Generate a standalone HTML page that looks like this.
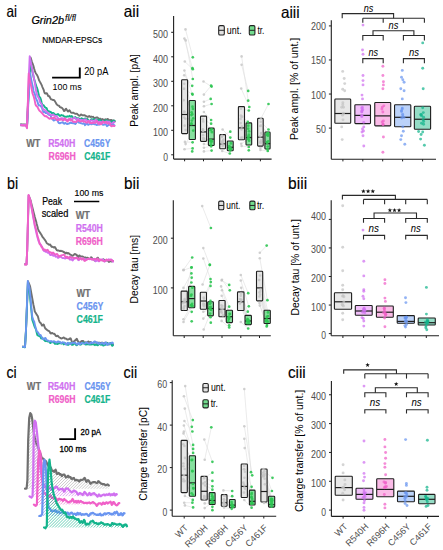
<!DOCTYPE html>
<html><head><meta charset="utf-8"><style>
html,body{margin:0;padding:0;background:#fff;width:443px;height:550px;overflow:hidden}
svg{display:block}
text{font-family:"Liberation Sans",sans-serif}
</style></head><body>
<svg width="443" height="550" viewBox="0 0 443 550">
<rect x="0" y="0" width="443" height="550" fill="#fff"/>
<text x="6.50" y="16.90" font-size="16.5" fill="#000" textLength="10.50" lengthAdjust="spacingAndGlyphs" stroke="#000" stroke-width="0.15" stroke-linejoin="round">ai</text>
<text x="123.70" y="17.20" font-size="16.5" fill="#000" textLength="15.40" lengthAdjust="spacingAndGlyphs" stroke="#000" stroke-width="0.15" stroke-linejoin="round">aii</text>
<text x="280.90" y="17.60" font-size="16.5" fill="#000" textLength="18.70" lengthAdjust="spacingAndGlyphs" stroke="#000" stroke-width="0.15" stroke-linejoin="round">aiii</text>
<text x="7.00" y="189.00" font-size="16.5" fill="#000" textLength="11.10" lengthAdjust="spacingAndGlyphs" stroke="#000" stroke-width="0.15" stroke-linejoin="round">bi</text>
<text x="124.00" y="189.10" font-size="16.5" fill="#000" textLength="15.30" lengthAdjust="spacingAndGlyphs" stroke="#000" stroke-width="0.15" stroke-linejoin="round">bii</text>
<text x="288.10" y="189.00" font-size="16.5" fill="#000" textLength="19.00" lengthAdjust="spacingAndGlyphs" stroke="#000" stroke-width="0.15" stroke-linejoin="round">biii</text>
<text x="6.50" y="377.60" font-size="16.5" fill="#000" textLength="10.20" lengthAdjust="spacingAndGlyphs" stroke="#000" stroke-width="0.15" stroke-linejoin="round">ci</text>
<text x="123.50" y="377.60" font-size="16.5" fill="#000" textLength="13.60" lengthAdjust="spacingAndGlyphs" stroke="#000" stroke-width="0.15" stroke-linejoin="round">cii</text>
<text x="287.90" y="377.60" font-size="16.5" fill="#000" textLength="17.80" lengthAdjust="spacingAndGlyphs" stroke="#000" stroke-width="0.15" stroke-linejoin="round">ciii</text>
<text x="31.40" y="24.30" font-size="10.3" fill="#000" font-style="italic" textLength="32.60" lengthAdjust="spacingAndGlyphs" stroke="#000" stroke-width="0.2" stroke-linejoin="round">Grin2b</text>
<text x="65.00" y="21.20" font-size="8.2" fill="#000" font-style="italic" textLength="11.00" lengthAdjust="spacingAndGlyphs" stroke="#000" stroke-width="0.1" stroke-linejoin="round">fl/fl</text>
<text x="42.30" y="43.10" font-size="8.9" fill="#000" textLength="59.80" lengthAdjust="spacingAndGlyphs" stroke="#000" stroke-width="0.15" stroke-linejoin="round">NMDAR-EPSCs</text>
<polyline points="21.00,124.30 21.62,124.34 22.25,124.38 22.88,124.41 23.50,124.45 24.12,124.49 24.75,124.52 25.38,124.56 26.00,124.60 26.50,125.30 27.00,126.00 27.70,110.50 28.40,95.00 28.95,85.62 29.50,76.25 30.05,66.88 30.60,57.50 31.30,59.75 32.00,62.00 32.70,63.96 33.40,65.78 34.10,68.51 34.80,70.88 35.50,72.64 36.11,73.74 36.73,74.54 37.34,75.61 37.96,76.95 38.57,78.80 39.19,80.57 39.80,81.63 40.43,82.71 41.06,83.93 41.69,85.16 42.31,86.77 42.94,88.24 43.57,89.54 44.20,91.80 44.86,93.43 45.53,93.66 46.19,93.25 46.85,93.23 47.52,94.47 48.18,96.12 48.85,96.30 49.51,96.28 50.17,97.78 50.84,99.22 51.50,99.39 52.15,99.61 52.81,99.99 53.46,99.88 54.12,100.07 54.77,100.96 55.42,102.14 56.08,103.35 56.73,104.38 57.38,104.93 58.04,105.37 58.69,105.66 59.35,106.07 60.00,107.18 60.67,107.52 61.35,107.47 62.03,107.96 62.70,108.64 63.38,109.74 64.05,110.96 64.73,110.82 65.40,109.28 66.08,108.71 66.75,109.71 67.42,110.86 68.10,111.57 68.78,111.00 69.45,110.19 70.12,111.11 70.80,112.37 71.48,112.76 72.16,112.84 72.84,112.65 73.52,112.73 74.20,113.27 74.88,113.70 75.56,113.86 76.24,113.75 76.92,113.81 77.60,114.36 78.28,114.95 78.96,115.62 79.64,115.78 80.31,115.14 80.99,114.55 81.67,114.66 82.35,115.24 83.03,115.34 83.71,115.22 84.39,115.25 85.06,115.49 85.74,115.86 86.42,116.19 87.10,116.72 87.77,116.95 88.45,116.48 89.12,116.07 89.80,116.66 90.47,117.04 91.15,116.57 91.83,116.73 92.50,116.86 93.17,116.78 93.85,117.70 94.53,118.18 95.20,117.84 95.88,117.66 96.56,117.51 97.24,117.40 97.91,117.76 98.59,118.81 99.27,119.17 99.95,118.58 100.63,118.71 101.31,120.02 101.99,120.00 102.66,118.95 103.34,119.87 104.02,120.75 104.70,119.73 105.38,119.13 106.06,119.68 106.74,119.63 107.42,118.96 108.10,119.08 108.78,120.12 109.46,120.46 110.14,120.11 110.82,119.96 111.50,119.98 112.18,120.51 112.86,120.65 113.54,120.40 114.22,120.76 114.90,121.19" stroke="#707070" stroke-width="1.9" fill="none" stroke-linejoin="round" stroke-linecap="round"/>
<polyline points="21.00,124.80 21.62,124.83 22.25,124.85 22.88,124.88 23.50,124.90 24.12,124.92 24.75,124.95 25.38,124.97 26.00,125.00 26.50,125.75 27.00,126.50 27.50,116.00 28.00,105.50 28.50,95.00 29.17,83.67 29.83,72.33 30.50,61.00 31.00,64.00 31.50,67.00 32.00,70.00 32.67,73.03 33.33,75.79 34.00,78.91 34.63,80.57 35.26,82.70 35.89,84.92 36.51,86.63 37.14,88.20 37.77,90.36 38.40,93.10 39.03,95.75 39.66,97.40 40.29,97.70 40.91,99.49 41.54,102.29 42.17,104.29 42.80,105.26 43.45,105.10 44.11,106.02 44.76,106.99 45.42,107.62 46.07,107.88 46.73,108.36 47.38,110.30 48.04,111.34 48.69,111.11 49.35,111.63 50.00,111.96 50.67,111.81 51.33,112.64 52.00,113.31 52.67,113.03 53.33,112.97 54.00,113.57 54.67,114.49 55.33,114.84 56.00,114.56 56.67,114.85 57.33,114.66 58.00,114.02 58.67,114.62 59.33,115.52 60.00,116.03 60.67,115.64 61.35,115.02 62.02,115.41 62.70,115.44 63.38,115.42 64.05,116.49 64.72,116.86 65.40,116.60 66.08,116.78 66.75,116.69 67.42,116.31 68.10,116.62 68.78,116.67 69.45,115.76 70.12,116.33 70.80,116.82 71.47,116.04 72.15,116.42 72.83,117.38 73.50,118.15 74.18,118.28 74.86,117.23 75.54,117.07 76.22,118.49 76.90,118.83 77.58,118.12 78.26,118.22 78.94,118.64 79.62,118.76 80.30,119.06 80.98,118.84 81.66,118.25 82.34,118.88 83.02,119.25 83.70,119.21 84.38,118.92 85.06,118.38 85.74,119.30 86.42,119.54 87.10,118.97 87.78,119.29 88.47,120.24 89.16,121.59 89.84,121.65 90.52,120.30 91.21,119.29 91.89,119.16 92.58,119.34 93.27,119.24 93.95,119.11 94.63,119.35 95.32,119.62 96.00,119.58 96.69,119.39 97.38,120.30 98.06,121.17 98.74,119.99 99.43,119.55 100.11,120.40 100.80,120.66 101.48,121.06 102.17,121.71 102.85,122.00 103.54,121.37 104.22,120.86 104.91,120.80 105.59,120.26 106.28,120.33 106.97,120.49 107.65,120.59 108.34,121.24 109.02,121.69 109.70,121.49 110.39,121.11 111.08,121.71 111.76,122.15 112.44,121.42 113.13,120.79 113.81,120.70 114.50,120.80" stroke="#14b48c" stroke-width="1.9" fill="none" stroke-linejoin="round" stroke-linecap="round"/>
<polyline points="21.00,125.20 21.62,125.21 22.25,125.22 22.88,125.24 23.50,125.25 24.12,125.26 24.75,125.28 25.38,125.29 26.00,125.30 26.50,126.40 27.00,127.50 27.50,118.33 28.00,109.17 28.50,100.00 29.03,90.83 29.57,81.67 30.10,72.50 30.60,75.80 31.10,79.10 31.68,81.72 32.26,84.34 32.84,86.96 33.42,90.48 34.00,92.48 34.58,93.20 35.16,95.17 35.74,97.59 36.32,99.10 36.90,100.42 37.56,101.99 38.21,104.24 38.87,105.44 39.52,105.19 40.18,105.68 40.83,106.40 41.49,106.96 42.14,108.48 42.80,110.65 43.48,112.02 44.16,111.95 44.85,111.85 45.53,112.95 46.21,113.10 46.89,112.80 47.58,113.56 48.26,114.31 48.94,114.90 49.62,115.16 50.31,115.15 50.99,116.53 51.67,118.33 52.35,119.18 53.04,119.78 53.72,120.46 54.40,120.39 55.02,119.87 55.64,119.80 56.27,119.49 56.89,119.38 57.51,120.21 58.13,122.02 58.76,122.97 59.38,123.07 60.00,123.40 60.69,122.80 61.39,122.60 62.08,122.51 62.78,122.26 63.47,123.28 64.17,123.77 64.86,123.05 65.56,123.03 66.25,123.58 66.95,124.07 67.64,123.96 68.34,123.71 69.03,123.66 69.73,122.95 70.42,122.72 71.12,123.10 71.81,122.79 72.51,123.07 73.20,123.37 73.90,122.94 74.59,123.43 75.29,124.01 75.98,123.38 76.68,121.92 77.37,121.06 78.07,121.76 78.76,122.63 79.46,122.69 80.15,122.87 80.85,123.29 81.54,123.29 82.24,123.55 82.93,123.73 83.63,123.25 84.32,123.89 85.02,125.17 85.71,124.52 86.41,123.23 87.10,123.53 87.78,124.52 88.47,124.82 89.16,124.21 89.84,123.45 90.52,123.57 91.21,124.27 91.89,124.27 92.58,123.81 93.27,123.72 93.95,124.06 94.63,124.29 95.32,124.17 96.00,124.60 96.69,125.09 97.38,124.62 98.06,124.41 98.74,124.75 99.43,124.55 100.11,124.29 100.80,123.65 101.48,123.33 102.17,124.27 102.85,124.82 103.54,124.76 104.22,124.62 104.91,124.18 105.59,124.06 106.28,125.03 106.97,126.15 107.65,125.76 108.34,124.99 109.02,124.96 109.70,124.70 110.39,124.83 111.08,125.25 111.76,124.50 112.44,123.66 113.13,124.11 113.81,124.98 114.50,125.30" stroke="#6a95f0" stroke-width="1.9" fill="none" stroke-linejoin="round" stroke-linecap="round"/>
<polyline points="21.00,124.80 21.62,124.83 22.25,124.85 22.88,124.88 23.50,124.90 24.12,124.92 24.75,124.95 25.38,124.97 26.00,125.00 26.50,126.00 27.00,127.00 27.65,108.50 28.30,90.00 29.00,73.15 29.70,56.30 30.28,59.40 30.86,62.50 31.44,65.60 32.02,68.70 32.60,71.80 33.21,74.37 33.83,77.84 34.44,80.94 35.06,84.30 35.67,88.53 36.29,91.98 36.90,94.50 37.53,95.69 38.16,97.25 38.79,98.15 39.41,99.69 40.04,102.13 40.67,103.13 41.30,103.57 41.94,104.99 42.59,107.72 43.23,109.51 43.88,109.64 44.52,109.70 45.17,110.22 45.81,110.68 46.46,111.35 47.10,111.94 47.78,112.46 48.46,113.37 49.14,113.87 49.82,114.24 50.49,114.70 51.17,114.93 51.85,115.42 52.53,115.21 53.21,114.49 53.89,115.13 54.57,115.76 55.25,115.86 55.93,116.01 56.61,116.22 57.28,117.23 57.96,118.05 58.64,118.87 59.32,119.78 60.00,119.37 60.69,118.37 61.39,118.16 62.08,118.20 62.78,118.47 63.47,118.90 64.17,118.70 64.86,119.20 65.56,120.34 66.25,120.16 66.95,119.74 67.64,119.76 68.34,119.54 69.03,119.43 69.73,118.99 70.42,118.65 71.12,119.36 71.81,119.73 72.51,118.93 73.20,118.31 73.90,117.91 74.59,117.55 75.29,117.96 75.98,119.18 76.68,120.17 77.37,119.29 78.07,118.70 78.76,119.58 79.46,119.79 80.15,119.70 80.85,119.90 81.54,119.82 82.24,119.92 82.93,120.46 83.63,120.33 84.32,119.73 85.02,119.43 85.71,119.48 86.41,120.16 87.10,120.82 87.78,120.97 88.47,120.78 89.16,120.91 89.84,121.26 90.52,120.85 91.21,120.42 91.89,120.47 92.58,120.60 93.27,121.29 93.95,122.15 94.63,121.31 95.32,120.02 96.00,119.92 96.69,120.47 97.38,121.78 98.06,122.29 98.74,121.74 99.43,121.66 100.11,121.75 100.80,122.35 101.48,122.78 102.17,121.75 102.85,121.25 103.54,122.18 104.22,122.77 104.91,122.98 105.59,122.81 106.28,121.58 106.97,121.28 107.65,122.34 108.34,122.21 109.02,121.38 109.70,121.93 110.39,123.12 111.08,123.35 111.76,123.38 112.44,123.37 113.13,122.56 113.81,121.99 114.50,122.35" stroke="#d070f0" stroke-width="1.9" fill="none" stroke-linejoin="round" stroke-linecap="round"/>
<polyline points="21.00,125.40 21.62,125.41 22.25,125.43 22.88,125.44 23.50,125.45 24.12,125.46 24.75,125.47 25.38,125.49 26.00,125.50 26.50,126.90 27.00,128.30 27.50,114.15 28.00,100.00 28.70,73.50 29.35,76.75 30.00,80.00 30.65,83.42 31.30,86.85 31.95,90.28 32.60,93.70 33.18,95.09 33.76,96.71 34.34,98.91 34.92,101.64 35.50,104.58 36.11,105.69 36.73,106.13 37.34,106.83 37.96,107.93 38.57,109.29 39.19,110.41 39.80,111.06 40.46,111.50 41.13,112.18 41.79,112.79 42.45,113.50 43.12,114.43 43.78,115.20 44.45,115.71 45.11,116.24 45.77,116.09 46.44,116.12 47.10,117.02 47.78,117.45 48.46,117.91 49.14,118.58 49.82,118.72 50.49,118.17 51.17,117.67 51.85,118.15 52.53,118.89 53.21,118.30 53.89,117.34 54.57,117.41 55.25,118.31 55.93,119.13 56.61,119.73 57.28,120.42 57.96,120.13 58.64,119.29 59.32,119.34 60.00,119.78 60.69,119.37 61.39,119.14 62.08,119.70 62.78,120.20 63.47,120.43 64.17,119.25 64.86,118.37 65.56,118.99 66.25,119.57 66.95,120.97 67.64,121.56 68.34,120.14 69.03,119.02 69.73,119.41 70.42,120.44 71.12,120.43 71.81,120.04 72.51,120.90 73.20,121.95 73.90,121.79 74.59,121.58 75.29,121.86 75.98,122.10 76.68,121.73 77.37,120.89 78.07,120.56 78.76,120.47 79.46,120.95 80.15,121.65 80.85,121.42 81.54,121.06 82.24,120.92 82.93,121.27 83.63,121.83 84.32,121.56 85.02,121.53 85.71,122.17 86.41,122.62 87.10,122.68 87.78,121.88 88.47,121.31 89.16,122.19 89.84,123.04 90.52,122.82 91.21,122.93 91.89,123.33 92.58,122.73 93.27,122.64 93.95,122.72 94.63,122.65 95.32,123.01 96.00,122.19 96.69,121.04 97.38,121.67 98.06,123.60 98.74,124.10 99.43,122.90 100.11,123.17 100.80,124.30 101.48,124.00 102.17,122.91 102.85,121.94 103.54,121.78 104.22,122.47 104.91,122.50 105.59,121.72 106.28,122.15 106.97,123.36 107.65,123.49 108.34,123.24 109.02,123.29 109.70,123.73 110.39,124.93 111.08,126.07 111.76,126.20 112.44,125.58 113.13,125.48 113.81,126.06 114.50,125.98" stroke="#f060c8" stroke-width="1.9" fill="none" stroke-linejoin="round" stroke-linecap="round"/>
<polyline points="52.10,77.60 79.80,77.60 79.80,67.40" stroke="#000" stroke-width="1.9" fill="none" stroke-linejoin="miter"/>
<text x="84.20" y="74.80" font-size="10.0" fill="#000" textLength="24.30" lengthAdjust="spacingAndGlyphs">20 pA</text>
<text x="52.50" y="89.70" font-size="9.2" fill="#000" textLength="29.20" lengthAdjust="spacingAndGlyphs">100 ms</text>
<text x="26.20" y="146.80" font-size="10.0" fill="#707070" font-weight="bold" textLength="14.20" lengthAdjust="spacingAndGlyphs" stroke="#707070" stroke-width="0.2" stroke-linejoin="round">WT</text>
<text x="48.20" y="146.70" font-size="10.0" fill="#d070f0" font-weight="bold" textLength="27.20" lengthAdjust="spacingAndGlyphs" stroke="#d070f0" stroke-width="0.2" stroke-linejoin="round">R540H</text>
<text x="84.10" y="146.70" font-size="10.0" fill="#6a95f0" font-weight="bold" textLength="26.30" lengthAdjust="spacingAndGlyphs" stroke="#6a95f0" stroke-width="0.2" stroke-linejoin="round">C456Y</text>
<text x="48.60" y="159.50" font-size="10.0" fill="#f060c8" font-weight="bold" textLength="27.20" lengthAdjust="spacingAndGlyphs" stroke="#f060c8" stroke-width="0.2" stroke-linejoin="round">R696H</text>
<text x="84.30" y="159.50" font-size="10.0" fill="#14b48c" font-weight="bold" textLength="26.10" lengthAdjust="spacingAndGlyphs" stroke="#14b48c" stroke-width="0.2" stroke-linejoin="round">C461F</text>
<polyline points="24.90,264.20 25.43,264.20 25.97,264.20 26.50,264.20 27.20,250.00 27.70,231.87 28.20,213.73 28.70,195.60 29.30,197.07 29.90,198.53 30.50,200.00 31.11,202.43 31.73,204.86 32.34,207.29 32.96,209.71 33.57,212.14 34.19,214.57 34.80,217.00 35.44,219.20 36.08,221.31 36.72,223.96 37.36,226.16 38.00,228.81 38.61,230.62 39.23,231.44 39.84,232.31 40.46,233.41 41.07,234.21 41.69,235.24 42.30,236.54 42.93,237.34 43.57,238.15 44.20,238.96 44.83,239.85 45.47,240.85 46.10,241.82 46.73,243.06 47.37,243.69 48.00,243.88 48.67,244.67 49.34,244.74 50.01,244.43 50.68,245.27 51.35,246.47 52.02,246.93 52.69,246.76 53.36,247.29 54.03,247.50 54.70,246.97 55.36,247.55 56.03,249.09 56.69,250.10 57.35,250.49 58.02,250.52 58.68,250.48 59.35,250.89 60.01,251.14 60.67,250.73 61.34,250.99 62.00,251.22 62.67,251.26 63.33,251.98 64.00,252.00 64.67,252.67 65.33,253.52 66.00,252.69 66.67,252.80 67.33,253.55 68.00,252.99 68.67,253.07 69.33,254.02 70.00,254.51 70.67,254.70 71.33,255.10 72.00,255.72 72.68,255.85 73.37,255.27 74.05,254.53 74.74,253.93 75.42,254.14 76.11,254.74 76.79,254.98 77.47,256.30 78.16,256.97 78.84,255.79 79.53,255.36 80.21,256.15 80.89,256.65 81.58,256.40 82.26,256.37 82.95,256.60 83.63,257.26 84.32,257.75 85.00,257.33 85.68,257.43 86.36,258.12 87.05,257.99 87.73,257.70 88.41,258.37 89.09,258.90 89.77,258.81 90.45,258.04 91.14,257.16 91.82,257.77 92.50,258.81 93.18,258.84 93.86,259.20 94.55,260.49 95.23,260.71 95.91,260.17 96.59,259.60 97.27,257.91 97.95,257.66 98.64,259.15 99.32,259.69 100.00,259.92 100.68,260.06 101.37,260.02 102.05,260.24 102.74,259.76 103.42,259.22 104.11,259.86 104.79,260.96 105.47,261.16 106.16,260.32 106.84,260.10 107.53,260.37 108.21,261.05 108.89,261.94 109.58,261.56 110.26,260.96 110.95,261.37 111.63,261.50 112.32,260.95 113.00,261.04" stroke="#707070" stroke-width="1.9" fill="none" stroke-linejoin="round" stroke-linecap="round"/>
<polyline points="24.90,264.40 25.43,264.40 25.97,264.40 26.50,264.40 27.20,250.00 27.67,231.73 28.13,213.47 28.60,195.20 29.23,197.47 29.87,199.73 30.50,202.00 31.11,205.43 31.73,208.86 32.34,212.29 32.96,215.71 33.57,219.14 34.19,222.57 34.80,226.00 35.42,228.50 36.05,231.57 36.67,234.21 37.30,236.43 37.92,239.08 38.55,241.16 39.17,242.30 39.80,243.82 40.40,244.50 41.00,245.19 41.60,246.08 42.20,247.64 42.80,249.05 43.40,250.17 44.00,251.00 44.64,251.16 45.28,251.55 45.92,251.87 46.56,251.81 47.20,252.28 47.85,252.85 48.50,252.93 49.15,253.17 49.80,254.17 50.45,255.12 51.10,254.99 51.75,254.47 52.40,254.51 53.05,255.68 53.70,255.87 54.35,254.69 55.00,255.45 55.68,256.70 56.36,256.52 57.05,256.61 57.73,257.77 58.41,257.90 59.09,257.14 59.77,256.82 60.45,256.72 61.14,257.00 61.82,257.58 62.50,258.13 63.18,258.11 63.86,258.03 64.55,258.46 65.23,258.65 65.91,258.02 66.59,257.78 67.27,258.26 67.95,257.90 68.64,257.74 69.32,258.65 70.00,259.70 70.68,259.51 71.36,258.90 72.05,259.94 72.73,260.38 73.41,259.27 74.09,258.71 74.77,258.57 75.45,258.25 76.14,257.71 76.82,257.75 77.50,258.70 78.18,259.92 78.86,260.17 79.55,258.64 80.23,257.83 80.91,258.68 81.59,259.26 82.27,259.36 82.95,258.92 83.64,258.37 84.32,258.93 85.00,259.86 85.70,259.64 86.40,259.32 87.10,259.39 87.80,258.85 88.50,258.95 89.20,259.23 89.90,258.59 90.60,258.62 91.30,259.40 92.00,259.68 92.70,259.49 93.40,259.11 94.10,258.82 94.80,260.03 95.50,261.35 96.20,260.97 96.90,260.55 97.60,260.55 98.30,261.08 99.00,261.38 99.70,260.58 100.40,259.50 101.10,259.46 101.80,260.00 102.50,259.39 103.20,259.59 103.90,261.28 104.60,261.69 105.30,260.76 106.00,260.06 106.70,260.06 107.40,260.33 108.10,259.85 108.80,259.24 109.50,259.71 110.20,260.02 110.90,259.44 111.60,259.61 112.30,260.96 113.00,261.75" stroke="#d070f0" stroke-width="1.9" fill="none" stroke-linejoin="round" stroke-linecap="round"/>
<polyline points="24.90,264.50 25.43,264.50 25.97,264.50 26.50,264.50 27.20,250.00 27.67,231.67 28.13,213.33 28.60,195.00 29.23,197.00 29.87,199.00 30.50,201.00 31.11,204.39 31.73,207.77 32.34,211.16 32.96,214.54 33.57,217.93 34.19,221.31 34.80,224.70 35.42,227.19 36.05,229.55 36.67,231.92 37.30,235.36 37.92,237.74 38.55,239.21 39.17,241.77 39.80,244.21 40.40,244.30 41.00,245.76 41.60,246.97 42.20,247.00 42.80,248.48 43.40,249.90 44.00,249.56 44.64,249.37 45.28,250.17 45.92,250.77 46.56,250.48 47.20,249.78 47.85,250.18 48.50,251.07 49.15,251.78 49.80,252.36 50.45,252.17 51.10,252.64 51.75,253.64 52.40,253.15 53.05,252.59 53.70,253.10 54.35,253.81 55.00,254.49 55.68,254.54 56.36,254.14 57.05,253.99 57.73,254.61 58.41,256.05 59.09,256.55 59.77,255.85 60.45,255.70 61.14,255.66 61.82,255.23 62.50,255.14 63.18,254.89 63.86,254.54 64.55,255.33 65.23,256.71 65.91,257.17 66.59,256.74 67.27,256.77 67.95,257.91 68.64,258.33 69.32,257.17 70.00,256.63 70.69,257.26 71.38,257.63 72.07,257.58 72.76,257.69 73.45,257.85 74.14,258.10 74.83,258.02 75.52,258.15 76.21,258.36 76.90,257.76 77.60,257.95 78.29,259.08 78.98,259.48 79.67,258.53 80.36,257.90 81.05,258.91 81.74,259.44 82.43,258.53 83.12,258.29 83.81,259.84 84.50,260.95 85.20,260.75 85.89,260.31 86.59,259.65 87.28,259.34 87.98,258.98 88.67,258.70 89.37,258.89 90.06,258.86 90.76,258.81 91.45,258.98 92.15,259.25 92.84,259.59 93.54,259.49 94.23,259.29 94.93,259.21 95.62,258.99 96.32,259.51 97.01,259.40 97.71,258.59 98.40,259.51 99.10,260.80 99.79,260.59 100.49,259.85 101.18,259.81 101.88,260.29 102.57,260.69 103.27,260.87 103.96,260.92 104.66,261.06 105.35,260.66 106.05,259.76 106.74,259.44 107.44,259.97 108.13,260.32 108.83,260.39 109.52,260.37 110.22,259.85 110.91,259.71 111.61,260.10 112.30,260.62 113.00,260.88" stroke="#f060c8" stroke-width="1.9" fill="none" stroke-linejoin="round" stroke-linecap="round"/>
<line x1="74.00" y1="201.50" x2="99.30" y2="201.50" stroke="#000" stroke-width="1.5"/>
<text x="74.60" y="196.10" font-size="9.6" fill="#000" textLength="28.80" lengthAdjust="spacingAndGlyphs" stroke="#000" stroke-width="0.15" stroke-linejoin="round">100 ms</text>
<text x="42.20" y="204.60" font-size="10.0" fill="#000" textLength="19.80" lengthAdjust="spacingAndGlyphs" stroke="#000" stroke-width="0.2" stroke-linejoin="round">Peak</text>
<text x="41.70" y="216.50" font-size="10.0" fill="#000" textLength="26.60" lengthAdjust="spacingAndGlyphs" stroke="#000" stroke-width="0.2" stroke-linejoin="round">scaled</text>
<text x="75.70" y="219.20" font-size="10.0" fill="#707070" font-weight="bold" textLength="14.20" lengthAdjust="spacingAndGlyphs" stroke="#707070" stroke-width="0.2" stroke-linejoin="round">WT</text>
<text x="75.70" y="232.00" font-size="10.0" fill="#d070f0" font-weight="bold" textLength="27.20" lengthAdjust="spacingAndGlyphs" stroke="#d070f0" stroke-width="0.2" stroke-linejoin="round">R540H</text>
<text x="75.70" y="244.50" font-size="10.0" fill="#f060c8" font-weight="bold" textLength="27.20" lengthAdjust="spacingAndGlyphs" stroke="#f060c8" stroke-width="0.2" stroke-linejoin="round">R696H</text>
<polyline points="22.90,346.50 23.42,346.57 23.95,346.65 24.48,346.73 25.00,346.80 25.50,338.40 26.00,330.00 26.67,313.77 27.33,297.53 28.00,281.30 28.67,282.87 29.33,284.43 30.00,286.00 30.69,289.74 31.37,293.49 32.06,297.23 32.74,300.97 33.43,304.71 34.11,307.79 34.80,311.54 35.45,312.51 36.10,313.60 36.75,314.71 37.40,315.33 38.05,316.91 38.70,319.44 39.35,321.49 40.00,322.57 40.65,322.88 41.31,324.13 41.96,325.58 42.62,325.53 43.27,324.45 43.93,324.80 44.58,326.93 45.24,328.39 45.89,328.86 46.55,329.55 47.20,330.10 47.84,330.39 48.49,330.89 49.13,331.16 49.78,331.92 50.42,333.30 51.07,333.47 51.71,332.88 52.36,332.86 53.00,333.43 53.67,333.85 54.34,333.79 55.01,334.50 55.68,335.72 56.35,336.23 57.02,335.96 57.69,335.79 58.36,336.46 59.03,337.25 59.70,337.67 60.39,337.90 61.07,338.38 61.76,338.48 62.45,338.12 63.13,337.70 63.82,337.52 64.51,338.11 65.19,338.68 65.88,338.50 66.57,338.81 67.25,339.65 67.94,339.58 68.63,339.25 69.31,339.01 70.00,338.29 70.69,338.42 71.38,340.37 72.07,342.24 72.76,342.77 73.45,342.38 74.14,341.15 74.83,340.51 75.52,340.58 76.21,339.32 76.90,338.74 77.60,340.52 78.29,341.89 78.98,342.25 79.67,342.54 80.36,342.31 81.05,341.53 81.74,340.96 82.43,340.89 83.12,340.90 83.81,341.88 84.50,343.09 85.17,342.88 85.85,342.21 86.52,342.67 87.20,343.02 87.87,341.64 88.54,341.52 89.22,342.52 89.89,342.12 90.57,342.04 91.24,342.94 91.91,343.52 92.59,343.16 93.26,342.76 93.93,342.75 94.61,342.20 95.28,341.83 95.96,342.33 96.63,342.97 97.30,342.84 97.98,342.64 98.65,342.80 99.33,342.68 100.00,342.80 100.68,343.04 101.37,342.87 102.05,342.51 102.74,342.99 103.42,343.43 104.11,342.99 104.79,343.19 105.47,343.32 106.16,342.77 106.84,342.73 107.53,343.36 108.21,344.11 108.89,344.48 109.58,343.89 110.26,343.11 110.95,343.58 111.63,344.78 112.32,344.97 113.00,344.46" stroke="#707070" stroke-width="1.9" fill="none" stroke-linejoin="round" stroke-linecap="round"/>
<polyline points="22.90,347.00 23.42,347.07 23.95,347.15 24.48,347.23 25.00,347.30 25.50,338.65 26.00,330.00 26.63,314.00 27.27,298.00 27.90,282.00 28.43,285.33 28.97,288.67 29.50,292.00 30.20,299.00 30.90,306.00 31.60,313.00 32.30,320.00 32.92,321.75 33.55,323.50 34.17,325.37 34.80,327.19 35.42,328.16 36.05,329.73 36.67,332.57 37.30,334.92 37.98,335.44 38.66,335.85 39.35,336.02 40.03,336.07 40.71,337.62 41.39,338.58 42.07,337.64 42.75,338.17 43.44,339.33 44.12,339.76 44.80,340.68 45.48,341.11 46.16,341.19 46.84,341.05 47.52,341.17 48.20,341.67 48.88,341.46 49.56,341.94 50.24,343.09 50.92,342.65 51.60,341.63 52.28,341.66 52.96,342.35 53.64,342.45 54.32,342.83 55.00,343.90 55.68,343.85 56.36,343.43 57.05,343.81 57.73,343.98 58.41,343.38 59.09,343.18 59.77,343.21 60.45,343.03 61.14,343.49 61.82,343.49 62.50,342.70 63.18,343.53 63.86,344.38 64.55,343.38 65.23,343.19 65.91,343.85 66.59,344.19 67.27,344.55 67.95,344.84 68.64,344.70 69.32,343.80 70.00,343.10 70.69,343.59 71.39,344.42 72.08,344.86 72.77,344.84 73.47,343.94 74.16,343.13 74.85,343.46 75.55,344.36 76.24,345.04 76.94,345.21 77.63,344.49 78.32,343.46 79.02,343.64 79.71,344.42 80.40,344.74 81.10,344.38 81.79,343.85 82.48,343.32 83.18,342.53 83.87,343.06 84.56,343.96 85.26,344.25 85.95,344.54 86.65,344.33 87.34,344.35 88.03,344.36 88.73,344.34 89.42,344.67 90.11,344.48 90.81,344.48 91.50,344.43 92.19,344.10 92.89,344.30 93.58,344.35 94.27,344.76 94.97,345.17 95.66,344.35 96.35,344.34 97.05,345.14 97.74,345.29 98.44,344.67 99.13,343.67 99.82,343.76 100.52,344.69 101.21,344.88 101.90,344.24 102.60,344.66 103.29,345.61 103.98,345.32 104.68,344.76 105.37,344.86 106.06,344.55 106.76,343.42 107.45,343.22 108.15,343.90 108.84,344.36 109.53,343.86 110.23,343.22 110.92,343.65 111.61,344.85 112.31,345.85 113.00,345.19" stroke="#14b48c" stroke-width="1.9" fill="none" stroke-linejoin="round" stroke-linecap="round"/>
<polyline points="22.90,346.80 23.42,346.85 23.95,346.90 24.48,346.95 25.00,347.00 25.50,338.50 26.00,330.00 26.60,313.67 27.20,297.33 27.80,281.00 28.37,283.33 28.93,285.67 29.50,288.00 30.20,295.25 30.90,302.50 31.60,309.75 32.30,317.00 32.92,318.88 33.55,320.75 34.17,321.45 34.80,324.41 35.42,327.10 36.05,329.13 36.67,330.85 37.30,332.10 37.98,332.14 38.66,333.38 39.35,334.82 40.03,334.84 40.71,335.15 41.39,336.71 42.07,337.69 42.75,338.62 43.44,339.37 44.12,338.88 44.80,338.18 45.48,338.00 46.16,339.35 46.84,340.40 47.52,340.34 48.20,340.62 48.88,341.19 49.56,341.32 50.24,341.19 50.92,341.07 51.60,341.43 52.28,341.92 52.96,341.63 53.64,341.22 54.32,341.34 55.00,341.82 55.68,342.28 56.36,342.49 57.05,342.27 57.73,341.53 58.41,341.33 59.09,341.86 59.77,341.86 60.45,342.33 61.14,343.15 61.82,342.72 62.50,342.30 63.18,342.64 63.86,342.50 64.55,342.64 65.23,343.49 65.91,344.46 66.59,344.56 67.27,343.13 67.95,342.68 68.64,343.57 69.32,343.81 70.00,343.73 70.69,343.94 71.39,343.38 72.08,342.61 72.77,342.73 73.47,342.96 74.16,342.81 74.85,342.63 75.55,343.09 76.24,343.90 76.94,344.52 77.63,344.29 78.32,342.90 79.02,342.90 79.71,344.23 80.40,344.15 81.10,343.28 81.79,342.91 82.48,343.19 83.18,343.36 83.87,343.60 84.56,343.69 85.26,343.14 85.95,342.55 86.65,342.36 87.34,342.64 88.03,343.24 88.73,343.59 89.42,343.46 90.11,343.57 90.81,342.76 91.50,342.11 92.19,342.98 92.89,343.19 93.58,342.40 94.27,341.52 94.97,341.38 95.66,342.48 96.35,342.80 97.05,342.24 97.74,343.27 98.44,343.80 99.13,342.93 99.82,343.32 100.52,343.67 101.21,343.26 101.90,343.05 102.60,342.95 103.29,343.81 103.98,344.40 104.68,343.50 105.37,342.33 106.06,342.58 106.76,344.51 107.45,344.97 108.15,343.73 108.84,343.33 109.53,343.84 110.23,343.78 110.92,343.14 111.61,342.74 112.31,342.54 113.00,343.22" stroke="#6a95f0" stroke-width="1.9" fill="none" stroke-linejoin="round" stroke-linecap="round"/>
<text x="76.50" y="297.30" font-size="10.0" fill="#707070" font-weight="bold" textLength="14.20" lengthAdjust="spacingAndGlyphs" stroke="#707070" stroke-width="0.2" stroke-linejoin="round">WT</text>
<text x="76.50" y="310.20" font-size="10.0" fill="#6a95f0" font-weight="bold" textLength="27.00" lengthAdjust="spacingAndGlyphs" stroke="#6a95f0" stroke-width="0.2" stroke-linejoin="round">C456Y</text>
<text x="76.50" y="322.90" font-size="10.0" fill="#14b48c" font-weight="bold" textLength="26.50" lengthAdjust="spacingAndGlyphs" stroke="#14b48c" stroke-width="0.2" stroke-linejoin="round">C461F</text>
<text x="26.80" y="389.80" font-size="10.0" fill="#707070" font-weight="bold" textLength="14.20" lengthAdjust="spacingAndGlyphs" stroke="#707070" stroke-width="0.2" stroke-linejoin="round">WT</text>
<text x="47.70" y="389.80" font-size="10.0" fill="#d070f0" font-weight="bold" textLength="27.60" lengthAdjust="spacingAndGlyphs" stroke="#d070f0" stroke-width="0.2" stroke-linejoin="round">R540H</text>
<text x="84.40" y="389.80" font-size="10.0" fill="#6a95f0" font-weight="bold" textLength="26.30" lengthAdjust="spacingAndGlyphs" stroke="#6a95f0" stroke-width="0.2" stroke-linejoin="round">C456Y</text>
<text x="48.40" y="403.00" font-size="10.0" fill="#f060c8" font-weight="bold" textLength="27.20" lengthAdjust="spacingAndGlyphs" stroke="#f060c8" stroke-width="0.2" stroke-linejoin="round">R696H</text>
<text x="84.40" y="403.00" font-size="10.0" fill="#14b48c" font-weight="bold" textLength="26.00" lengthAdjust="spacingAndGlyphs" stroke="#14b48c" stroke-width="0.2" stroke-linejoin="round">C461F</text>
<defs><pattern id="hG" patternUnits="userSpaceOnUse" width="2.1" height="2.1" patternTransform="rotate(45)"><line x1="0" y1="0" x2="0" y2="2.1" stroke="#707070" stroke-opacity="0.5" stroke-width="1.0"/></pattern></defs>
<defs><pattern id="hV" patternUnits="userSpaceOnUse" width="2.1" height="2.1" patternTransform="rotate(45)"><line x1="0" y1="0" x2="0" y2="2.1" stroke="#d070f0" stroke-opacity="0.9" stroke-width="1.0"/></pattern></defs>
<defs><pattern id="hP" patternUnits="userSpaceOnUse" width="2.1" height="2.1" patternTransform="rotate(45)"><line x1="0" y1="0" x2="0" y2="2.1" stroke="#f060c8" stroke-opacity="0.9" stroke-width="1.0"/></pattern></defs>
<defs><pattern id="hB" patternUnits="userSpaceOnUse" width="2.1" height="2.1" patternTransform="rotate(45)"><line x1="0" y1="0" x2="0" y2="2.1" stroke="#6a95f0" stroke-opacity="0.9" stroke-width="1.0"/></pattern></defs>
<defs><pattern id="hT" patternUnits="userSpaceOnUse" width="2.1" height="2.1" patternTransform="rotate(45)"><line x1="0" y1="0" x2="0" y2="2.1" stroke="#14b48c" stroke-opacity="0.9" stroke-width="1.0"/></pattern></defs>
<path d="M27.40,480.00 L27.80,460.00 L28.20,440.00 L28.70,429.00 L29.20,418.00 L29.75,415.55 L30.30,413.10 L30.80,413.80 L31.30,414.50 L31.75,416.75 L32.20,419.00 L32.77,423.83 L33.33,428.67 L33.90,433.50 L34.42,435.75 L34.95,438.00 L35.48,440.25 L36.00,442.50 L36.60,444.37 L37.20,445.15 L37.80,446.50 L38.40,447.85 L39.00,449.97 L39.65,451.98 L40.30,453.43 L40.95,455.35 L41.60,457.54 L42.23,458.41 L42.85,458.49 L43.48,458.81 L44.10,459.87 L44.75,460.60 L45.40,460.78 L46.05,461.36 L46.70,462.78 L47.33,464.22 L47.97,464.98 L48.60,466.01 L49.23,467.38 L49.87,467.32 L50.50,467.07 L51.13,468.29 L51.77,470.40 L52.40,471.11 L53.03,470.64 L53.67,471.34 L54.30,471.74 L54.93,470.35 L55.57,469.61 L56.20,471.39 L56.83,473.90 L57.47,473.97 L58.10,473.20 L58.74,472.97 L59.38,473.69 L60.01,474.55 L60.65,474.06 L61.29,474.92 L61.93,476.12 L62.56,475.20 L63.20,474.52 L63.85,474.56 L64.50,474.65 L65.15,476.09 L65.80,477.44 L66.45,477.39 L67.10,477.01 L67.78,475.86 L68.46,475.93 L69.14,477.28 L69.82,477.16 L70.50,477.12 L71.18,478.45 L71.86,479.01 L72.54,478.53 L73.22,478.14 L73.90,477.98 L74.57,479.27 L75.24,480.39 L75.91,480.03 L76.58,479.83 L77.25,480.17 L77.92,480.23 L78.59,480.70 L79.26,481.51 L79.93,480.61 L80.60,479.78 L81.27,480.03 L81.94,479.97 L82.61,479.74 L83.29,479.31 L83.96,478.32 L84.63,477.89 L85.30,479.06 L85.97,481.24 L86.64,481.79 L87.31,480.54 L87.99,480.05 L88.66,480.56 L89.33,481.48 L90.00,482.93 L90.69,483.73 L91.37,482.99 L92.06,482.60 L92.74,482.30 L93.43,482.12 L94.11,482.21 L94.80,482.06 L95.49,482.45 L96.17,482.68 L96.86,483.17 L97.54,482.68 L98.23,481.20 L98.91,481.53 L99.60,482.41 L100.26,482.80 L100.93,483.55 L101.59,483.82 L102.26,483.86 L102.92,484.32 L103.59,484.12 L104.25,484.14 L104.91,484.83 L105.58,485.16 L106.24,485.16 L106.91,484.67 L107.57,484.40 L108.24,484.88 L108.90,485.49 L108.90,488.70 L27.40,488.70 Z" fill="url(#hG)" stroke="none"/>
<polyline points="25.00,488.70 25.53,488.63 26.07,488.57 26.60,488.50 27.00,484.25 27.40,480.00 27.80,460.00 28.20,440.00 28.70,429.00 29.20,418.00 29.75,415.55 30.30,413.10 30.80,413.80 31.30,414.50 31.75,416.75 32.20,419.00 32.77,423.83 33.33,428.67 33.90,433.50 34.42,435.75 34.95,438.00 35.48,440.25 36.00,442.50 36.60,444.37 37.20,445.15 37.80,446.50 38.40,447.85 39.00,449.97 39.65,451.98 40.30,453.43 40.95,455.35 41.60,457.54 42.23,458.41 42.85,458.49 43.48,458.81 44.10,459.87 44.75,460.60 45.40,460.78 46.05,461.36 46.70,462.78 47.33,464.22 47.97,464.98 48.60,466.01 49.23,467.38 49.87,467.32 50.50,467.07 51.13,468.29 51.77,470.40 52.40,471.11 53.03,470.64 53.67,471.34 54.30,471.74 54.93,470.35 55.57,469.61 56.20,471.39 56.83,473.90 57.47,473.97 58.10,473.20 58.74,472.97 59.38,473.69 60.01,474.55 60.65,474.06 61.29,474.92 61.93,476.12 62.56,475.20 63.20,474.52 63.85,474.56 64.50,474.65 65.15,476.09 65.80,477.44 66.45,477.39 67.10,477.01 67.78,475.86 68.46,475.93 69.14,477.28 69.82,477.16 70.50,477.12 71.18,478.45 71.86,479.01 72.54,478.53 73.22,478.14 73.90,477.98 74.57,479.27 75.24,480.39 75.91,480.03 76.58,479.83 77.25,480.17 77.92,480.23 78.59,480.70 79.26,481.51 79.93,480.61 80.60,479.78 81.27,480.03 81.94,479.97 82.61,479.74 83.29,479.31 83.96,478.32 84.63,477.89 85.30,479.06 85.97,481.24 86.64,481.79 87.31,480.54 87.99,480.05 88.66,480.56 89.33,481.48 90.00,482.93 90.69,483.73 91.37,482.99 92.06,482.60 92.74,482.30 93.43,482.12 94.11,482.21 94.80,482.06 95.49,482.45 96.17,482.68 96.86,483.17 97.54,482.68 98.23,481.20 98.91,481.53 99.60,482.41 100.26,482.80 100.93,483.55 101.59,483.82 102.26,483.86 102.92,484.32 103.59,484.12 104.25,484.14 104.91,484.83 105.58,485.16 106.24,485.16 106.91,484.67 107.57,484.40 108.24,484.88 108.90,485.49" stroke="#707070" stroke-width="2.2" fill="none" stroke-linejoin="round" stroke-linecap="round"/>
<path d="M32.50,496.50 L32.85,488.25 L33.20,480.00 L33.60,440.00 L34.20,423.00 L34.90,420.70 L35.35,421.60 L35.80,422.50 L36.45,428.00 L37.10,433.50 L37.75,439.85 L38.40,446.20 L39.00,453.41 L39.60,459.41 L40.25,466.21 L40.90,472.12 L41.45,475.07 L42.00,478.82 L42.50,480.67 L43.00,482.33 L43.50,483.92 L44.12,484.32 L44.75,485.54 L45.38,487.49 L46.00,488.02 L46.67,487.66 L47.33,489.80 L48.00,490.95 L48.67,489.02 L49.33,487.47 L50.00,487.46 L50.70,488.29 L51.40,489.56 L52.10,489.60 L52.80,488.85 L53.50,488.48 L54.20,487.91 L54.90,487.58 L55.54,487.42 L56.17,486.69 L56.81,486.62 L57.45,487.56 L58.09,489.07 L58.73,489.64 L59.36,489.58 L60.00,489.24 L60.65,488.83 L61.29,489.29 L61.94,489.17 L62.58,488.65 L63.23,489.76 L63.87,491.55 L64.52,491.46 L65.16,490.10 L65.81,488.88 L66.45,488.24 L67.10,488.50 L67.78,488.60 L68.46,489.28 L69.14,490.06 L69.82,490.38 L70.50,491.42 L71.18,491.94 L71.86,492.31 L72.54,492.12 L73.22,490.98 L73.90,490.51 L74.58,490.81 L75.25,491.40 L75.93,491.46 L76.60,492.06 L77.28,493.70 L77.95,494.67 L78.62,494.44 L79.30,493.30 L79.98,492.93 L80.65,493.65 L81.33,493.67 L82.00,493.99 L82.68,494.97 L83.35,494.39 L84.03,492.56 L84.70,491.90 L85.38,492.63 L86.05,493.46 L86.73,494.58 L87.40,495.39 L88.08,494.92 L88.76,493.77 L89.43,492.93 L90.11,493.79 L90.79,495.10 L91.47,494.45 L92.14,493.68 L92.82,493.76 L93.50,493.28 L94.18,493.06 L94.86,493.93 L95.53,494.72 L96.21,494.91 L96.89,495.96 L97.57,496.67 L98.24,495.68 L98.92,494.52 L99.60,494.97 L100.29,496.23 L100.98,496.07 L101.66,495.51 L102.35,495.15 L103.04,494.86 L103.73,494.54 L104.42,494.67 L105.10,495.45 L105.79,494.94 L106.48,494.37 L107.17,494.47 L107.86,494.85 L108.54,494.67 L109.23,493.65 L109.92,494.50 L110.61,495.42 L111.30,494.36 L111.98,494.23 L112.67,494.95 L113.36,493.92 L114.05,493.50 L114.74,495.28 L115.42,495.30 L116.11,494.12 L116.80,494.37 L116.80,496.30 L32.50,496.30 Z" fill="url(#hV)" stroke="none"/>
<polyline points="29.50,496.30 30.13,496.73 30.77,497.17 31.40,497.60 31.95,497.05 32.50,496.50 32.85,488.25 33.20,480.00 33.60,440.00 34.20,423.00 34.90,420.70 35.35,421.60 35.80,422.50 36.45,428.00 37.10,433.50 37.75,439.85 38.40,446.20 39.00,453.41 39.60,459.41 40.25,466.21 40.90,472.12 41.45,475.07 42.00,478.82 42.50,480.67 43.00,482.33 43.50,483.92 44.12,484.32 44.75,485.54 45.38,487.49 46.00,488.02 46.67,487.66 47.33,489.80 48.00,490.95 48.67,489.02 49.33,487.47 50.00,487.46 50.70,488.29 51.40,489.56 52.10,489.60 52.80,488.85 53.50,488.48 54.20,487.91 54.90,487.58 55.54,487.42 56.17,486.69 56.81,486.62 57.45,487.56 58.09,489.07 58.73,489.64 59.36,489.58 60.00,489.24 60.65,488.83 61.29,489.29 61.94,489.17 62.58,488.65 63.23,489.76 63.87,491.55 64.52,491.46 65.16,490.10 65.81,488.88 66.45,488.24 67.10,488.50 67.78,488.60 68.46,489.28 69.14,490.06 69.82,490.38 70.50,491.42 71.18,491.94 71.86,492.31 72.54,492.12 73.22,490.98 73.90,490.51 74.58,490.81 75.25,491.40 75.93,491.46 76.60,492.06 77.28,493.70 77.95,494.67 78.62,494.44 79.30,493.30 79.98,492.93 80.65,493.65 81.33,493.67 82.00,493.99 82.68,494.97 83.35,494.39 84.03,492.56 84.70,491.90 85.38,492.63 86.05,493.46 86.73,494.58 87.40,495.39 88.08,494.92 88.76,493.77 89.43,492.93 90.11,493.79 90.79,495.10 91.47,494.45 92.14,493.68 92.82,493.76 93.50,493.28 94.18,493.06 94.86,493.93 95.53,494.72 96.21,494.91 96.89,495.96 97.57,496.67 98.24,495.68 98.92,494.52 99.60,494.97 100.29,496.23 100.98,496.07 101.66,495.51 102.35,495.15 103.04,494.86 103.73,494.54 104.42,494.67 105.10,495.45 105.79,494.94 106.48,494.37 107.17,494.47 107.86,494.85 108.54,494.67 109.23,493.65 109.92,494.50 110.61,495.42 111.30,494.36 111.98,494.23 112.67,494.95 113.36,493.92 114.05,493.50 114.74,495.28 115.42,495.30 116.11,494.12 116.80,494.37" stroke="#d070f0" stroke-width="2.2" fill="none" stroke-linejoin="round" stroke-linecap="round"/>
<path d="M36.90,504.50 L37.50,485.00 L37.85,472.50 L38.20,460.00 L38.75,455.00 L39.30,450.00 L39.75,451.00 L40.20,452.00 L40.60,455.00 L41.00,458.00 L41.60,466.00 L42.00,473.00 L42.40,480.00 L42.80,484.69 L43.20,490.47 L43.80,493.07 L44.40,493.33 L45.00,493.33 L45.67,494.23 L46.33,495.06 L47.00,495.12 L47.70,495.26 L48.40,496.40 L49.10,497.11 L49.80,496.20 L50.50,495.28 L51.15,496.41 L51.79,498.20 L52.44,497.85 L53.08,497.49 L53.73,498.06 L54.37,497.80 L55.02,497.42 L55.66,497.77 L56.31,498.69 L56.95,499.75 L57.60,500.32 L58.27,499.63 L58.95,498.60 L59.62,498.75 L60.29,499.42 L60.96,499.46 L61.64,499.43 L62.31,500.25 L62.98,500.85 L63.65,499.63 L64.33,498.98 L65.00,500.01 L65.68,500.37 L66.37,500.65 L67.05,501.53 L67.74,501.89 L68.42,502.28 L69.11,502.32 L69.79,501.63 L70.48,501.42 L71.16,501.25 L71.85,500.22 L72.53,499.01 L73.22,499.90 L73.90,501.81 L74.59,502.22 L75.29,501.25 L75.98,500.94 L76.68,502.46 L77.37,502.46 L78.07,500.82 L78.76,501.19 L79.46,502.27 L80.15,501.68 L80.85,500.95 L81.54,501.58 L82.24,502.02 L82.93,502.14 L83.62,502.95 L84.32,502.99 L85.01,502.80 L85.71,502.86 L86.40,502.87 L87.10,503.11 L87.79,502.92 L88.49,502.74 L89.18,502.46 L89.88,502.95 L90.57,503.31 L91.26,502.85 L91.96,502.75 L92.65,502.20 L93.35,502.19 L94.04,502.93 L94.74,503.36 L95.43,503.72 L96.13,504.83 L96.82,505.84 L97.52,504.96 L98.21,503.66 L98.91,503.32 L99.60,503.44 L100.28,503.35 L100.96,503.69 L101.64,504.60 L102.32,503.96 L103.00,502.57 L103.68,502.85 L104.36,503.98 L105.03,503.87 L105.71,502.83 L106.39,502.26 L107.07,502.68 L107.75,503.43 L108.43,502.88 L109.11,502.42 L109.79,502.39 L110.47,501.60 L111.15,502.74 L111.83,504.89 L112.51,504.04 L113.19,502.05 L113.87,502.00 L114.54,503.17 L115.22,504.31 L115.90,504.98 L116.58,505.30 L117.26,505.18 L117.94,504.24 L118.62,503.14 L119.30,503.16 L119.30,504.60 L36.90,504.60 Z" fill="url(#hP)" stroke="none"/>
<polyline points="33.90,504.60 34.53,505.03 35.17,505.47 35.80,505.90 36.35,505.20 36.90,504.50 37.50,485.00 37.85,472.50 38.20,460.00 38.75,455.00 39.30,450.00 39.75,451.00 40.20,452.00 40.60,455.00 41.00,458.00 41.60,466.00 42.00,473.00 42.40,480.00 42.80,484.69 43.20,490.47 43.80,493.07 44.40,493.33 45.00,493.33 45.67,494.23 46.33,495.06 47.00,495.12 47.70,495.26 48.40,496.40 49.10,497.11 49.80,496.20 50.50,495.28 51.15,496.41 51.79,498.20 52.44,497.85 53.08,497.49 53.73,498.06 54.37,497.80 55.02,497.42 55.66,497.77 56.31,498.69 56.95,499.75 57.60,500.32 58.27,499.63 58.95,498.60 59.62,498.75 60.29,499.42 60.96,499.46 61.64,499.43 62.31,500.25 62.98,500.85 63.65,499.63 64.33,498.98 65.00,500.01 65.68,500.37 66.37,500.65 67.05,501.53 67.74,501.89 68.42,502.28 69.11,502.32 69.79,501.63 70.48,501.42 71.16,501.25 71.85,500.22 72.53,499.01 73.22,499.90 73.90,501.81 74.59,502.22 75.29,501.25 75.98,500.94 76.68,502.46 77.37,502.46 78.07,500.82 78.76,501.19 79.46,502.27 80.15,501.68 80.85,500.95 81.54,501.58 82.24,502.02 82.93,502.14 83.62,502.95 84.32,502.99 85.01,502.80 85.71,502.86 86.40,502.87 87.10,503.11 87.79,502.92 88.49,502.74 89.18,502.46 89.88,502.95 90.57,503.31 91.26,502.85 91.96,502.75 92.65,502.20 93.35,502.19 94.04,502.93 94.74,503.36 95.43,503.72 96.13,504.83 96.82,505.84 97.52,504.96 98.21,503.66 98.91,503.32 99.60,503.44 100.28,503.35 100.96,503.69 101.64,504.60 102.32,503.96 103.00,502.57 103.68,502.85 104.36,503.98 105.03,503.87 105.71,502.83 106.39,502.26 107.07,502.68 107.75,503.43 108.43,502.88 109.11,502.42 109.79,502.39 110.47,501.60 111.15,502.74 111.83,504.89 112.51,504.04 113.19,502.05 113.87,502.00 114.54,503.17 115.22,504.31 115.90,504.98 116.58,505.30 117.26,505.18 117.94,504.24 118.62,503.14 119.30,503.16" stroke="#f060c8" stroke-width="2.2" fill="none" stroke-linejoin="round" stroke-linecap="round"/>
<path d="M42.20,514.00 L42.80,490.00 L43.15,477.50 L43.50,465.00 L43.95,462.30 L44.40,459.60 L44.85,460.80 L45.30,462.00 L45.75,468.50 L46.20,475.00 L46.70,485.00 L47.10,492.50 L47.50,500.00 L48.05,503.40 L48.60,507.67 L49.28,508.26 L49.96,508.27 L50.64,509.64 L51.32,510.97 L52.00,511.38 L52.62,511.34 L53.25,510.58 L53.88,510.71 L54.50,511.21 L55.12,510.22 L55.75,510.17 L56.38,511.43 L57.00,512.33 L57.67,512.29 L58.33,511.50 L59.00,511.96 L59.67,512.94 L60.33,513.00 L61.00,512.62 L61.67,512.25 L62.33,512.20 L63.00,512.01 L63.67,512.42 L64.33,512.82 L65.00,512.29 L65.68,512.55 L66.37,513.28 L67.05,512.81 L67.74,512.55 L68.42,514.03 L69.11,514.68 L69.79,513.60 L70.48,513.08 L71.16,512.79 L71.85,512.60 L72.53,513.51 L73.22,514.03 L73.90,513.89 L74.59,513.71 L75.29,513.80 L75.98,515.03 L76.68,514.78 L77.37,512.82 L78.07,513.02 L78.76,514.06 L79.46,513.57 L80.15,513.21 L80.85,514.22 L81.54,514.99 L82.24,514.30 L82.93,514.21 L83.62,514.74 L84.32,514.47 L85.01,514.21 L85.71,514.11 L86.40,513.81 L87.10,514.25 L87.79,515.43 L88.49,515.93 L89.18,515.53 L89.88,514.29 L90.57,513.47 L91.26,513.44 L91.96,513.11 L92.65,512.89 L93.35,513.13 L94.04,513.66 L94.74,514.07 L95.43,514.36 L96.13,514.70 L96.82,514.89 L97.52,514.64 L98.21,514.66 L98.91,514.95 L99.60,513.98 L100.29,513.68 L100.98,515.27 L101.67,515.50 L102.37,514.87 L103.06,515.04 L103.75,514.46 L104.44,513.30 L105.13,513.33 L105.82,513.97 L106.52,513.85 L107.21,513.40 L107.90,513.17 L108.59,513.09 L109.28,513.12 L109.97,513.75 L110.67,514.23 L111.36,513.80 L112.05,513.72 L112.74,514.43 L113.43,514.19 L114.12,512.67 L114.82,512.19 L115.51,512.87 L116.20,512.31 L116.89,511.69 L117.58,512.94 L118.28,514.45 L118.97,515.09 L119.66,514.74 L120.35,513.67 L121.04,513.12 L121.73,514.25 L122.42,515.41 L123.12,514.39 L123.81,513.13 L124.50,513.24 L124.50,516.00 L42.20,516.00 Z" fill="url(#hB)" stroke="none"/>
<polyline points="39.30,516.00 39.83,515.93 40.37,515.87 40.90,515.80 41.55,514.90 42.20,514.00 42.80,490.00 43.15,477.50 43.50,465.00 43.95,462.30 44.40,459.60 44.85,460.80 45.30,462.00 45.75,468.50 46.20,475.00 46.70,485.00 47.10,492.50 47.50,500.00 48.05,503.40 48.60,507.67 49.28,508.26 49.96,508.27 50.64,509.64 51.32,510.97 52.00,511.38 52.62,511.34 53.25,510.58 53.88,510.71 54.50,511.21 55.12,510.22 55.75,510.17 56.38,511.43 57.00,512.33 57.67,512.29 58.33,511.50 59.00,511.96 59.67,512.94 60.33,513.00 61.00,512.62 61.67,512.25 62.33,512.20 63.00,512.01 63.67,512.42 64.33,512.82 65.00,512.29 65.68,512.55 66.37,513.28 67.05,512.81 67.74,512.55 68.42,514.03 69.11,514.68 69.79,513.60 70.48,513.08 71.16,512.79 71.85,512.60 72.53,513.51 73.22,514.03 73.90,513.89 74.59,513.71 75.29,513.80 75.98,515.03 76.68,514.78 77.37,512.82 78.07,513.02 78.76,514.06 79.46,513.57 80.15,513.21 80.85,514.22 81.54,514.99 82.24,514.30 82.93,514.21 83.62,514.74 84.32,514.47 85.01,514.21 85.71,514.11 86.40,513.81 87.10,514.25 87.79,515.43 88.49,515.93 89.18,515.53 89.88,514.29 90.57,513.47 91.26,513.44 91.96,513.11 92.65,512.89 93.35,513.13 94.04,513.66 94.74,514.07 95.43,514.36 96.13,514.70 96.82,514.89 97.52,514.64 98.21,514.66 98.91,514.95 99.60,513.98 100.29,513.68 100.98,515.27 101.67,515.50 102.37,514.87 103.06,515.04 103.75,514.46 104.44,513.30 105.13,513.33 105.82,513.97 106.52,513.85 107.21,513.40 107.90,513.17 108.59,513.09 109.28,513.12 109.97,513.75 110.67,514.23 111.36,513.80 112.05,513.72 112.74,514.43 113.43,514.19 114.12,512.67 114.82,512.19 115.51,512.87 116.20,512.31 116.89,511.69 117.58,512.94 118.28,514.45 118.97,515.09 119.66,514.74 120.35,513.67 121.04,513.12 121.73,514.25 122.42,515.41 123.12,514.39 123.81,513.13 124.50,513.24" stroke="#6a95f0" stroke-width="2.2" fill="none" stroke-linejoin="round" stroke-linecap="round"/>
<path d="M46.80,526.00 L47.30,500.00 L47.75,485.00 L48.20,470.00 L48.85,464.80 L49.50,459.60 L49.95,463.80 L50.40,468.00 L51.10,476.00 L51.80,484.00 L52.43,487.47 L53.07,490.93 L53.70,494.40 L54.32,496.18 L54.94,497.96 L55.56,499.74 L56.18,501.52 L56.80,503.30 L57.45,504.37 L58.10,505.43 L58.75,506.50 L59.40,507.57 L60.05,508.63 L60.70,509.70 L61.31,510.23 L61.93,509.55 L62.54,510.16 L63.16,511.53 L63.77,513.09 L64.39,513.22 L65.00,512.46 L65.70,513.34 L66.40,515.39 L67.10,516.92 L67.78,516.89 L68.46,516.96 L69.14,517.95 L69.82,517.94 L70.50,516.94 L71.18,517.16 L71.86,517.86 L72.54,516.80 L73.22,516.42 L73.90,518.08 L74.57,518.56 L75.24,518.30 L75.91,518.89 L76.58,519.59 L77.25,519.62 L77.92,519.05 L78.59,519.35 L79.26,521.77 L79.93,522.73 L80.60,521.54 L81.28,521.21 L81.96,522.18 L82.64,522.90 L83.32,521.45 L84.00,519.81 L84.68,520.72 L85.36,523.45 L86.04,524.71 L86.72,523.73 L87.40,523.67 L88.08,524.37 L88.76,524.13 L89.43,523.51 L90.11,522.48 L90.79,521.28 L91.47,521.30 L92.14,521.26 L92.82,520.68 L93.50,521.45 L94.18,522.72 L94.86,523.15 L95.53,523.06 L96.21,522.97 L96.89,523.49 L97.57,524.22 L98.24,524.05 L98.92,523.36 L99.60,523.69 L100.29,523.52 L100.98,522.29 L101.67,522.68 L102.36,523.19 L103.04,523.15 L103.73,523.94 L104.42,524.83 L105.11,524.60 L105.80,524.32 L106.49,524.55 L107.18,524.01 L107.87,524.13 L108.56,524.50 L109.24,524.78 L109.93,525.68 L110.62,525.78 L111.31,524.76 L112.00,523.12 L112.68,523.03 L113.36,524.11 L114.05,523.71 L114.73,523.69 L115.41,524.27 L116.09,524.32 L116.77,524.62 L117.45,524.57 L118.14,524.39 L118.82,524.30 L119.50,523.86 L120.18,523.99 L120.86,524.54 L121.55,524.93 L122.23,526.27 L122.91,526.91 L123.59,525.31 L124.27,524.74 L124.95,525.32 L125.64,524.48 L126.32,524.79 L127.00,526.19 L127.00,527.50 L46.80,527.50 Z" fill="url(#hT)" stroke="none"/>
<polyline points="44.10,527.50 44.80,527.90 45.50,528.30 46.15,527.15 46.80,526.00 47.30,500.00 47.75,485.00 48.20,470.00 48.85,464.80 49.50,459.60 49.95,463.80 50.40,468.00 51.10,476.00 51.80,484.00 52.43,487.47 53.07,490.93 53.70,494.40 54.32,496.18 54.94,497.96 55.56,499.74 56.18,501.52 56.80,503.30 57.45,504.37 58.10,505.43 58.75,506.50 59.40,507.57 60.05,508.63 60.70,509.70 61.31,510.23 61.93,509.55 62.54,510.16 63.16,511.53 63.77,513.09 64.39,513.22 65.00,512.46 65.70,513.34 66.40,515.39 67.10,516.92 67.78,516.89 68.46,516.96 69.14,517.95 69.82,517.94 70.50,516.94 71.18,517.16 71.86,517.86 72.54,516.80 73.22,516.42 73.90,518.08 74.57,518.56 75.24,518.30 75.91,518.89 76.58,519.59 77.25,519.62 77.92,519.05 78.59,519.35 79.26,521.77 79.93,522.73 80.60,521.54 81.28,521.21 81.96,522.18 82.64,522.90 83.32,521.45 84.00,519.81 84.68,520.72 85.36,523.45 86.04,524.71 86.72,523.73 87.40,523.67 88.08,524.37 88.76,524.13 89.43,523.51 90.11,522.48 90.79,521.28 91.47,521.30 92.14,521.26 92.82,520.68 93.50,521.45 94.18,522.72 94.86,523.15 95.53,523.06 96.21,522.97 96.89,523.49 97.57,524.22 98.24,524.05 98.92,523.36 99.60,523.69 100.29,523.52 100.98,522.29 101.67,522.68 102.36,523.19 103.04,523.15 103.73,523.94 104.42,524.83 105.11,524.60 105.80,524.32 106.49,524.55 107.18,524.01 107.87,524.13 108.56,524.50 109.24,524.78 109.93,525.68 110.62,525.78 111.31,524.76 112.00,523.12 112.68,523.03 113.36,524.11 114.05,523.71 114.73,523.69 115.41,524.27 116.09,524.32 116.77,524.62 117.45,524.57 118.14,524.39 118.82,524.30 119.50,523.86 120.18,523.99 120.86,524.54 121.55,524.93 122.23,526.27 122.91,526.91 123.59,525.31 124.27,524.74 124.95,525.32 125.64,524.48 126.32,524.79 127.00,526.19" stroke="#14b48c" stroke-width="2.2" fill="none" stroke-linejoin="round" stroke-linecap="round"/>
<polyline points="59.30,439.10 75.10,439.10 75.10,428.20" stroke="#000" stroke-width="1.9" fill="none" stroke-linejoin="miter"/>
<text x="80.60" y="434.80" font-size="8.4" fill="#000" textLength="20.40" lengthAdjust="spacingAndGlyphs" stroke="#000" stroke-width="0.3" stroke-linejoin="round">20 pA</text>
<text x="59.50" y="452.10" font-size="8.4" fill="#000" textLength="26.80" lengthAdjust="spacingAndGlyphs" stroke="#000" stroke-width="0.3" stroke-linejoin="round">100 ms</text>
<line x1="173.60" y1="16.10" x2="173.60" y2="159.10" stroke="#1e1e1e" stroke-width="1.1"/>
<line x1="171.20" y1="154.80" x2="173.60" y2="154.80" stroke="#1e1e1e" stroke-width="1.0"/>
<text x="167.90" y="160.50" font-size="10.0" fill="#4d4d4d" text-anchor="end" textLength="4.77" lengthAdjust="spacingAndGlyphs">0</text>
<line x1="171.20" y1="130.30" x2="173.60" y2="130.30" stroke="#1e1e1e" stroke-width="1.0"/>
<text x="167.90" y="136.00" font-size="10.0" fill="#4d4d4d" text-anchor="end" textLength="14.91" lengthAdjust="spacingAndGlyphs">100</text>
<line x1="171.20" y1="105.80" x2="173.60" y2="105.80" stroke="#1e1e1e" stroke-width="1.0"/>
<text x="167.90" y="111.50" font-size="10.0" fill="#4d4d4d" text-anchor="end" textLength="14.91" lengthAdjust="spacingAndGlyphs">200</text>
<line x1="171.20" y1="81.30" x2="173.60" y2="81.30" stroke="#1e1e1e" stroke-width="1.0"/>
<text x="167.90" y="87.00" font-size="10.0" fill="#4d4d4d" text-anchor="end" textLength="14.91" lengthAdjust="spacingAndGlyphs">300</text>
<line x1="171.20" y1="56.80" x2="173.60" y2="56.80" stroke="#1e1e1e" stroke-width="1.0"/>
<text x="167.90" y="62.50" font-size="10.0" fill="#4d4d4d" text-anchor="end" textLength="14.91" lengthAdjust="spacingAndGlyphs">400</text>
<line x1="171.20" y1="32.30" x2="173.60" y2="32.30" stroke="#1e1e1e" stroke-width="1.0"/>
<text x="167.90" y="38.00" font-size="10.0" fill="#4d4d4d" text-anchor="end" textLength="14.91" lengthAdjust="spacingAndGlyphs">500</text>
<line x1="173.60" y1="159.10" x2="271.60" y2="159.10" stroke="#1e1e1e" stroke-width="1.1"/>
<line x1="184.60" y1="159.10" x2="184.60" y2="161.30" stroke="#1e1e1e" stroke-width="1.0"/>
<line x1="203.50" y1="159.10" x2="203.50" y2="161.30" stroke="#1e1e1e" stroke-width="1.0"/>
<line x1="222.50" y1="159.10" x2="222.50" y2="161.30" stroke="#1e1e1e" stroke-width="1.0"/>
<line x1="241.50" y1="159.10" x2="241.50" y2="161.30" stroke="#1e1e1e" stroke-width="1.0"/>
<line x1="260.40" y1="159.10" x2="260.40" y2="161.30" stroke="#1e1e1e" stroke-width="1.0"/>
<text x="138.30" y="126.80" font-size="10.3" fill="#000" textLength="72.70" lengthAdjust="spacingAndGlyphs" transform="rotate(-90 138.30 126.80)">Peak ampl. [pA]</text>
<rect x="218.70" y="25.60" width="5.60" height="9.40" fill="#e2e2e2" stroke="#222" stroke-width="1.1" rx="1.3"/>
<line x1="218.70" y1="30.30" x2="224.30" y2="30.30" stroke="#222" stroke-width="1.0"/>
<text x="226.80" y="33.70" font-size="10.0" fill="#000" textLength="14.80" lengthAdjust="spacingAndGlyphs">unt.</text>
<rect x="249.30" y="25.60" width="5.60" height="9.40" fill="#72dc8e" stroke="#222" stroke-width="1.1" rx="1.3"/>
<line x1="249.30" y1="30.30" x2="254.90" y2="30.30" stroke="#222" stroke-width="1.0"/>
<text x="257.40" y="33.70" font-size="10.0" fill="#000" textLength="7.00" lengthAdjust="spacingAndGlyphs">tr.</text>
<line x1="173.30" y1="200.30" x2="173.30" y2="335.80" stroke="#1e1e1e" stroke-width="1.1"/>
<line x1="170.90" y1="287.90" x2="173.30" y2="287.90" stroke="#1e1e1e" stroke-width="1.0"/>
<text x="167.60" y="293.60" font-size="10.0" fill="#4d4d4d" text-anchor="end" textLength="14.91" lengthAdjust="spacingAndGlyphs">100</text>
<line x1="170.90" y1="238.20" x2="173.30" y2="238.20" stroke="#1e1e1e" stroke-width="1.0"/>
<text x="167.60" y="243.90" font-size="10.0" fill="#4d4d4d" text-anchor="end" textLength="14.91" lengthAdjust="spacingAndGlyphs">200</text>
<line x1="173.30" y1="335.80" x2="270.80" y2="335.80" stroke="#1e1e1e" stroke-width="1.1"/>
<line x1="184.20" y1="335.80" x2="184.20" y2="338.00" stroke="#1e1e1e" stroke-width="1.0"/>
<line x1="203.20" y1="335.80" x2="203.20" y2="338.00" stroke="#1e1e1e" stroke-width="1.0"/>
<line x1="222.00" y1="335.80" x2="222.00" y2="338.00" stroke="#1e1e1e" stroke-width="1.0"/>
<line x1="240.80" y1="335.80" x2="240.80" y2="338.00" stroke="#1e1e1e" stroke-width="1.0"/>
<line x1="259.50" y1="335.80" x2="259.50" y2="338.00" stroke="#1e1e1e" stroke-width="1.0"/>
<text x="137.90" y="303.40" font-size="10.3" fill="#000" textLength="68.40" lengthAdjust="spacingAndGlyphs" transform="rotate(-90 137.90 303.40)">Decay tau [ms]</text>
<rect x="218.70" y="201.10" width="5.10" height="8.70" fill="#e2e2e2" stroke="#222" stroke-width="1.1" rx="1.3"/>
<line x1="218.70" y1="205.45" x2="223.80" y2="205.45" stroke="#222" stroke-width="1.0"/>
<text x="226.30" y="209.00" font-size="10.0" fill="#000" textLength="14.00" lengthAdjust="spacingAndGlyphs">unt.</text>
<rect x="249.80" y="201.10" width="5.20" height="8.70" fill="#72dc8e" stroke="#222" stroke-width="1.1" rx="1.3"/>
<line x1="249.80" y1="205.45" x2="255.00" y2="205.45" stroke="#222" stroke-width="1.0"/>
<text x="256.90" y="209.00" font-size="10.0" fill="#000" textLength="7.40" lengthAdjust="spacingAndGlyphs">tr.</text>
<line x1="172.20" y1="380.30" x2="172.20" y2="516.30" stroke="#1e1e1e" stroke-width="1.1"/>
<line x1="169.80" y1="510.10" x2="172.20" y2="510.10" stroke="#1e1e1e" stroke-width="1.0"/>
<text x="167.20" y="515.80" font-size="10.0" fill="#4d4d4d" text-anchor="end" textLength="4.77" lengthAdjust="spacingAndGlyphs">0</text>
<line x1="169.80" y1="467.60" x2="172.20" y2="467.60" stroke="#1e1e1e" stroke-width="1.0"/>
<text x="167.20" y="473.30" font-size="10.0" fill="#4d4d4d" text-anchor="end" textLength="9.84" lengthAdjust="spacingAndGlyphs">20</text>
<line x1="169.80" y1="425.10" x2="172.20" y2="425.10" stroke="#1e1e1e" stroke-width="1.0"/>
<text x="167.20" y="430.80" font-size="10.0" fill="#4d4d4d" text-anchor="end" textLength="9.84" lengthAdjust="spacingAndGlyphs">40</text>
<line x1="169.80" y1="382.60" x2="172.20" y2="382.60" stroke="#1e1e1e" stroke-width="1.0"/>
<text x="167.20" y="388.30" font-size="10.0" fill="#4d4d4d" text-anchor="end" textLength="9.84" lengthAdjust="spacingAndGlyphs">60</text>
<line x1="172.20" y1="516.30" x2="276.20" y2="516.30" stroke="#1e1e1e" stroke-width="1.1"/>
<line x1="184.20" y1="516.30" x2="184.20" y2="518.50" stroke="#1e1e1e" stroke-width="1.0"/>
<line x1="204.10" y1="516.30" x2="204.10" y2="518.50" stroke="#1e1e1e" stroke-width="1.0"/>
<line x1="224.10" y1="516.30" x2="224.10" y2="518.50" stroke="#1e1e1e" stroke-width="1.0"/>
<line x1="244.00" y1="516.30" x2="244.00" y2="518.50" stroke="#1e1e1e" stroke-width="1.0"/>
<line x1="263.80" y1="516.30" x2="263.80" y2="518.50" stroke="#1e1e1e" stroke-width="1.0"/>
<text x="146.80" y="500.70" font-size="10.3" fill="#000" textLength="93.70" lengthAdjust="spacingAndGlyphs" transform="rotate(-90 146.80 500.70)">Charge transfer [pC]</text>
<rect x="202.90" y="383.50" width="5.40" height="8.50" fill="#e2e2e2" stroke="#222" stroke-width="1.1" rx="1.3"/>
<line x1="202.90" y1="387.75" x2="208.30" y2="387.75" stroke="#222" stroke-width="1.0"/>
<text x="211.00" y="390.80" font-size="10.0" fill="#000" textLength="14.60" lengthAdjust="spacingAndGlyphs">unt.</text>
<rect x="202.90" y="399.80" width="5.40" height="8.10" fill="#72dc8e" stroke="#222" stroke-width="1.1" rx="1.3"/>
<line x1="202.90" y1="403.85" x2="208.30" y2="403.85" stroke="#222" stroke-width="1.0"/>
<text x="210.70" y="407.10" font-size="10.0" fill="#000" textLength="7.20" lengthAdjust="spacingAndGlyphs">tr.</text>
<text x="188.70" y="528.30" font-size="9.0" fill="#4d4d4d" text-anchor="end" transform="rotate(-45 188.70 528.30)">WT</text>
<text x="208.40" y="528.30" font-size="9.0" fill="#4d4d4d" text-anchor="end" transform="rotate(-45 208.40 528.30)">R540H</text>
<text x="228.60" y="528.30" font-size="9.0" fill="#4d4d4d" text-anchor="end" transform="rotate(-45 228.60 528.30)">R696H</text>
<text x="248.30" y="528.30" font-size="9.0" fill="#4d4d4d" text-anchor="end" transform="rotate(-45 248.30 528.30)">C456Y</text>
<text x="268.10" y="528.30" font-size="9.0" fill="#4d4d4d" text-anchor="end" transform="rotate(-45 268.10 528.30)">C461F</text>
<line x1="331.30" y1="20.20" x2="331.30" y2="159.20" stroke="#1e1e1e" stroke-width="1.1"/>
<line x1="328.90" y1="128.10" x2="331.30" y2="128.10" stroke="#1e1e1e" stroke-width="1.0"/>
<text x="325.90" y="133.00" font-size="10.0" fill="#4d4d4d" text-anchor="end" textLength="9.84" lengthAdjust="spacingAndGlyphs">50</text>
<line x1="328.90" y1="94.04" x2="331.30" y2="94.04" stroke="#1e1e1e" stroke-width="1.0"/>
<text x="325.90" y="98.64" font-size="10.0" fill="#4d4d4d" text-anchor="end" textLength="14.91" lengthAdjust="spacingAndGlyphs">100</text>
<line x1="328.90" y1="59.97" x2="331.30" y2="59.97" stroke="#1e1e1e" stroke-width="1.0"/>
<text x="325.90" y="64.07" font-size="10.0" fill="#4d4d4d" text-anchor="end" textLength="14.91" lengthAdjust="spacingAndGlyphs">150</text>
<line x1="328.90" y1="25.91" x2="331.30" y2="25.91" stroke="#1e1e1e" stroke-width="1.0"/>
<text x="325.90" y="29.81" font-size="10.0" fill="#4d4d4d" text-anchor="end" textLength="14.91" lengthAdjust="spacingAndGlyphs">200</text>
<line x1="331.30" y1="159.20" x2="436.00" y2="159.20" stroke="#1e1e1e" stroke-width="1.1"/>
<line x1="342.90" y1="159.20" x2="342.90" y2="161.40" stroke="#1e1e1e" stroke-width="1.0"/>
<line x1="362.80" y1="159.20" x2="362.80" y2="161.40" stroke="#1e1e1e" stroke-width="1.0"/>
<line x1="382.70" y1="159.20" x2="382.70" y2="161.40" stroke="#1e1e1e" stroke-width="1.0"/>
<line x1="402.60" y1="159.20" x2="402.60" y2="161.40" stroke="#1e1e1e" stroke-width="1.0"/>
<line x1="422.60" y1="159.20" x2="422.60" y2="161.40" stroke="#1e1e1e" stroke-width="1.0"/>
<text x="297.90" y="140.10" font-size="10.4" fill="#000" textLength="102.20" lengthAdjust="spacingAndGlyphs" transform="rotate(-90 297.90 140.10)">Peak ampl. [% of unt.]</text>
<line x1="331.20" y1="200.30" x2="331.20" y2="335.80" stroke="#1e1e1e" stroke-width="1.1"/>
<line x1="328.80" y1="333.60" x2="331.20" y2="333.60" stroke="#1e1e1e" stroke-width="1.0"/>
<text x="326.00" y="339.40" font-size="10.0" fill="#4d4d4d" text-anchor="end" textLength="4.77" lengthAdjust="spacingAndGlyphs">0</text>
<line x1="328.80" y1="305.05" x2="331.20" y2="305.05" stroke="#1e1e1e" stroke-width="1.0"/>
<text x="326.00" y="310.85" font-size="10.0" fill="#4d4d4d" text-anchor="end" textLength="14.91" lengthAdjust="spacingAndGlyphs">100</text>
<line x1="328.80" y1="276.50" x2="331.20" y2="276.50" stroke="#1e1e1e" stroke-width="1.0"/>
<text x="326.00" y="282.20" font-size="10.0" fill="#4d4d4d" text-anchor="end" textLength="14.91" lengthAdjust="spacingAndGlyphs">200</text>
<line x1="328.80" y1="247.95" x2="331.20" y2="247.95" stroke="#1e1e1e" stroke-width="1.0"/>
<text x="326.00" y="253.25" font-size="10.0" fill="#4d4d4d" text-anchor="end" textLength="14.91" lengthAdjust="spacingAndGlyphs">300</text>
<line x1="328.80" y1="219.40" x2="331.20" y2="219.40" stroke="#1e1e1e" stroke-width="1.0"/>
<text x="326.00" y="219.90" font-size="10.0" fill="#4d4d4d" text-anchor="end" textLength="14.91" lengthAdjust="spacingAndGlyphs">400</text>
<line x1="331.20" y1="335.80" x2="439.00" y2="335.80" stroke="#1e1e1e" stroke-width="1.1"/>
<line x1="342.90" y1="335.80" x2="342.90" y2="338.00" stroke="#1e1e1e" stroke-width="1.0"/>
<line x1="363.60" y1="335.80" x2="363.60" y2="338.00" stroke="#1e1e1e" stroke-width="1.0"/>
<line x1="384.60" y1="335.80" x2="384.60" y2="338.00" stroke="#1e1e1e" stroke-width="1.0"/>
<line x1="405.30" y1="335.80" x2="405.30" y2="338.00" stroke="#1e1e1e" stroke-width="1.0"/>
<line x1="426.30" y1="335.80" x2="426.30" y2="338.00" stroke="#1e1e1e" stroke-width="1.0"/>
<text x="298.90" y="315.40" font-size="10.4" fill="#000" textLength="96.30" lengthAdjust="spacingAndGlyphs" transform="rotate(-90 298.90 315.40)">Decay tau [% of unt.]</text>
<line x1="331.40" y1="380.90" x2="331.40" y2="516.40" stroke="#1e1e1e" stroke-width="1.1"/>
<line x1="329.00" y1="510.10" x2="331.40" y2="510.10" stroke="#1e1e1e" stroke-width="1.0"/>
<text x="326.00" y="515.80" font-size="10.0" fill="#4d4d4d" text-anchor="end" textLength="4.77" lengthAdjust="spacingAndGlyphs">0</text>
<line x1="329.00" y1="481.27" x2="331.40" y2="481.27" stroke="#1e1e1e" stroke-width="1.0"/>
<text x="326.00" y="486.97" font-size="10.0" fill="#4d4d4d" text-anchor="end" textLength="14.91" lengthAdjust="spacingAndGlyphs">100</text>
<line x1="329.00" y1="452.44" x2="331.40" y2="452.44" stroke="#1e1e1e" stroke-width="1.0"/>
<text x="326.00" y="458.14" font-size="10.0" fill="#4d4d4d" text-anchor="end" textLength="14.91" lengthAdjust="spacingAndGlyphs">200</text>
<line x1="329.00" y1="423.61" x2="331.40" y2="423.61" stroke="#1e1e1e" stroke-width="1.0"/>
<text x="326.00" y="429.31" font-size="10.0" fill="#4d4d4d" text-anchor="end" textLength="14.91" lengthAdjust="spacingAndGlyphs">300</text>
<line x1="329.00" y1="394.78" x2="331.40" y2="394.78" stroke="#1e1e1e" stroke-width="1.0"/>
<text x="326.00" y="400.48" font-size="10.0" fill="#4d4d4d" text-anchor="end" textLength="14.91" lengthAdjust="spacingAndGlyphs">400</text>
<line x1="331.40" y1="516.40" x2="439.00" y2="516.40" stroke="#1e1e1e" stroke-width="1.1"/>
<line x1="343.10" y1="516.40" x2="343.10" y2="518.60" stroke="#1e1e1e" stroke-width="1.0"/>
<line x1="364.40" y1="516.40" x2="364.40" y2="518.60" stroke="#1e1e1e" stroke-width="1.0"/>
<line x1="385.70" y1="516.40" x2="385.70" y2="518.60" stroke="#1e1e1e" stroke-width="1.0"/>
<line x1="406.20" y1="516.40" x2="406.20" y2="518.60" stroke="#1e1e1e" stroke-width="1.0"/>
<line x1="427.60" y1="516.40" x2="427.60" y2="518.60" stroke="#1e1e1e" stroke-width="1.0"/>
<text x="303.00" y="512.00" font-size="10.4" fill="#000" textLength="122.20" lengthAdjust="spacingAndGlyphs" transform="rotate(-90 303.00 512.00)">Charge transfer [% of unt.]</text>
<text x="348.10" y="527.20" font-size="9.0" fill="#4d4d4d" text-anchor="end" transform="rotate(-45 348.10 527.20)">WT</text>
<text x="369.00" y="527.20" font-size="9.0" fill="#4d4d4d" text-anchor="end" transform="rotate(-45 369.00 527.20)">R540H</text>
<text x="390.10" y="527.20" font-size="9.0" fill="#4d4d4d" text-anchor="end" transform="rotate(-45 390.10 527.20)">R696H</text>
<text x="411.00" y="527.20" font-size="9.0" fill="#4d4d4d" text-anchor="end" transform="rotate(-45 411.00 527.20)">C456Y</text>
<text x="432.40" y="527.20" font-size="9.0" fill="#4d4d4d" text-anchor="end" transform="rotate(-45 432.40 527.20)">C461F</text>
<line x1="185.50" y1="29.40" x2="192.80" y2="57.30" stroke="#e0e0e0" stroke-width="0.65"/>
<line x1="184.40" y1="38.60" x2="192.40" y2="68.20" stroke="#e0e0e0" stroke-width="0.65"/>
<line x1="185.70" y1="40.40" x2="192.80" y2="79.00" stroke="#e0e0e0" stroke-width="0.65"/>
<line x1="184.80" y1="61.50" x2="192.80" y2="69.20" stroke="#e0e0e0" stroke-width="0.65"/>
<line x1="184.40" y1="70.50" x2="192.20" y2="93.80" stroke="#e0e0e0" stroke-width="0.65"/>
<line x1="184.20" y1="75.20" x2="192.20" y2="85.80" stroke="#e0e0e0" stroke-width="0.65"/>
<line x1="184.21" y1="83.71" x2="192.52" y2="106.66" stroke="#e0e0e0" stroke-width="0.65"/>
<line x1="183.97" y1="88.80" x2="192.60" y2="94.60" stroke="#e0e0e0" stroke-width="0.65"/>
<line x1="183.96" y1="88.80" x2="191.64" y2="112.31" stroke="#e0e0e0" stroke-width="0.65"/>
<line x1="183.64" y1="100.14" x2="192.92" y2="108.89" stroke="#e0e0e0" stroke-width="0.65"/>
<line x1="184.02" y1="111.77" x2="192.20" y2="114.20" stroke="#e0e0e0" stroke-width="0.65"/>
<line x1="184.46" y1="111.90" x2="191.43" y2="115.06" stroke="#e0e0e0" stroke-width="0.65"/>
<line x1="184.18" y1="117.45" x2="191.91" y2="120.53" stroke="#e0e0e0" stroke-width="0.65"/>
<line x1="185.26" y1="118.69" x2="193.20" y2="118.37" stroke="#e0e0e0" stroke-width="0.65"/>
<line x1="184.65" y1="125.65" x2="191.50" y2="123.42" stroke="#e0e0e0" stroke-width="0.65"/>
<line x1="185.54" y1="130.04" x2="191.39" y2="124.14" stroke="#e0e0e0" stroke-width="0.65"/>
<line x1="184.90" y1="141.90" x2="192.60" y2="142.30" stroke="#e0e0e0" stroke-width="0.65"/>
<line x1="185.60" y1="144.10" x2="193.23" y2="130.55" stroke="#e0e0e0" stroke-width="0.65"/>
<line x1="184.50" y1="149.20" x2="192.60" y2="148.40" stroke="#e0e0e0" stroke-width="0.65"/>
<line x1="203.50" y1="81.50" x2="211.60" y2="86.60" stroke="#e0e0e0" stroke-width="0.65"/>
<line x1="203.90" y1="94.60" x2="211.10" y2="85.70" stroke="#e0e0e0" stroke-width="0.65"/>
<line x1="203.90" y1="101.80" x2="210.70" y2="98.90" stroke="#e0e0e0" stroke-width="0.65"/>
<line x1="203.90" y1="106.20" x2="211.60" y2="104.00" stroke="#e0e0e0" stroke-width="0.65"/>
<line x1="203.90" y1="112.00" x2="211.10" y2="120.00" stroke="#e0e0e0" stroke-width="0.65"/>
<line x1="202.83" y1="119.16" x2="211.10" y2="123.70" stroke="#e0e0e0" stroke-width="0.65"/>
<line x1="203.20" y1="121.41" x2="211.55" y2="129.19" stroke="#e0e0e0" stroke-width="0.65"/>
<line x1="202.94" y1="129.22" x2="210.45" y2="130.25" stroke="#e0e0e0" stroke-width="0.65"/>
<line x1="202.64" y1="129.84" x2="210.43" y2="139.99" stroke="#e0e0e0" stroke-width="0.65"/>
<line x1="203.09" y1="135.16" x2="212.03" y2="132.16" stroke="#e0e0e0" stroke-width="0.65"/>
<line x1="203.26" y1="137.95" x2="210.53" y2="140.99" stroke="#e0e0e0" stroke-width="0.65"/>
<line x1="203.64" y1="138.58" x2="210.92" y2="140.33" stroke="#e0e0e0" stroke-width="0.65"/>
<line x1="204.21" y1="138.99" x2="211.84" y2="141.45" stroke="#e0e0e0" stroke-width="0.65"/>
<line x1="203.33" y1="139.69" x2="210.96" y2="141.66" stroke="#e0e0e0" stroke-width="0.65"/>
<line x1="203.90" y1="144.10" x2="211.02" y2="144.30" stroke="#e0e0e0" stroke-width="0.65"/>
<line x1="203.90" y1="147.70" x2="211.10" y2="146.30" stroke="#e0e0e0" stroke-width="0.65"/>
<line x1="203.90" y1="151.40" x2="211.60" y2="150.60" stroke="#e0e0e0" stroke-width="0.65"/>
<line x1="222.60" y1="129.50" x2="230.30" y2="137.60" stroke="#e0e0e0" stroke-width="0.65"/>
<line x1="222.06" y1="135.91" x2="230.30" y2="131.70" stroke="#e0e0e0" stroke-width="0.65"/>
<line x1="222.18" y1="135.98" x2="229.26" y2="146.15" stroke="#e0e0e0" stroke-width="0.65"/>
<line x1="221.75" y1="136.92" x2="230.89" y2="143.44" stroke="#e0e0e0" stroke-width="0.65"/>
<line x1="223.46" y1="139.44" x2="230.10" y2="148.19" stroke="#e0e0e0" stroke-width="0.65"/>
<line x1="223.11" y1="140.82" x2="229.47" y2="146.88" stroke="#e0e0e0" stroke-width="0.65"/>
<line x1="222.10" y1="141.62" x2="230.27" y2="148.22" stroke="#e0e0e0" stroke-width="0.65"/>
<line x1="222.42" y1="141.98" x2="229.89" y2="148.22" stroke="#e0e0e0" stroke-width="0.65"/>
<line x1="222.62" y1="142.45" x2="230.97" y2="148.87" stroke="#e0e0e0" stroke-width="0.65"/>
<line x1="221.92" y1="143.36" x2="229.71" y2="148.71" stroke="#e0e0e0" stroke-width="0.65"/>
<line x1="223.42" y1="145.01" x2="230.08" y2="148.90" stroke="#e0e0e0" stroke-width="0.65"/>
<line x1="222.60" y1="146.00" x2="230.30" y2="150.50" stroke="#e0e0e0" stroke-width="0.65"/>
<line x1="222.20" y1="151.00" x2="229.80" y2="153.50" stroke="#e0e0e0" stroke-width="0.65"/>
<line x1="241.60" y1="56.40" x2="248.20" y2="100.70" stroke="#e0e0e0" stroke-width="0.65"/>
<line x1="241.60" y1="64.70" x2="248.20" y2="90.90" stroke="#e0e0e0" stroke-width="0.65"/>
<line x1="241.20" y1="88.50" x2="249.30" y2="107.00" stroke="#e0e0e0" stroke-width="0.65"/>
<line x1="240.93" y1="108.75" x2="248.80" y2="110.50" stroke="#e0e0e0" stroke-width="0.65"/>
<line x1="240.93" y1="115.46" x2="248.30" y2="125.71" stroke="#e0e0e0" stroke-width="0.65"/>
<line x1="242.42" y1="116.49" x2="247.80" y2="121.90" stroke="#e0e0e0" stroke-width="0.65"/>
<line x1="241.43" y1="116.99" x2="248.22" y2="128.68" stroke="#e0e0e0" stroke-width="0.65"/>
<line x1="240.55" y1="118.95" x2="249.03" y2="131.29" stroke="#e0e0e0" stroke-width="0.65"/>
<line x1="240.74" y1="123.11" x2="249.21" y2="136.61" stroke="#e0e0e0" stroke-width="0.65"/>
<line x1="241.79" y1="126.62" x2="248.87" y2="134.67" stroke="#e0e0e0" stroke-width="0.65"/>
<line x1="241.46" y1="129.53" x2="247.93" y2="138.54" stroke="#e0e0e0" stroke-width="0.65"/>
<line x1="242.27" y1="137.63" x2="247.88" y2="136.63" stroke="#e0e0e0" stroke-width="0.65"/>
<line x1="241.01" y1="137.92" x2="249.14" y2="140.69" stroke="#e0e0e0" stroke-width="0.65"/>
<line x1="241.20" y1="143.70" x2="248.49" y2="139.21" stroke="#e0e0e0" stroke-width="0.65"/>
<line x1="241.60" y1="146.00" x2="248.80" y2="147.00" stroke="#e0e0e0" stroke-width="0.65"/>
<line x1="260.90" y1="118.60" x2="268.50" y2="104.00" stroke="#e0e0e0" stroke-width="0.65"/>
<line x1="260.68" y1="121.79" x2="268.50" y2="129.50" stroke="#e0e0e0" stroke-width="0.65"/>
<line x1="260.96" y1="125.62" x2="267.99" y2="133.08" stroke="#e0e0e0" stroke-width="0.65"/>
<line x1="260.08" y1="126.03" x2="267.92" y2="133.14" stroke="#e0e0e0" stroke-width="0.65"/>
<line x1="261.17" y1="133.01" x2="267.80" y2="135.41" stroke="#e0e0e0" stroke-width="0.65"/>
<line x1="261.19" y1="133.67" x2="266.97" y2="134.52" stroke="#e0e0e0" stroke-width="0.65"/>
<line x1="260.10" y1="136.36" x2="268.20" y2="141.23" stroke="#e0e0e0" stroke-width="0.65"/>
<line x1="260.85" y1="140.40" x2="267.88" y2="135.42" stroke="#e0e0e0" stroke-width="0.65"/>
<line x1="260.67" y1="141.95" x2="267.15" y2="142.95" stroke="#e0e0e0" stroke-width="0.65"/>
<line x1="259.57" y1="142.46" x2="266.95" y2="142.10" stroke="#e0e0e0" stroke-width="0.65"/>
<line x1="261.20" y1="143.16" x2="267.40" y2="149.20" stroke="#e0e0e0" stroke-width="0.65"/>
<line x1="260.40" y1="148.00" x2="267.80" y2="146.48" stroke="#e0e0e0" stroke-width="0.65"/>
<line x1="260.40" y1="150.00" x2="267.80" y2="151.00" stroke="#e0e0e0" stroke-width="0.65"/>
<line x1="183.50" y1="269.70" x2="192.20" y2="257.50" stroke="#e0e0e0" stroke-width="0.65"/>
<line x1="183.50" y1="270.20" x2="191.60" y2="267.40" stroke="#e0e0e0" stroke-width="0.65"/>
<line x1="183.50" y1="287.90" x2="191.40" y2="273.40" stroke="#e0e0e0" stroke-width="0.65"/>
<line x1="184.64" y1="298.94" x2="191.40" y2="267.50" stroke="#e0e0e0" stroke-width="0.65"/>
<line x1="185.11" y1="300.67" x2="191.70" y2="277.70" stroke="#e0e0e0" stroke-width="0.65"/>
<line x1="183.55" y1="300.85" x2="191.40" y2="282.50" stroke="#e0e0e0" stroke-width="0.65"/>
<line x1="185.08" y1="302.14" x2="192.40" y2="287.70" stroke="#e0e0e0" stroke-width="0.65"/>
<line x1="183.25" y1="303.08" x2="191.47" y2="294.54" stroke="#e0e0e0" stroke-width="0.65"/>
<line x1="184.49" y1="305.93" x2="192.09" y2="303.86" stroke="#e0e0e0" stroke-width="0.65"/>
<line x1="183.76" y1="307.62" x2="191.04" y2="295.66" stroke="#e0e0e0" stroke-width="0.65"/>
<line x1="183.59" y1="309.03" x2="191.29" y2="305.06" stroke="#e0e0e0" stroke-width="0.65"/>
<line x1="183.50" y1="319.30" x2="191.33" y2="305.32" stroke="#e0e0e0" stroke-width="0.65"/>
<line x1="183.50" y1="322.00" x2="192.57" y2="306.00" stroke="#e0e0e0" stroke-width="0.65"/>
<line x1="202.20" y1="206.10" x2="210.90" y2="228.00" stroke="#e0e0e0" stroke-width="0.65"/>
<line x1="203.30" y1="248.10" x2="209.70" y2="264.80" stroke="#e0e0e0" stroke-width="0.65"/>
<line x1="203.30" y1="258.50" x2="210.50" y2="279.10" stroke="#e0e0e0" stroke-width="0.65"/>
<line x1="202.60" y1="284.50" x2="209.90" y2="264.90" stroke="#e0e0e0" stroke-width="0.65"/>
<line x1="203.70" y1="297.67" x2="210.80" y2="282.10" stroke="#e0e0e0" stroke-width="0.65"/>
<line x1="204.00" y1="298.66" x2="210.50" y2="285.90" stroke="#e0e0e0" stroke-width="0.65"/>
<line x1="203.42" y1="303.69" x2="210.27" y2="303.23" stroke="#e0e0e0" stroke-width="0.65"/>
<line x1="203.40" y1="303.77" x2="210.50" y2="300.90" stroke="#e0e0e0" stroke-width="0.65"/>
<line x1="204.23" y1="304.34" x2="210.73" y2="306.89" stroke="#e0e0e0" stroke-width="0.65"/>
<line x1="203.80" y1="305.36" x2="209.62" y2="303.94" stroke="#e0e0e0" stroke-width="0.65"/>
<line x1="203.99" y1="305.37" x2="209.61" y2="307.34" stroke="#e0e0e0" stroke-width="0.65"/>
<line x1="204.13" y1="306.37" x2="209.80" y2="308.43" stroke="#e0e0e0" stroke-width="0.65"/>
<line x1="203.30" y1="311.80" x2="210.59" y2="309.37" stroke="#e0e0e0" stroke-width="0.65"/>
<line x1="203.30" y1="318.60" x2="211.20" y2="309.80" stroke="#e0e0e0" stroke-width="0.65"/>
<line x1="203.70" y1="329.50" x2="210.12" y2="313.57" stroke="#e0e0e0" stroke-width="0.65"/>
<line x1="222.00" y1="279.80" x2="229.80" y2="290.30" stroke="#e0e0e0" stroke-width="0.65"/>
<line x1="221.70" y1="280.40" x2="229.20" y2="284.90" stroke="#e0e0e0" stroke-width="0.65"/>
<line x1="221.10" y1="286.40" x2="229.20" y2="306.70" stroke="#e0e0e0" stroke-width="0.65"/>
<line x1="222.00" y1="290.30" x2="229.62" y2="313.80" stroke="#e0e0e0" stroke-width="0.65"/>
<line x1="221.70" y1="295.70" x2="229.92" y2="314.11" stroke="#e0e0e0" stroke-width="0.65"/>
<line x1="221.35" y1="305.35" x2="229.24" y2="316.91" stroke="#e0e0e0" stroke-width="0.65"/>
<line x1="222.39" y1="306.09" x2="229.11" y2="318.07" stroke="#e0e0e0" stroke-width="0.65"/>
<line x1="222.67" y1="308.83" x2="228.49" y2="316.97" stroke="#e0e0e0" stroke-width="0.65"/>
<line x1="221.16" y1="310.55" x2="228.63" y2="318.87" stroke="#e0e0e0" stroke-width="0.65"/>
<line x1="221.05" y1="311.81" x2="228.90" y2="318.63" stroke="#e0e0e0" stroke-width="0.65"/>
<line x1="221.82" y1="312.79" x2="229.20" y2="325.30" stroke="#e0e0e0" stroke-width="0.65"/>
<line x1="222.93" y1="315.36" x2="228.43" y2="321.13" stroke="#e0e0e0" stroke-width="0.65"/>
<line x1="221.60" y1="320.90" x2="229.20" y2="327.40" stroke="#e0e0e0" stroke-width="0.65"/>
<line x1="240.80" y1="275.00" x2="248.20" y2="293.20" stroke="#e0e0e0" stroke-width="0.65"/>
<line x1="240.80" y1="280.50" x2="248.80" y2="306.30" stroke="#e0e0e0" stroke-width="0.65"/>
<line x1="241.20" y1="287.70" x2="247.59" y2="319.19" stroke="#e0e0e0" stroke-width="0.65"/>
<line x1="241.03" y1="293.65" x2="247.80" y2="311.70" stroke="#e0e0e0" stroke-width="0.65"/>
<line x1="240.76" y1="295.78" x2="247.24" y2="320.33" stroke="#e0e0e0" stroke-width="0.65"/>
<line x1="239.80" y1="299.12" x2="247.40" y2="319.70" stroke="#e0e0e0" stroke-width="0.65"/>
<line x1="241.07" y1="299.52" x2="249.01" y2="320.54" stroke="#e0e0e0" stroke-width="0.65"/>
<line x1="241.46" y1="300.10" x2="247.97" y2="320.62" stroke="#e0e0e0" stroke-width="0.65"/>
<line x1="241.00" y1="300.76" x2="249.12" y2="323.17" stroke="#e0e0e0" stroke-width="0.65"/>
<line x1="240.08" y1="303.12" x2="247.34" y2="321.03" stroke="#e0e0e0" stroke-width="0.65"/>
<line x1="239.89" y1="303.44" x2="247.39" y2="323.18" stroke="#e0e0e0" stroke-width="0.65"/>
<line x1="240.80" y1="322.00" x2="248.20" y2="328.50" stroke="#e0e0e0" stroke-width="0.65"/>
<line x1="259.80" y1="252.80" x2="266.70" y2="245.60" stroke="#e0e0e0" stroke-width="0.65"/>
<line x1="259.80" y1="258.20" x2="267.40" y2="300.20" stroke="#e0e0e0" stroke-width="0.65"/>
<line x1="260.10" y1="275.47" x2="267.96" y2="312.45" stroke="#e0e0e0" stroke-width="0.65"/>
<line x1="258.95" y1="280.01" x2="267.94" y2="316.10" stroke="#e0e0e0" stroke-width="0.65"/>
<line x1="259.28" y1="280.01" x2="266.79" y2="316.96" stroke="#e0e0e0" stroke-width="0.65"/>
<line x1="260.58" y1="289.62" x2="266.93" y2="319.71" stroke="#e0e0e0" stroke-width="0.65"/>
<line x1="260.21" y1="291.50" x2="266.17" y2="319.75" stroke="#e0e0e0" stroke-width="0.65"/>
<line x1="259.34" y1="292.56" x2="266.79" y2="320.91" stroke="#e0e0e0" stroke-width="0.65"/>
<line x1="260.15" y1="294.46" x2="267.80" y2="321.72" stroke="#e0e0e0" stroke-width="0.65"/>
<line x1="259.43" y1="296.51" x2="266.33" y2="321.41" stroke="#e0e0e0" stroke-width="0.65"/>
<line x1="259.50" y1="303.00" x2="266.70" y2="326.40" stroke="#e0e0e0" stroke-width="0.65"/>
<line x1="259.80" y1="305.60" x2="267.00" y2="325.00" stroke="#e0e0e0" stroke-width="0.65"/>
<line x1="185.20" y1="386.10" x2="191.80" y2="426.80" stroke="#e0e0e0" stroke-width="0.65"/>
<line x1="183.90" y1="396.30" x2="192.80" y2="420.10" stroke="#e0e0e0" stroke-width="0.65"/>
<line x1="184.80" y1="408.60" x2="193.10" y2="444.90" stroke="#e0e0e0" stroke-width="0.65"/>
<line x1="184.40" y1="421.00" x2="192.40" y2="431.50" stroke="#e0e0e0" stroke-width="0.65"/>
<line x1="183.90" y1="425.50" x2="193.10" y2="452.90" stroke="#e0e0e0" stroke-width="0.65"/>
<line x1="183.50" y1="433.40" x2="193.10" y2="448.90" stroke="#e0e0e0" stroke-width="0.65"/>
<line x1="183.37" y1="444.29" x2="191.57" y2="460.07" stroke="#e0e0e0" stroke-width="0.65"/>
<line x1="184.44" y1="445.98" x2="192.15" y2="459.93" stroke="#e0e0e0" stroke-width="0.65"/>
<line x1="184.98" y1="457.90" x2="192.52" y2="471.21" stroke="#e0e0e0" stroke-width="0.65"/>
<line x1="183.35" y1="463.56" x2="192.25" y2="471.07" stroke="#e0e0e0" stroke-width="0.65"/>
<line x1="183.40" y1="466.22" x2="193.21" y2="488.09" stroke="#e0e0e0" stroke-width="0.65"/>
<line x1="184.60" y1="468.99" x2="192.91" y2="483.99" stroke="#e0e0e0" stroke-width="0.65"/>
<line x1="183.90" y1="475.16" x2="193.37" y2="488.44" stroke="#e0e0e0" stroke-width="0.65"/>
<line x1="184.72" y1="481.04" x2="191.62" y2="493.27" stroke="#e0e0e0" stroke-width="0.65"/>
<line x1="183.49" y1="481.14" x2="192.95" y2="494.79" stroke="#e0e0e0" stroke-width="0.65"/>
<line x1="184.90" y1="495.90" x2="192.80" y2="499.90" stroke="#e0e0e0" stroke-width="0.65"/>
<line x1="184.20" y1="502.70" x2="192.40" y2="502.70" stroke="#e0e0e0" stroke-width="0.65"/>
<line x1="184.90" y1="505.40" x2="193.10" y2="507.40" stroke="#e0e0e0" stroke-width="0.65"/>
<line x1="204.30" y1="439.50" x2="212.40" y2="461.80" stroke="#e0e0e0" stroke-width="0.65"/>
<line x1="204.70" y1="459.80" x2="211.30" y2="427.30" stroke="#e0e0e0" stroke-width="0.65"/>
<line x1="204.36" y1="477.66" x2="212.40" y2="472.70" stroke="#e0e0e0" stroke-width="0.65"/>
<line x1="204.01" y1="478.33" x2="212.40" y2="480.90" stroke="#e0e0e0" stroke-width="0.65"/>
<line x1="205.04" y1="482.23" x2="212.40" y2="486.30" stroke="#e0e0e0" stroke-width="0.65"/>
<line x1="203.25" y1="483.57" x2="212.40" y2="489.70" stroke="#e0e0e0" stroke-width="0.65"/>
<line x1="205.09" y1="485.50" x2="212.22" y2="496.35" stroke="#e0e0e0" stroke-width="0.65"/>
<line x1="204.21" y1="496.16" x2="211.86" y2="494.05" stroke="#e0e0e0" stroke-width="0.65"/>
<line x1="204.36" y1="496.65" x2="212.32" y2="496.38" stroke="#e0e0e0" stroke-width="0.65"/>
<line x1="204.16" y1="498.18" x2="213.12" y2="498.11" stroke="#e0e0e0" stroke-width="0.65"/>
<line x1="204.15" y1="498.21" x2="211.53" y2="499.38" stroke="#e0e0e0" stroke-width="0.65"/>
<line x1="204.49" y1="498.35" x2="212.55" y2="499.74" stroke="#e0e0e0" stroke-width="0.65"/>
<line x1="204.70" y1="503.40" x2="213.10" y2="502.41" stroke="#e0e0e0" stroke-width="0.65"/>
<line x1="204.70" y1="508.10" x2="212.08" y2="502.52" stroke="#e0e0e0" stroke-width="0.65"/>
<line x1="223.40" y1="490.40" x2="232.20" y2="491.00" stroke="#e0e0e0" stroke-width="0.65"/>
<line x1="224.09" y1="495.85" x2="232.20" y2="496.20" stroke="#e0e0e0" stroke-width="0.65"/>
<line x1="224.83" y1="496.03" x2="231.58" y2="502.03" stroke="#e0e0e0" stroke-width="0.65"/>
<line x1="223.98" y1="499.21" x2="231.81" y2="503.94" stroke="#e0e0e0" stroke-width="0.65"/>
<line x1="223.91" y1="499.62" x2="232.69" y2="505.27" stroke="#e0e0e0" stroke-width="0.65"/>
<line x1="224.34" y1="501.49" x2="231.61" y2="505.54" stroke="#e0e0e0" stroke-width="0.65"/>
<line x1="223.45" y1="502.57" x2="232.07" y2="505.77" stroke="#e0e0e0" stroke-width="0.65"/>
<line x1="223.70" y1="503.38" x2="232.25" y2="505.86" stroke="#e0e0e0" stroke-width="0.65"/>
<line x1="224.83" y1="503.91" x2="232.59" y2="506.36" stroke="#e0e0e0" stroke-width="0.65"/>
<line x1="225.09" y1="504.55" x2="232.56" y2="506.68" stroke="#e0e0e0" stroke-width="0.65"/>
<line x1="223.26" y1="505.08" x2="233.26" y2="506.70" stroke="#e0e0e0" stroke-width="0.65"/>
<line x1="224.00" y1="507.50" x2="231.70" y2="508.80" stroke="#e0e0e0" stroke-width="0.65"/>
<line x1="244.30" y1="389.00" x2="251.00" y2="472.20" stroke="#e0e0e0" stroke-width="0.65"/>
<line x1="244.30" y1="426.20" x2="252.20" y2="475.30" stroke="#e0e0e0" stroke-width="0.65"/>
<line x1="244.30" y1="438.70" x2="251.73" y2="493.00" stroke="#e0e0e0" stroke-width="0.65"/>
<line x1="244.17" y1="465.91" x2="251.60" y2="486.80" stroke="#e0e0e0" stroke-width="0.65"/>
<line x1="244.08" y1="469.22" x2="251.55" y2="497.02" stroke="#e0e0e0" stroke-width="0.65"/>
<line x1="244.09" y1="469.30" x2="251.51" y2="494.43" stroke="#e0e0e0" stroke-width="0.65"/>
<line x1="244.87" y1="471.71" x2="251.51" y2="497.45" stroke="#e0e0e0" stroke-width="0.65"/>
<line x1="244.48" y1="477.71" x2="252.24" y2="499.12" stroke="#e0e0e0" stroke-width="0.65"/>
<line x1="243.33" y1="482.67" x2="251.40" y2="503.05" stroke="#e0e0e0" stroke-width="0.65"/>
<line x1="244.00" y1="484.54" x2="251.91" y2="502.22" stroke="#e0e0e0" stroke-width="0.65"/>
<line x1="245.11" y1="488.79" x2="252.52" y2="503.35" stroke="#e0e0e0" stroke-width="0.65"/>
<line x1="244.00" y1="492.61" x2="251.53" y2="503.74" stroke="#e0e0e0" stroke-width="0.65"/>
<line x1="244.30" y1="500.00" x2="251.60" y2="507.70" stroke="#e0e0e0" stroke-width="0.65"/>
<line x1="263.50" y1="469.00" x2="271.90" y2="491.00" stroke="#e0e0e0" stroke-width="0.65"/>
<line x1="264.38" y1="471.27" x2="272.50" y2="477.80" stroke="#e0e0e0" stroke-width="0.65"/>
<line x1="263.16" y1="472.75" x2="271.10" y2="498.84" stroke="#e0e0e0" stroke-width="0.65"/>
<line x1="264.75" y1="473.74" x2="272.03" y2="499.06" stroke="#e0e0e0" stroke-width="0.65"/>
<line x1="263.08" y1="475.24" x2="270.81" y2="500.48" stroke="#e0e0e0" stroke-width="0.65"/>
<line x1="263.73" y1="475.34" x2="271.53" y2="499.66" stroke="#e0e0e0" stroke-width="0.65"/>
<line x1="264.26" y1="475.49" x2="271.62" y2="501.51" stroke="#e0e0e0" stroke-width="0.65"/>
<line x1="264.01" y1="475.96" x2="272.39" y2="500.50" stroke="#e0e0e0" stroke-width="0.65"/>
<line x1="263.12" y1="476.40" x2="270.67" y2="503.86" stroke="#e0e0e0" stroke-width="0.65"/>
<line x1="264.60" y1="478.64" x2="271.66" y2="502.70" stroke="#e0e0e0" stroke-width="0.65"/>
<line x1="264.84" y1="484.28" x2="271.50" y2="506.70" stroke="#e0e0e0" stroke-width="0.65"/>
<line x1="264.00" y1="503.00" x2="272.09" y2="504.38" stroke="#e0e0e0" stroke-width="0.65"/>
<rect x="181.60" y="79.70" width="6.00" height="53.90" fill="#e2e2e2" stroke="#1e1e1e" stroke-width="1.1" rx="0.8" fill-opacity="0.85"/>
<line x1="181.60" y1="114.50" x2="187.60" y2="114.50" stroke="#1e1e1e" stroke-width="1.2"/>
<rect x="189.20" y="100.50" width="6.20" height="39.00" fill="#72dc8e" stroke="#1e1e1e" stroke-width="1.1" rx="0.8" fill-opacity="0.85"/>
<line x1="189.20" y1="125.50" x2="195.40" y2="125.50" stroke="#1e1e1e" stroke-width="1.2"/>
<rect x="200.50" y="116.10" width="6.10" height="25.30" fill="#e2e2e2" stroke="#1e1e1e" stroke-width="1.1" rx="0.8" fill-opacity="0.85"/>
<line x1="200.50" y1="131.90" x2="206.60" y2="131.90" stroke="#1e1e1e" stroke-width="1.2"/>
<rect x="208.40" y="128.10" width="5.80" height="17.40" fill="#72dc8e" stroke="#1e1e1e" stroke-width="1.1" rx="0.8" fill-opacity="0.85"/>
<line x1="208.40" y1="139.10" x2="214.20" y2="139.10" stroke="#1e1e1e" stroke-width="1.2"/>
<rect x="219.70" y="134.60" width="5.80" height="14.20" fill="#e2e2e2" stroke="#1e1e1e" stroke-width="1.1" rx="0.8" fill-opacity="0.85"/>
<line x1="219.70" y1="143.90" x2="225.50" y2="143.90" stroke="#1e1e1e" stroke-width="1.2"/>
<rect x="227.30" y="141.00" width="5.90" height="9.70" fill="#72dc8e" stroke="#1e1e1e" stroke-width="1.1" rx="0.8" fill-opacity="0.85"/>
<line x1="227.30" y1="147.30" x2="233.20" y2="147.30" stroke="#1e1e1e" stroke-width="1.2"/>
<rect x="238.40" y="106.60" width="6.10" height="33.20" fill="#e2e2e2" stroke="#1e1e1e" stroke-width="1.1" rx="0.8" fill-opacity="0.85"/>
<line x1="238.40" y1="127.90" x2="244.50" y2="127.90" stroke="#1e1e1e" stroke-width="1.2"/>
<rect x="246.00" y="122.90" width="5.70" height="22.10" fill="#72dc8e" stroke="#1e1e1e" stroke-width="1.1" rx="0.8" fill-opacity="0.85"/>
<line x1="246.00" y1="137.60" x2="251.70" y2="137.60" stroke="#1e1e1e" stroke-width="1.2"/>
<rect x="257.60" y="118.40" width="5.60" height="27.70" fill="#e2e2e2" stroke="#1e1e1e" stroke-width="1.1" rx="0.8" fill-opacity="0.85"/>
<line x1="257.60" y1="137.10" x2="263.20" y2="137.10" stroke="#1e1e1e" stroke-width="1.2"/>
<rect x="264.90" y="132.00" width="5.20" height="17.00" fill="#72dc8e" stroke="#1e1e1e" stroke-width="1.1" rx="0.8" fill-opacity="0.85"/>
<line x1="264.90" y1="143.70" x2="270.10" y2="143.70" stroke="#1e1e1e" stroke-width="1.2"/>
<rect x="181.10" y="291.10" width="6.20" height="19.40" fill="#e2e2e2" stroke="#1e1e1e" stroke-width="1.1" rx="0.8" fill-opacity="0.85"/>
<line x1="181.10" y1="301.80" x2="187.30" y2="301.80" stroke="#1e1e1e" stroke-width="1.2"/>
<rect x="188.60" y="286.40" width="6.20" height="21.30" fill="#72dc8e" stroke="#1e1e1e" stroke-width="1.1" rx="0.8" fill-opacity="0.85"/>
<line x1="188.60" y1="298.60" x2="194.80" y2="298.60" stroke="#1e1e1e" stroke-width="1.2"/>
<rect x="200.30" y="292.30" width="6.20" height="16.90" fill="#e2e2e2" stroke="#1e1e1e" stroke-width="1.1" rx="0.8" fill-opacity="0.85"/>
<line x1="200.30" y1="301.00" x2="206.50" y2="301.00" stroke="#1e1e1e" stroke-width="1.2"/>
<rect x="207.70" y="301.80" width="5.70" height="14.10" fill="#72dc8e" stroke="#1e1e1e" stroke-width="1.1" rx="0.8" fill-opacity="0.85"/>
<line x1="207.70" y1="308.50" x2="213.40" y2="308.50" stroke="#1e1e1e" stroke-width="1.2"/>
<rect x="218.90" y="300.50" width="6.20" height="16.20" fill="#e2e2e2" stroke="#1e1e1e" stroke-width="1.1" rx="0.8" fill-opacity="0.85"/>
<line x1="218.90" y1="309.20" x2="225.10" y2="309.20" stroke="#1e1e1e" stroke-width="1.2"/>
<rect x="226.30" y="310.20" width="6.20" height="12.40" fill="#72dc8e" stroke="#1e1e1e" stroke-width="1.1" rx="0.8" fill-opacity="0.85"/>
<line x1="226.30" y1="316.70" x2="232.50" y2="316.70" stroke="#1e1e1e" stroke-width="1.2"/>
<rect x="237.50" y="291.90" width="6.50" height="18.60" fill="#e2e2e2" stroke="#1e1e1e" stroke-width="1.1" rx="0.8" fill-opacity="0.85"/>
<line x1="237.50" y1="301.80" x2="244.00" y2="301.80" stroke="#1e1e1e" stroke-width="1.2"/>
<rect x="245.00" y="315.40" width="6.40" height="9.20" fill="#72dc8e" stroke="#1e1e1e" stroke-width="1.1" rx="0.8" fill-opacity="0.85"/>
<line x1="245.00" y1="320.90" x2="251.40" y2="320.90" stroke="#1e1e1e" stroke-width="1.2"/>
<rect x="256.50" y="271.20" width="6.20" height="29.70" fill="#e2e2e2" stroke="#1e1e1e" stroke-width="1.1" rx="0.8" fill-opacity="0.85"/>
<line x1="256.50" y1="287.90" x2="262.70" y2="287.90" stroke="#1e1e1e" stroke-width="1.2"/>
<rect x="264.00" y="310.30" width="6.30" height="13.20" fill="#72dc8e" stroke="#1e1e1e" stroke-width="1.1" rx="0.8" fill-opacity="0.85"/>
<line x1="264.00" y1="318.50" x2="270.30" y2="318.50" stroke="#1e1e1e" stroke-width="1.2"/>
<rect x="181.10" y="440.40" width="6.20" height="52.20" fill="#e2e2e2" stroke="#1e1e1e" stroke-width="1.1" rx="0.8" fill-opacity="0.85"/>
<line x1="181.10" y1="475.20" x2="187.30" y2="475.20" stroke="#1e1e1e" stroke-width="1.2"/>
<rect x="189.30" y="455.80" width="6.20" height="40.50" fill="#72dc8e" stroke="#1e1e1e" stroke-width="1.1" rx="0.8" fill-opacity="0.85"/>
<line x1="189.30" y1="482.90" x2="195.50" y2="482.90" stroke="#1e1e1e" stroke-width="1.2"/>
<rect x="201.00" y="476.40" width="6.20" height="23.60" fill="#e2e2e2" stroke="#1e1e1e" stroke-width="1.1" rx="0.8" fill-opacity="0.85"/>
<line x1="201.00" y1="491.30" x2="207.20" y2="491.30" stroke="#1e1e1e" stroke-width="1.2"/>
<rect x="209.20" y="492.60" width="5.90" height="11.90" fill="#72dc8e" stroke="#1e1e1e" stroke-width="1.1" rx="0.8" fill-opacity="0.85"/>
<line x1="209.20" y1="500.50" x2="215.10" y2="500.50" stroke="#1e1e1e" stroke-width="1.2"/>
<rect x="221.30" y="494.60" width="5.70" height="11.60" fill="#e2e2e2" stroke="#1e1e1e" stroke-width="1.1" rx="0.8" fill-opacity="0.85"/>
<line x1="221.30" y1="502.80" x2="227.00" y2="502.80" stroke="#1e1e1e" stroke-width="1.2"/>
<rect x="229.50" y="499.50" width="5.70" height="8.20" fill="#72dc8e" stroke="#1e1e1e" stroke-width="1.1" rx="0.8" fill-opacity="0.85"/>
<line x1="229.50" y1="505.20" x2="235.20" y2="505.20" stroke="#1e1e1e" stroke-width="1.2"/>
<rect x="241.20" y="464.00" width="6.20" height="33.50" fill="#e2e2e2" stroke="#1e1e1e" stroke-width="1.1" rx="0.8" fill-opacity="0.85"/>
<line x1="241.20" y1="486.40" x2="247.40" y2="486.40" stroke="#1e1e1e" stroke-width="1.2"/>
<rect x="249.40" y="490.10" width="5.70" height="14.90" fill="#72dc8e" stroke="#1e1e1e" stroke-width="1.1" rx="0.8" fill-opacity="0.85"/>
<line x1="249.40" y1="501.30" x2="255.10" y2="501.30" stroke="#1e1e1e" stroke-width="1.2"/>
<rect x="260.90" y="469.00" width="6.20" height="33.00" fill="#e2e2e2" stroke="#1e1e1e" stroke-width="1.1" rx="0.8" fill-opacity="0.85"/>
<line x1="260.90" y1="491.50" x2="267.10" y2="491.50" stroke="#1e1e1e" stroke-width="1.2"/>
<rect x="268.50" y="496.20" width="6.20" height="10.90" fill="#72dc8e" stroke="#1e1e1e" stroke-width="1.1" rx="0.8" fill-opacity="0.85"/>
<line x1="268.50" y1="504.60" x2="274.70" y2="504.60" stroke="#1e1e1e" stroke-width="1.2"/>
<rect x="334.85" y="99.00" width="15.85" height="24.30" fill="#e6e6e6" stroke="#1e1e1e" stroke-width="1.1" rx="0.8" fill-opacity="0.9"/>
<line x1="334.85" y1="113.50" x2="350.70" y2="113.50" stroke="#1e1e1e" stroke-width="1.2"/>
<rect x="354.85" y="104.80" width="15.65" height="18.80" fill="#efb8f8" stroke="#1e1e1e" stroke-width="1.1" rx="0.8" fill-opacity="0.9"/>
<line x1="354.85" y1="115.40" x2="370.50" y2="115.40" stroke="#1e1e1e" stroke-width="1.2"/>
<rect x="374.75" y="102.45" width="15.95" height="23.45" fill="#fab4e4" stroke="#1e1e1e" stroke-width="1.1" rx="0.8" fill-opacity="0.9"/>
<line x1="374.75" y1="115.90" x2="390.70" y2="115.90" stroke="#1e1e1e" stroke-width="1.2"/>
<rect x="394.55" y="104.80" width="16.25" height="22.00" fill="#b4cdf8" stroke="#1e1e1e" stroke-width="1.1" rx="0.8" fill-opacity="0.9"/>
<line x1="394.55" y1="117.30" x2="410.80" y2="117.30" stroke="#1e1e1e" stroke-width="1.2"/>
<rect x="414.35" y="106.25" width="16.25" height="22.95" fill="#8ad9c0" stroke="#1e1e1e" stroke-width="1.1" rx="0.8" fill-opacity="0.9"/>
<line x1="414.35" y1="119.25" x2="430.60" y2="119.25" stroke="#1e1e1e" stroke-width="1.2"/>
<rect x="334.40" y="292.80" width="17.20" height="16.40" fill="#e6e6e6" stroke="#1e1e1e" stroke-width="1.1" rx="0.8" fill-opacity="0.9"/>
<line x1="334.40" y1="301.80" x2="351.60" y2="301.80" stroke="#1e1e1e" stroke-width="1.2"/>
<rect x="355.30" y="305.50" width="16.90" height="9.70" fill="#efb8f8" stroke="#1e1e1e" stroke-width="1.1" rx="0.8" fill-opacity="0.9"/>
<line x1="355.30" y1="311.00" x2="372.20" y2="311.00" stroke="#1e1e1e" stroke-width="1.2"/>
<rect x="376.40" y="306.00" width="16.90" height="11.20" fill="#fab4e4" stroke="#1e1e1e" stroke-width="1.1" rx="0.8" fill-opacity="0.9"/>
<line x1="376.40" y1="312.20" x2="393.30" y2="312.20" stroke="#1e1e1e" stroke-width="1.2"/>
<rect x="397.20" y="315.60" width="17.20" height="7.60" fill="#b4cdf8" stroke="#1e1e1e" stroke-width="1.1" rx="0.8" fill-opacity="0.9"/>
<line x1="397.20" y1="321.40" x2="414.40" y2="321.40" stroke="#1e1e1e" stroke-width="1.2"/>
<rect x="418.20" y="318.00" width="17.10" height="7.00" fill="#8ad9c0" stroke="#1e1e1e" stroke-width="1.1" rx="0.8" fill-opacity="0.9"/>
<line x1="418.20" y1="322.70" x2="435.30" y2="322.70" stroke="#1e1e1e" stroke-width="1.2"/>
<rect x="335.20" y="476.30" width="17.10" height="19.00" fill="#e6e6e6" stroke="#1e1e1e" stroke-width="1.1" rx="0.8" fill-opacity="0.9"/>
<line x1="335.20" y1="487.60" x2="352.30" y2="487.60" stroke="#1e1e1e" stroke-width="1.2"/>
<rect x="356.00" y="488.20" width="16.90" height="11.10" fill="#efb8f8" stroke="#1e1e1e" stroke-width="1.1" rx="0.8" fill-opacity="0.9"/>
<line x1="356.00" y1="494.40" x2="372.90" y2="494.40" stroke="#1e1e1e" stroke-width="1.2"/>
<rect x="376.70" y="478.70" width="17.10" height="18.10" fill="#fab4e4" stroke="#1e1e1e" stroke-width="1.1" rx="0.8" fill-opacity="0.9"/>
<line x1="376.70" y1="489.40" x2="393.80" y2="489.40" stroke="#1e1e1e" stroke-width="1.2"/>
<rect x="397.50" y="491.10" width="16.90" height="10.70" fill="#b4cdf8" stroke="#1e1e1e" stroke-width="1.1" rx="0.8" fill-opacity="0.9"/>
<line x1="397.50" y1="496.30" x2="414.40" y2="496.30" stroke="#1e1e1e" stroke-width="1.2"/>
<rect x="418.60" y="494.40" width="16.40" height="9.40" fill="#8ad9c0" stroke="#1e1e1e" stroke-width="1.1" rx="0.8" fill-opacity="0.9"/>
<line x1="418.60" y1="499.30" x2="435.00" y2="499.30" stroke="#1e1e1e" stroke-width="1.2"/>
<circle cx="185.50" cy="29.40" r="1.3" fill="#c4c4c4" fill-opacity="0.8"/>
<circle cx="184.40" cy="38.60" r="1.3" fill="#c4c4c4" fill-opacity="0.8"/>
<circle cx="185.70" cy="40.40" r="1.3" fill="#c4c4c4" fill-opacity="0.8"/>
<circle cx="184.80" cy="61.50" r="1.3" fill="#c4c4c4" fill-opacity="0.8"/>
<circle cx="184.40" cy="70.50" r="1.3" fill="#c4c4c4" fill-opacity="0.8"/>
<circle cx="184.20" cy="75.20" r="1.3" fill="#c4c4c4" fill-opacity="0.8"/>
<circle cx="184.90" cy="141.90" r="1.3" fill="#c4c4c4" fill-opacity="0.8"/>
<circle cx="185.60" cy="144.10" r="1.3" fill="#c4c4c4" fill-opacity="0.8"/>
<circle cx="184.50" cy="149.20" r="1.3" fill="#c4c4c4" fill-opacity="0.8"/>
<circle cx="183.64" cy="100.14" r="1.3" fill="#c4c4c4" fill-opacity="0.8"/>
<circle cx="185.54" cy="130.04" r="1.3" fill="#c4c4c4" fill-opacity="0.8"/>
<circle cx="185.26" cy="118.69" r="1.3" fill="#c4c4c4" fill-opacity="0.8"/>
<circle cx="184.02" cy="111.77" r="1.3" fill="#c4c4c4" fill-opacity="0.8"/>
<circle cx="183.96" cy="88.80" r="1.3" fill="#c4c4c4" fill-opacity="0.8"/>
<circle cx="183.97" cy="88.80" r="1.3" fill="#c4c4c4" fill-opacity="0.8"/>
<circle cx="184.21" cy="83.71" r="1.3" fill="#c4c4c4" fill-opacity="0.8"/>
<circle cx="184.65" cy="125.65" r="1.3" fill="#c4c4c4" fill-opacity="0.8"/>
<circle cx="184.46" cy="111.90" r="1.3" fill="#c4c4c4" fill-opacity="0.8"/>
<circle cx="184.18" cy="117.45" r="1.3" fill="#c4c4c4" fill-opacity="0.8"/>
<circle cx="203.50" cy="81.50" r="1.3" fill="#c4c4c4" fill-opacity="0.8"/>
<circle cx="203.90" cy="94.60" r="1.3" fill="#c4c4c4" fill-opacity="0.8"/>
<circle cx="203.90" cy="101.80" r="1.3" fill="#c4c4c4" fill-opacity="0.8"/>
<circle cx="203.90" cy="106.20" r="1.3" fill="#c4c4c4" fill-opacity="0.8"/>
<circle cx="203.90" cy="112.00" r="1.3" fill="#c4c4c4" fill-opacity="0.8"/>
<circle cx="203.90" cy="144.10" r="1.3" fill="#c4c4c4" fill-opacity="0.8"/>
<circle cx="203.90" cy="147.70" r="1.3" fill="#c4c4c4" fill-opacity="0.8"/>
<circle cx="203.90" cy="151.40" r="1.3" fill="#c4c4c4" fill-opacity="0.8"/>
<circle cx="202.94" cy="129.22" r="1.3" fill="#c4c4c4" fill-opacity="0.8"/>
<circle cx="202.64" cy="129.84" r="1.3" fill="#c4c4c4" fill-opacity="0.8"/>
<circle cx="203.20" cy="121.41" r="1.3" fill="#c4c4c4" fill-opacity="0.8"/>
<circle cx="203.33" cy="139.69" r="1.3" fill="#c4c4c4" fill-opacity="0.8"/>
<circle cx="203.09" cy="135.16" r="1.3" fill="#c4c4c4" fill-opacity="0.8"/>
<circle cx="204.21" cy="138.99" r="1.3" fill="#c4c4c4" fill-opacity="0.8"/>
<circle cx="203.26" cy="137.95" r="1.3" fill="#c4c4c4" fill-opacity="0.8"/>
<circle cx="203.11" cy="131.03" r="1.3" fill="#c4c4c4" fill-opacity="0.8"/>
<circle cx="203.64" cy="138.58" r="1.3" fill="#c4c4c4" fill-opacity="0.8"/>
<circle cx="202.83" cy="119.16" r="1.3" fill="#c4c4c4" fill-opacity="0.8"/>
<circle cx="222.60" cy="129.50" r="1.3" fill="#c4c4c4" fill-opacity="0.8"/>
<circle cx="222.60" cy="146.00" r="1.3" fill="#c4c4c4" fill-opacity="0.8"/>
<circle cx="222.20" cy="151.00" r="1.3" fill="#c4c4c4" fill-opacity="0.8"/>
<circle cx="222.62" cy="142.45" r="1.3" fill="#c4c4c4" fill-opacity="0.8"/>
<circle cx="223.42" cy="145.01" r="1.3" fill="#c4c4c4" fill-opacity="0.8"/>
<circle cx="222.10" cy="141.62" r="1.3" fill="#c4c4c4" fill-opacity="0.8"/>
<circle cx="222.42" cy="141.98" r="1.3" fill="#c4c4c4" fill-opacity="0.8"/>
<circle cx="223.11" cy="140.82" r="1.3" fill="#c4c4c4" fill-opacity="0.8"/>
<circle cx="222.06" cy="135.91" r="1.3" fill="#c4c4c4" fill-opacity="0.8"/>
<circle cx="221.75" cy="136.92" r="1.3" fill="#c4c4c4" fill-opacity="0.8"/>
<circle cx="222.18" cy="135.98" r="1.3" fill="#c4c4c4" fill-opacity="0.8"/>
<circle cx="221.92" cy="143.36" r="1.3" fill="#c4c4c4" fill-opacity="0.8"/>
<circle cx="223.46" cy="139.44" r="1.3" fill="#c4c4c4" fill-opacity="0.8"/>
<circle cx="241.60" cy="56.40" r="1.3" fill="#c4c4c4" fill-opacity="0.8"/>
<circle cx="241.60" cy="64.70" r="1.3" fill="#c4c4c4" fill-opacity="0.8"/>
<circle cx="241.20" cy="88.50" r="1.3" fill="#c4c4c4" fill-opacity="0.8"/>
<circle cx="241.20" cy="143.70" r="1.3" fill="#c4c4c4" fill-opacity="0.8"/>
<circle cx="241.60" cy="146.00" r="1.3" fill="#c4c4c4" fill-opacity="0.8"/>
<circle cx="241.46" cy="129.53" r="1.3" fill="#c4c4c4" fill-opacity="0.8"/>
<circle cx="240.55" cy="118.95" r="1.3" fill="#c4c4c4" fill-opacity="0.8"/>
<circle cx="241.01" cy="137.92" r="1.3" fill="#c4c4c4" fill-opacity="0.8"/>
<circle cx="242.27" cy="137.63" r="1.3" fill="#c4c4c4" fill-opacity="0.8"/>
<circle cx="240.93" cy="115.46" r="1.3" fill="#c4c4c4" fill-opacity="0.8"/>
<circle cx="240.74" cy="123.11" r="1.3" fill="#c4c4c4" fill-opacity="0.8"/>
<circle cx="241.43" cy="116.99" r="1.3" fill="#c4c4c4" fill-opacity="0.8"/>
<circle cx="242.42" cy="116.49" r="1.3" fill="#c4c4c4" fill-opacity="0.8"/>
<circle cx="240.93" cy="108.75" r="1.3" fill="#c4c4c4" fill-opacity="0.8"/>
<circle cx="241.79" cy="126.62" r="1.3" fill="#c4c4c4" fill-opacity="0.8"/>
<circle cx="260.90" cy="118.60" r="1.3" fill="#c4c4c4" fill-opacity="0.8"/>
<circle cx="260.40" cy="148.00" r="1.3" fill="#c4c4c4" fill-opacity="0.8"/>
<circle cx="260.40" cy="150.00" r="1.3" fill="#c4c4c4" fill-opacity="0.8"/>
<circle cx="261.20" cy="143.16" r="1.3" fill="#c4c4c4" fill-opacity="0.8"/>
<circle cx="260.67" cy="141.95" r="1.3" fill="#c4c4c4" fill-opacity="0.8"/>
<circle cx="260.08" cy="126.03" r="1.3" fill="#c4c4c4" fill-opacity="0.8"/>
<circle cx="260.10" cy="136.36" r="1.3" fill="#c4c4c4" fill-opacity="0.8"/>
<circle cx="260.85" cy="140.40" r="1.3" fill="#c4c4c4" fill-opacity="0.8"/>
<circle cx="261.19" cy="133.67" r="1.3" fill="#c4c4c4" fill-opacity="0.8"/>
<circle cx="261.17" cy="133.01" r="1.3" fill="#c4c4c4" fill-opacity="0.8"/>
<circle cx="260.96" cy="125.62" r="1.3" fill="#c4c4c4" fill-opacity="0.8"/>
<circle cx="260.68" cy="121.79" r="1.3" fill="#c4c4c4" fill-opacity="0.8"/>
<circle cx="259.57" cy="142.46" r="1.3" fill="#c4c4c4" fill-opacity="0.8"/>
<circle cx="192.80" cy="57.30" r="1.35" fill="#2dc552" fill-opacity="0.9"/>
<circle cx="192.40" cy="68.20" r="1.35" fill="#2dc552" fill-opacity="0.9"/>
<circle cx="192.80" cy="69.20" r="1.35" fill="#2dc552" fill-opacity="0.9"/>
<circle cx="192.80" cy="79.00" r="1.35" fill="#2dc552" fill-opacity="0.9"/>
<circle cx="192.20" cy="85.80" r="1.35" fill="#2dc552" fill-opacity="0.9"/>
<circle cx="192.20" cy="93.80" r="1.35" fill="#2dc552" fill-opacity="0.9"/>
<circle cx="192.60" cy="94.60" r="1.35" fill="#2dc552" fill-opacity="0.9"/>
<circle cx="192.20" cy="114.20" r="1.35" fill="#2dc552" fill-opacity="0.9"/>
<circle cx="192.60" cy="142.30" r="1.35" fill="#2dc552" fill-opacity="0.9"/>
<circle cx="192.60" cy="148.40" r="1.35" fill="#2dc552" fill-opacity="0.9"/>
<circle cx="192.20" cy="151.40" r="1.35" fill="#2dc552" fill-opacity="0.9"/>
<circle cx="191.39" cy="124.14" r="1.35" fill="#2dc552" fill-opacity="0.9"/>
<circle cx="192.52" cy="106.66" r="1.35" fill="#2dc552" fill-opacity="0.9"/>
<circle cx="191.64" cy="112.31" r="1.35" fill="#2dc552" fill-opacity="0.9"/>
<circle cx="191.43" cy="115.06" r="1.35" fill="#2dc552" fill-opacity="0.9"/>
<circle cx="193.20" cy="118.37" r="1.35" fill="#2dc552" fill-opacity="0.9"/>
<circle cx="193.23" cy="130.55" r="1.35" fill="#2dc552" fill-opacity="0.9"/>
<circle cx="192.92" cy="108.89" r="1.35" fill="#2dc552" fill-opacity="0.9"/>
<circle cx="191.91" cy="120.53" r="1.35" fill="#2dc552" fill-opacity="0.9"/>
<circle cx="191.50" cy="123.42" r="1.35" fill="#2dc552" fill-opacity="0.9"/>
<circle cx="211.10" cy="85.70" r="1.35" fill="#2dc552" fill-opacity="0.9"/>
<circle cx="211.60" cy="86.60" r="1.35" fill="#2dc552" fill-opacity="0.9"/>
<circle cx="210.70" cy="98.90" r="1.35" fill="#2dc552" fill-opacity="0.9"/>
<circle cx="211.60" cy="104.00" r="1.35" fill="#2dc552" fill-opacity="0.9"/>
<circle cx="211.10" cy="120.00" r="1.35" fill="#2dc552" fill-opacity="0.9"/>
<circle cx="211.10" cy="123.70" r="1.35" fill="#2dc552" fill-opacity="0.9"/>
<circle cx="211.10" cy="146.30" r="1.35" fill="#2dc552" fill-opacity="0.9"/>
<circle cx="211.60" cy="150.60" r="1.35" fill="#2dc552" fill-opacity="0.9"/>
<circle cx="211.84" cy="141.45" r="1.35" fill="#2dc552" fill-opacity="0.9"/>
<circle cx="210.45" cy="130.25" r="1.35" fill="#2dc552" fill-opacity="0.9"/>
<circle cx="211.02" cy="144.30" r="1.35" fill="#2dc552" fill-opacity="0.9"/>
<circle cx="210.53" cy="140.99" r="1.35" fill="#2dc552" fill-opacity="0.9"/>
<circle cx="212.03" cy="132.16" r="1.35" fill="#2dc552" fill-opacity="0.9"/>
<circle cx="211.55" cy="129.19" r="1.35" fill="#2dc552" fill-opacity="0.9"/>
<circle cx="210.96" cy="141.66" r="1.35" fill="#2dc552" fill-opacity="0.9"/>
<circle cx="210.43" cy="139.99" r="1.35" fill="#2dc552" fill-opacity="0.9"/>
<circle cx="210.92" cy="140.33" r="1.35" fill="#2dc552" fill-opacity="0.9"/>
<circle cx="230.30" cy="131.70" r="1.35" fill="#2dc552" fill-opacity="0.9"/>
<circle cx="230.30" cy="137.60" r="1.35" fill="#2dc552" fill-opacity="0.9"/>
<circle cx="229.80" cy="153.50" r="1.35" fill="#2dc552" fill-opacity="0.9"/>
<circle cx="230.30" cy="150.50" r="1.35" fill="#2dc552" fill-opacity="0.9"/>
<circle cx="229.89" cy="148.22" r="1.35" fill="#2dc552" fill-opacity="0.9"/>
<circle cx="229.47" cy="146.88" r="1.35" fill="#2dc552" fill-opacity="0.9"/>
<circle cx="229.71" cy="148.71" r="1.35" fill="#2dc552" fill-opacity="0.9"/>
<circle cx="230.10" cy="148.19" r="1.35" fill="#2dc552" fill-opacity="0.9"/>
<circle cx="230.89" cy="143.44" r="1.35" fill="#2dc552" fill-opacity="0.9"/>
<circle cx="230.97" cy="148.87" r="1.35" fill="#2dc552" fill-opacity="0.9"/>
<circle cx="229.26" cy="146.15" r="1.35" fill="#2dc552" fill-opacity="0.9"/>
<circle cx="230.27" cy="148.22" r="1.35" fill="#2dc552" fill-opacity="0.9"/>
<circle cx="230.08" cy="148.90" r="1.35" fill="#2dc552" fill-opacity="0.9"/>
<circle cx="248.20" cy="90.90" r="1.35" fill="#2dc552" fill-opacity="0.9"/>
<circle cx="248.20" cy="100.70" r="1.35" fill="#2dc552" fill-opacity="0.9"/>
<circle cx="249.30" cy="107.00" r="1.35" fill="#2dc552" fill-opacity="0.9"/>
<circle cx="248.80" cy="110.50" r="1.35" fill="#2dc552" fill-opacity="0.9"/>
<circle cx="247.80" cy="121.90" r="1.35" fill="#2dc552" fill-opacity="0.9"/>
<circle cx="248.80" cy="150.30" r="1.35" fill="#2dc552" fill-opacity="0.9"/>
<circle cx="248.80" cy="147.00" r="1.35" fill="#2dc552" fill-opacity="0.9"/>
<circle cx="248.49" cy="139.21" r="1.35" fill="#2dc552" fill-opacity="0.9"/>
<circle cx="248.22" cy="128.68" r="1.35" fill="#2dc552" fill-opacity="0.9"/>
<circle cx="247.93" cy="138.54" r="1.35" fill="#2dc552" fill-opacity="0.9"/>
<circle cx="249.03" cy="131.29" r="1.35" fill="#2dc552" fill-opacity="0.9"/>
<circle cx="249.21" cy="136.61" r="1.35" fill="#2dc552" fill-opacity="0.9"/>
<circle cx="247.88" cy="136.63" r="1.35" fill="#2dc552" fill-opacity="0.9"/>
<circle cx="248.87" cy="134.67" r="1.35" fill="#2dc552" fill-opacity="0.9"/>
<circle cx="248.30" cy="125.71" r="1.35" fill="#2dc552" fill-opacity="0.9"/>
<circle cx="249.14" cy="140.69" r="1.35" fill="#2dc552" fill-opacity="0.9"/>
<circle cx="268.50" cy="104.00" r="1.35" fill="#2dc552" fill-opacity="0.9"/>
<circle cx="268.50" cy="129.50" r="1.35" fill="#2dc552" fill-opacity="0.9"/>
<circle cx="267.40" cy="149.20" r="1.35" fill="#2dc552" fill-opacity="0.9"/>
<circle cx="267.80" cy="151.00" r="1.35" fill="#2dc552" fill-opacity="0.9"/>
<circle cx="267.88" cy="135.42" r="1.35" fill="#2dc552" fill-opacity="0.9"/>
<circle cx="267.80" cy="146.48" r="1.35" fill="#2dc552" fill-opacity="0.9"/>
<circle cx="266.95" cy="142.10" r="1.35" fill="#2dc552" fill-opacity="0.9"/>
<circle cx="267.92" cy="133.14" r="1.35" fill="#2dc552" fill-opacity="0.9"/>
<circle cx="266.97" cy="134.52" r="1.35" fill="#2dc552" fill-opacity="0.9"/>
<circle cx="267.15" cy="142.95" r="1.35" fill="#2dc552" fill-opacity="0.9"/>
<circle cx="267.99" cy="133.08" r="1.35" fill="#2dc552" fill-opacity="0.9"/>
<circle cx="267.80" cy="135.41" r="1.35" fill="#2dc552" fill-opacity="0.9"/>
<circle cx="268.20" cy="141.23" r="1.35" fill="#2dc552" fill-opacity="0.9"/>
<circle cx="183.50" cy="269.70" r="1.3" fill="#c4c4c4" fill-opacity="0.8"/>
<circle cx="183.50" cy="270.20" r="1.3" fill="#c4c4c4" fill-opacity="0.8"/>
<circle cx="183.50" cy="287.90" r="1.3" fill="#c4c4c4" fill-opacity="0.8"/>
<circle cx="183.50" cy="319.30" r="1.3" fill="#c4c4c4" fill-opacity="0.8"/>
<circle cx="183.50" cy="322.00" r="1.3" fill="#c4c4c4" fill-opacity="0.8"/>
<circle cx="183.59" cy="309.03" r="1.3" fill="#c4c4c4" fill-opacity="0.8"/>
<circle cx="184.64" cy="298.94" r="1.3" fill="#c4c4c4" fill-opacity="0.8"/>
<circle cx="183.76" cy="307.62" r="1.3" fill="#c4c4c4" fill-opacity="0.8"/>
<circle cx="183.25" cy="303.08" r="1.3" fill="#c4c4c4" fill-opacity="0.8"/>
<circle cx="184.49" cy="305.93" r="1.3" fill="#c4c4c4" fill-opacity="0.8"/>
<circle cx="183.55" cy="300.85" r="1.3" fill="#c4c4c4" fill-opacity="0.8"/>
<circle cx="185.08" cy="302.14" r="1.3" fill="#c4c4c4" fill-opacity="0.8"/>
<circle cx="185.11" cy="300.67" r="1.3" fill="#c4c4c4" fill-opacity="0.8"/>
<circle cx="202.20" cy="206.10" r="1.3" fill="#c4c4c4" fill-opacity="0.8"/>
<circle cx="203.30" cy="248.10" r="1.3" fill="#c4c4c4" fill-opacity="0.8"/>
<circle cx="203.30" cy="258.50" r="1.3" fill="#c4c4c4" fill-opacity="0.8"/>
<circle cx="202.60" cy="284.50" r="1.3" fill="#c4c4c4" fill-opacity="0.8"/>
<circle cx="203.30" cy="311.80" r="1.3" fill="#c4c4c4" fill-opacity="0.8"/>
<circle cx="203.30" cy="318.60" r="1.3" fill="#c4c4c4" fill-opacity="0.8"/>
<circle cx="203.70" cy="329.50" r="1.3" fill="#c4c4c4" fill-opacity="0.8"/>
<circle cx="204.13" cy="306.37" r="1.3" fill="#c4c4c4" fill-opacity="0.8"/>
<circle cx="204.23" cy="304.34" r="1.3" fill="#c4c4c4" fill-opacity="0.8"/>
<circle cx="203.42" cy="303.69" r="1.3" fill="#c4c4c4" fill-opacity="0.8"/>
<circle cx="203.40" cy="303.77" r="1.3" fill="#c4c4c4" fill-opacity="0.8"/>
<circle cx="204.00" cy="298.66" r="1.3" fill="#c4c4c4" fill-opacity="0.8"/>
<circle cx="203.70" cy="297.67" r="1.3" fill="#c4c4c4" fill-opacity="0.8"/>
<circle cx="203.80" cy="305.36" r="1.3" fill="#c4c4c4" fill-opacity="0.8"/>
<circle cx="203.99" cy="305.37" r="1.3" fill="#c4c4c4" fill-opacity="0.8"/>
<circle cx="222.00" cy="279.80" r="1.3" fill="#c4c4c4" fill-opacity="0.8"/>
<circle cx="221.10" cy="286.40" r="1.3" fill="#c4c4c4" fill-opacity="0.8"/>
<circle cx="222.00" cy="290.30" r="1.3" fill="#c4c4c4" fill-opacity="0.8"/>
<circle cx="221.60" cy="320.90" r="1.3" fill="#c4c4c4" fill-opacity="0.8"/>
<circle cx="221.70" cy="280.40" r="1.3" fill="#c4c4c4" fill-opacity="0.8"/>
<circle cx="221.70" cy="295.70" r="1.3" fill="#c4c4c4" fill-opacity="0.8"/>
<circle cx="221.16" cy="310.55" r="1.3" fill="#c4c4c4" fill-opacity="0.8"/>
<circle cx="221.05" cy="311.81" r="1.3" fill="#c4c4c4" fill-opacity="0.8"/>
<circle cx="222.93" cy="315.36" r="1.3" fill="#c4c4c4" fill-opacity="0.8"/>
<circle cx="222.67" cy="308.83" r="1.3" fill="#c4c4c4" fill-opacity="0.8"/>
<circle cx="222.39" cy="306.09" r="1.3" fill="#c4c4c4" fill-opacity="0.8"/>
<circle cx="221.82" cy="312.79" r="1.3" fill="#c4c4c4" fill-opacity="0.8"/>
<circle cx="221.35" cy="305.35" r="1.3" fill="#c4c4c4" fill-opacity="0.8"/>
<circle cx="221.31" cy="307.73" r="1.3" fill="#c4c4c4" fill-opacity="0.8"/>
<circle cx="240.80" cy="275.00" r="1.3" fill="#c4c4c4" fill-opacity="0.8"/>
<circle cx="240.80" cy="280.50" r="1.3" fill="#c4c4c4" fill-opacity="0.8"/>
<circle cx="241.20" cy="287.70" r="1.3" fill="#c4c4c4" fill-opacity="0.8"/>
<circle cx="240.80" cy="322.00" r="1.3" fill="#c4c4c4" fill-opacity="0.8"/>
<circle cx="241.00" cy="300.76" r="1.3" fill="#c4c4c4" fill-opacity="0.8"/>
<circle cx="240.76" cy="295.78" r="1.3" fill="#c4c4c4" fill-opacity="0.8"/>
<circle cx="241.46" cy="300.10" r="1.3" fill="#c4c4c4" fill-opacity="0.8"/>
<circle cx="241.07" cy="299.52" r="1.3" fill="#c4c4c4" fill-opacity="0.8"/>
<circle cx="240.08" cy="303.12" r="1.3" fill="#c4c4c4" fill-opacity="0.8"/>
<circle cx="239.89" cy="303.44" r="1.3" fill="#c4c4c4" fill-opacity="0.8"/>
<circle cx="241.03" cy="293.65" r="1.3" fill="#c4c4c4" fill-opacity="0.8"/>
<circle cx="239.80" cy="299.12" r="1.3" fill="#c4c4c4" fill-opacity="0.8"/>
<circle cx="259.80" cy="252.80" r="1.3" fill="#c4c4c4" fill-opacity="0.8"/>
<circle cx="259.80" cy="258.20" r="1.3" fill="#c4c4c4" fill-opacity="0.8"/>
<circle cx="259.80" cy="305.60" r="1.3" fill="#c4c4c4" fill-opacity="0.8"/>
<circle cx="259.50" cy="303.00" r="1.3" fill="#c4c4c4" fill-opacity="0.8"/>
<circle cx="258.95" cy="280.01" r="1.3" fill="#c4c4c4" fill-opacity="0.8"/>
<circle cx="260.10" cy="275.47" r="1.3" fill="#c4c4c4" fill-opacity="0.8"/>
<circle cx="260.21" cy="291.50" r="1.3" fill="#c4c4c4" fill-opacity="0.8"/>
<circle cx="260.58" cy="289.62" r="1.3" fill="#c4c4c4" fill-opacity="0.8"/>
<circle cx="259.43" cy="296.51" r="1.3" fill="#c4c4c4" fill-opacity="0.8"/>
<circle cx="259.34" cy="292.56" r="1.3" fill="#c4c4c4" fill-opacity="0.8"/>
<circle cx="260.15" cy="294.46" r="1.3" fill="#c4c4c4" fill-opacity="0.8"/>
<circle cx="259.28" cy="280.01" r="1.3" fill="#c4c4c4" fill-opacity="0.8"/>
<circle cx="192.20" cy="257.50" r="1.35" fill="#2dc552" fill-opacity="0.9"/>
<circle cx="191.60" cy="267.40" r="1.35" fill="#2dc552" fill-opacity="0.9"/>
<circle cx="191.40" cy="267.50" r="1.35" fill="#2dc552" fill-opacity="0.9"/>
<circle cx="191.40" cy="273.40" r="1.35" fill="#2dc552" fill-opacity="0.9"/>
<circle cx="191.70" cy="277.70" r="1.35" fill="#2dc552" fill-opacity="0.9"/>
<circle cx="191.40" cy="282.50" r="1.35" fill="#2dc552" fill-opacity="0.9"/>
<circle cx="191.70" cy="311.80" r="1.35" fill="#2dc552" fill-opacity="0.9"/>
<circle cx="191.70" cy="321.30" r="1.35" fill="#2dc552" fill-opacity="0.9"/>
<circle cx="191.29" cy="305.06" r="1.35" fill="#2dc552" fill-opacity="0.9"/>
<circle cx="191.47" cy="294.54" r="1.35" fill="#2dc552" fill-opacity="0.9"/>
<circle cx="192.40" cy="287.70" r="1.35" fill="#2dc552" fill-opacity="0.9"/>
<circle cx="191.33" cy="305.32" r="1.35" fill="#2dc552" fill-opacity="0.9"/>
<circle cx="191.04" cy="295.66" r="1.35" fill="#2dc552" fill-opacity="0.9"/>
<circle cx="191.81" cy="306.06" r="1.35" fill="#2dc552" fill-opacity="0.9"/>
<circle cx="192.57" cy="306.00" r="1.35" fill="#2dc552" fill-opacity="0.9"/>
<circle cx="192.09" cy="303.86" r="1.35" fill="#2dc552" fill-opacity="0.9"/>
<circle cx="210.90" cy="228.00" r="1.35" fill="#2dc552" fill-opacity="0.9"/>
<circle cx="209.90" cy="264.90" r="1.35" fill="#2dc552" fill-opacity="0.9"/>
<circle cx="209.70" cy="264.80" r="1.35" fill="#2dc552" fill-opacity="0.9"/>
<circle cx="210.50" cy="279.10" r="1.35" fill="#2dc552" fill-opacity="0.9"/>
<circle cx="210.80" cy="282.10" r="1.35" fill="#2dc552" fill-opacity="0.9"/>
<circle cx="210.50" cy="285.90" r="1.35" fill="#2dc552" fill-opacity="0.9"/>
<circle cx="210.50" cy="300.90" r="1.35" fill="#2dc552" fill-opacity="0.9"/>
<circle cx="210.50" cy="317.20" r="1.35" fill="#2dc552" fill-opacity="0.9"/>
<circle cx="210.80" cy="322.70" r="1.35" fill="#2dc552" fill-opacity="0.9"/>
<circle cx="210.12" cy="313.57" r="1.35" fill="#2dc552" fill-opacity="0.9"/>
<circle cx="210.73" cy="306.89" r="1.35" fill="#2dc552" fill-opacity="0.9"/>
<circle cx="209.61" cy="307.34" r="1.35" fill="#2dc552" fill-opacity="0.9"/>
<circle cx="209.62" cy="303.94" r="1.35" fill="#2dc552" fill-opacity="0.9"/>
<circle cx="211.20" cy="309.80" r="1.35" fill="#2dc552" fill-opacity="0.9"/>
<circle cx="210.27" cy="303.23" r="1.35" fill="#2dc552" fill-opacity="0.9"/>
<circle cx="209.80" cy="308.43" r="1.35" fill="#2dc552" fill-opacity="0.9"/>
<circle cx="210.59" cy="309.37" r="1.35" fill="#2dc552" fill-opacity="0.9"/>
<circle cx="229.20" cy="284.90" r="1.35" fill="#2dc552" fill-opacity="0.9"/>
<circle cx="229.80" cy="290.30" r="1.35" fill="#2dc552" fill-opacity="0.9"/>
<circle cx="229.20" cy="306.70" r="1.35" fill="#2dc552" fill-opacity="0.9"/>
<circle cx="229.20" cy="325.30" r="1.35" fill="#2dc552" fill-opacity="0.9"/>
<circle cx="229.20" cy="327.40" r="1.35" fill="#2dc552" fill-opacity="0.9"/>
<circle cx="229.62" cy="313.80" r="1.35" fill="#2dc552" fill-opacity="0.9"/>
<circle cx="229.24" cy="316.91" r="1.35" fill="#2dc552" fill-opacity="0.9"/>
<circle cx="228.90" cy="318.63" r="1.35" fill="#2dc552" fill-opacity="0.9"/>
<circle cx="229.11" cy="318.07" r="1.35" fill="#2dc552" fill-opacity="0.9"/>
<circle cx="229.92" cy="314.11" r="1.35" fill="#2dc552" fill-opacity="0.9"/>
<circle cx="228.43" cy="321.13" r="1.35" fill="#2dc552" fill-opacity="0.9"/>
<circle cx="228.63" cy="318.87" r="1.35" fill="#2dc552" fill-opacity="0.9"/>
<circle cx="228.49" cy="316.97" r="1.35" fill="#2dc552" fill-opacity="0.9"/>
<circle cx="248.20" cy="293.20" r="1.35" fill="#2dc552" fill-opacity="0.9"/>
<circle cx="248.80" cy="306.30" r="1.35" fill="#2dc552" fill-opacity="0.9"/>
<circle cx="247.80" cy="311.70" r="1.35" fill="#2dc552" fill-opacity="0.9"/>
<circle cx="248.20" cy="328.50" r="1.35" fill="#2dc552" fill-opacity="0.9"/>
<circle cx="247.97" cy="320.62" r="1.35" fill="#2dc552" fill-opacity="0.9"/>
<circle cx="249.12" cy="323.17" r="1.35" fill="#2dc552" fill-opacity="0.9"/>
<circle cx="249.01" cy="320.54" r="1.35" fill="#2dc552" fill-opacity="0.9"/>
<circle cx="247.59" cy="319.19" r="1.35" fill="#2dc552" fill-opacity="0.9"/>
<circle cx="247.34" cy="321.03" r="1.35" fill="#2dc552" fill-opacity="0.9"/>
<circle cx="247.40" cy="319.70" r="1.35" fill="#2dc552" fill-opacity="0.9"/>
<circle cx="247.24" cy="320.33" r="1.35" fill="#2dc552" fill-opacity="0.9"/>
<circle cx="247.39" cy="323.18" r="1.35" fill="#2dc552" fill-opacity="0.9"/>
<circle cx="266.70" cy="245.60" r="1.35" fill="#2dc552" fill-opacity="0.9"/>
<circle cx="267.40" cy="300.20" r="1.35" fill="#2dc552" fill-opacity="0.9"/>
<circle cx="266.70" cy="326.40" r="1.35" fill="#2dc552" fill-opacity="0.9"/>
<circle cx="267.00" cy="325.00" r="1.35" fill="#2dc552" fill-opacity="0.9"/>
<circle cx="267.80" cy="321.72" r="1.35" fill="#2dc552" fill-opacity="0.9"/>
<circle cx="266.79" cy="320.91" r="1.35" fill="#2dc552" fill-opacity="0.9"/>
<circle cx="267.94" cy="316.10" r="1.35" fill="#2dc552" fill-opacity="0.9"/>
<circle cx="266.93" cy="319.71" r="1.35" fill="#2dc552" fill-opacity="0.9"/>
<circle cx="266.17" cy="319.75" r="1.35" fill="#2dc552" fill-opacity="0.9"/>
<circle cx="267.96" cy="312.45" r="1.35" fill="#2dc552" fill-opacity="0.9"/>
<circle cx="266.33" cy="321.41" r="1.35" fill="#2dc552" fill-opacity="0.9"/>
<circle cx="266.79" cy="316.96" r="1.35" fill="#2dc552" fill-opacity="0.9"/>
<circle cx="185.20" cy="386.10" r="1.3" fill="#c4c4c4" fill-opacity="0.8"/>
<circle cx="183.90" cy="396.30" r="1.3" fill="#c4c4c4" fill-opacity="0.8"/>
<circle cx="184.80" cy="408.60" r="1.3" fill="#c4c4c4" fill-opacity="0.8"/>
<circle cx="184.40" cy="421.00" r="1.3" fill="#c4c4c4" fill-opacity="0.8"/>
<circle cx="183.90" cy="425.50" r="1.3" fill="#c4c4c4" fill-opacity="0.8"/>
<circle cx="183.90" cy="431.50" r="1.3" fill="#c4c4c4" fill-opacity="0.8"/>
<circle cx="183.50" cy="433.40" r="1.3" fill="#c4c4c4" fill-opacity="0.8"/>
<circle cx="184.90" cy="495.90" r="1.3" fill="#c4c4c4" fill-opacity="0.8"/>
<circle cx="184.20" cy="502.70" r="1.3" fill="#c4c4c4" fill-opacity="0.8"/>
<circle cx="184.90" cy="505.40" r="1.3" fill="#c4c4c4" fill-opacity="0.8"/>
<circle cx="184.98" cy="457.90" r="1.3" fill="#c4c4c4" fill-opacity="0.8"/>
<circle cx="183.90" cy="475.16" r="1.3" fill="#c4c4c4" fill-opacity="0.8"/>
<circle cx="183.43" cy="479.17" r="1.3" fill="#c4c4c4" fill-opacity="0.8"/>
<circle cx="183.49" cy="481.14" r="1.3" fill="#c4c4c4" fill-opacity="0.8"/>
<circle cx="184.72" cy="481.04" r="1.3" fill="#c4c4c4" fill-opacity="0.8"/>
<circle cx="184.44" cy="445.98" r="1.3" fill="#c4c4c4" fill-opacity="0.8"/>
<circle cx="183.40" cy="466.22" r="1.3" fill="#c4c4c4" fill-opacity="0.8"/>
<circle cx="183.37" cy="444.29" r="1.3" fill="#c4c4c4" fill-opacity="0.8"/>
<circle cx="184.60" cy="468.99" r="1.3" fill="#c4c4c4" fill-opacity="0.8"/>
<circle cx="183.35" cy="463.56" r="1.3" fill="#c4c4c4" fill-opacity="0.8"/>
<circle cx="204.30" cy="439.50" r="1.3" fill="#c4c4c4" fill-opacity="0.8"/>
<circle cx="204.70" cy="459.80" r="1.3" fill="#c4c4c4" fill-opacity="0.8"/>
<circle cx="204.70" cy="503.40" r="1.3" fill="#c4c4c4" fill-opacity="0.8"/>
<circle cx="204.70" cy="508.10" r="1.3" fill="#c4c4c4" fill-opacity="0.8"/>
<circle cx="204.16" cy="498.18" r="1.3" fill="#c4c4c4" fill-opacity="0.8"/>
<circle cx="205.09" cy="485.50" r="1.3" fill="#c4c4c4" fill-opacity="0.8"/>
<circle cx="203.25" cy="483.57" r="1.3" fill="#c4c4c4" fill-opacity="0.8"/>
<circle cx="204.21" cy="496.16" r="1.3" fill="#c4c4c4" fill-opacity="0.8"/>
<circle cx="205.04" cy="482.23" r="1.3" fill="#c4c4c4" fill-opacity="0.8"/>
<circle cx="204.15" cy="498.21" r="1.3" fill="#c4c4c4" fill-opacity="0.8"/>
<circle cx="204.36" cy="477.66" r="1.3" fill="#c4c4c4" fill-opacity="0.8"/>
<circle cx="204.49" cy="498.35" r="1.3" fill="#c4c4c4" fill-opacity="0.8"/>
<circle cx="204.01" cy="478.33" r="1.3" fill="#c4c4c4" fill-opacity="0.8"/>
<circle cx="204.36" cy="496.65" r="1.3" fill="#c4c4c4" fill-opacity="0.8"/>
<circle cx="223.40" cy="490.40" r="1.3" fill="#c4c4c4" fill-opacity="0.8"/>
<circle cx="224.00" cy="507.50" r="1.3" fill="#c4c4c4" fill-opacity="0.8"/>
<circle cx="223.45" cy="502.57" r="1.3" fill="#c4c4c4" fill-opacity="0.8"/>
<circle cx="224.34" cy="501.49" r="1.3" fill="#c4c4c4" fill-opacity="0.8"/>
<circle cx="223.91" cy="499.62" r="1.3" fill="#c4c4c4" fill-opacity="0.8"/>
<circle cx="225.09" cy="504.55" r="1.3" fill="#c4c4c4" fill-opacity="0.8"/>
<circle cx="224.83" cy="503.91" r="1.3" fill="#c4c4c4" fill-opacity="0.8"/>
<circle cx="224.83" cy="496.03" r="1.3" fill="#c4c4c4" fill-opacity="0.8"/>
<circle cx="224.09" cy="495.85" r="1.3" fill="#c4c4c4" fill-opacity="0.8"/>
<circle cx="223.98" cy="499.21" r="1.3" fill="#c4c4c4" fill-opacity="0.8"/>
<circle cx="223.70" cy="503.38" r="1.3" fill="#c4c4c4" fill-opacity="0.8"/>
<circle cx="223.26" cy="505.08" r="1.3" fill="#c4c4c4" fill-opacity="0.8"/>
<circle cx="244.30" cy="389.00" r="1.3" fill="#c4c4c4" fill-opacity="0.8"/>
<circle cx="244.30" cy="426.20" r="1.3" fill="#c4c4c4" fill-opacity="0.8"/>
<circle cx="244.30" cy="438.70" r="1.3" fill="#c4c4c4" fill-opacity="0.8"/>
<circle cx="244.70" cy="448.10" r="1.3" fill="#c4c4c4" fill-opacity="0.8"/>
<circle cx="244.30" cy="500.00" r="1.3" fill="#c4c4c4" fill-opacity="0.8"/>
<circle cx="243.33" cy="482.67" r="1.3" fill="#c4c4c4" fill-opacity="0.8"/>
<circle cx="244.00" cy="492.61" r="1.3" fill="#c4c4c4" fill-opacity="0.8"/>
<circle cx="244.48" cy="477.71" r="1.3" fill="#c4c4c4" fill-opacity="0.8"/>
<circle cx="244.08" cy="469.22" r="1.3" fill="#c4c4c4" fill-opacity="0.8"/>
<circle cx="244.17" cy="465.91" r="1.3" fill="#c4c4c4" fill-opacity="0.8"/>
<circle cx="245.11" cy="488.79" r="1.3" fill="#c4c4c4" fill-opacity="0.8"/>
<circle cx="244.00" cy="484.54" r="1.3" fill="#c4c4c4" fill-opacity="0.8"/>
<circle cx="244.33" cy="487.18" r="1.3" fill="#c4c4c4" fill-opacity="0.8"/>
<circle cx="244.87" cy="471.71" r="1.3" fill="#c4c4c4" fill-opacity="0.8"/>
<circle cx="244.09" cy="469.30" r="1.3" fill="#c4c4c4" fill-opacity="0.8"/>
<circle cx="263.50" cy="469.00" r="1.3" fill="#c4c4c4" fill-opacity="0.8"/>
<circle cx="264.00" cy="503.00" r="1.3" fill="#c4c4c4" fill-opacity="0.8"/>
<circle cx="263.73" cy="475.34" r="1.3" fill="#c4c4c4" fill-opacity="0.8"/>
<circle cx="264.01" cy="475.96" r="1.3" fill="#c4c4c4" fill-opacity="0.8"/>
<circle cx="264.38" cy="471.27" r="1.3" fill="#c4c4c4" fill-opacity="0.8"/>
<circle cx="263.08" cy="475.24" r="1.3" fill="#c4c4c4" fill-opacity="0.8"/>
<circle cx="264.60" cy="478.64" r="1.3" fill="#c4c4c4" fill-opacity="0.8"/>
<circle cx="264.26" cy="475.49" r="1.3" fill="#c4c4c4" fill-opacity="0.8"/>
<circle cx="263.16" cy="472.75" r="1.3" fill="#c4c4c4" fill-opacity="0.8"/>
<circle cx="264.75" cy="473.74" r="1.3" fill="#c4c4c4" fill-opacity="0.8"/>
<circle cx="264.84" cy="484.28" r="1.3" fill="#c4c4c4" fill-opacity="0.8"/>
<circle cx="263.12" cy="476.40" r="1.3" fill="#c4c4c4" fill-opacity="0.8"/>
<circle cx="192.80" cy="420.10" r="1.35" fill="#2dc552" fill-opacity="0.9"/>
<circle cx="191.80" cy="426.80" r="1.35" fill="#2dc552" fill-opacity="0.9"/>
<circle cx="192.40" cy="431.50" r="1.35" fill="#2dc552" fill-opacity="0.9"/>
<circle cx="193.10" cy="444.90" r="1.35" fill="#2dc552" fill-opacity="0.9"/>
<circle cx="193.10" cy="448.90" r="1.35" fill="#2dc552" fill-opacity="0.9"/>
<circle cx="193.10" cy="452.90" r="1.35" fill="#2dc552" fill-opacity="0.9"/>
<circle cx="192.80" cy="499.90" r="1.35" fill="#2dc552" fill-opacity="0.9"/>
<circle cx="192.40" cy="502.70" r="1.35" fill="#2dc552" fill-opacity="0.9"/>
<circle cx="193.10" cy="507.40" r="1.35" fill="#2dc552" fill-opacity="0.9"/>
<circle cx="193.37" cy="488.44" r="1.35" fill="#2dc552" fill-opacity="0.9"/>
<circle cx="192.91" cy="483.99" r="1.35" fill="#2dc552" fill-opacity="0.9"/>
<circle cx="192.15" cy="459.93" r="1.35" fill="#2dc552" fill-opacity="0.9"/>
<circle cx="191.57" cy="460.07" r="1.35" fill="#2dc552" fill-opacity="0.9"/>
<circle cx="192.95" cy="494.79" r="1.35" fill="#2dc552" fill-opacity="0.9"/>
<circle cx="192.52" cy="471.21" r="1.35" fill="#2dc552" fill-opacity="0.9"/>
<circle cx="192.25" cy="471.07" r="1.35" fill="#2dc552" fill-opacity="0.9"/>
<circle cx="193.21" cy="488.09" r="1.35" fill="#2dc552" fill-opacity="0.9"/>
<circle cx="191.62" cy="493.27" r="1.35" fill="#2dc552" fill-opacity="0.9"/>
<circle cx="211.30" cy="427.30" r="1.35" fill="#2dc552" fill-opacity="0.9"/>
<circle cx="212.40" cy="461.80" r="1.35" fill="#2dc552" fill-opacity="0.9"/>
<circle cx="212.40" cy="472.70" r="1.35" fill="#2dc552" fill-opacity="0.9"/>
<circle cx="212.40" cy="480.90" r="1.35" fill="#2dc552" fill-opacity="0.9"/>
<circle cx="212.40" cy="486.30" r="1.35" fill="#2dc552" fill-opacity="0.9"/>
<circle cx="212.40" cy="489.70" r="1.35" fill="#2dc552" fill-opacity="0.9"/>
<circle cx="212.40" cy="506.80" r="1.35" fill="#2dc552" fill-opacity="0.9"/>
<circle cx="212.40" cy="510.20" r="1.35" fill="#2dc552" fill-opacity="0.9"/>
<circle cx="211.53" cy="499.38" r="1.35" fill="#2dc552" fill-opacity="0.9"/>
<circle cx="212.08" cy="502.52" r="1.35" fill="#2dc552" fill-opacity="0.9"/>
<circle cx="211.86" cy="494.05" r="1.35" fill="#2dc552" fill-opacity="0.9"/>
<circle cx="212.32" cy="496.38" r="1.35" fill="#2dc552" fill-opacity="0.9"/>
<circle cx="211.31" cy="503.01" r="1.35" fill="#2dc552" fill-opacity="0.9"/>
<circle cx="213.10" cy="502.41" r="1.35" fill="#2dc552" fill-opacity="0.9"/>
<circle cx="213.12" cy="498.11" r="1.35" fill="#2dc552" fill-opacity="0.9"/>
<circle cx="212.55" cy="499.74" r="1.35" fill="#2dc552" fill-opacity="0.9"/>
<circle cx="212.22" cy="496.35" r="1.35" fill="#2dc552" fill-opacity="0.9"/>
<circle cx="232.20" cy="491.00" r="1.35" fill="#2dc552" fill-opacity="0.9"/>
<circle cx="232.20" cy="496.20" r="1.35" fill="#2dc552" fill-opacity="0.9"/>
<circle cx="231.70" cy="508.80" r="1.35" fill="#2dc552" fill-opacity="0.9"/>
<circle cx="232.25" cy="505.86" r="1.35" fill="#2dc552" fill-opacity="0.9"/>
<circle cx="231.61" cy="505.54" r="1.35" fill="#2dc552" fill-opacity="0.9"/>
<circle cx="233.26" cy="506.70" r="1.35" fill="#2dc552" fill-opacity="0.9"/>
<circle cx="232.56" cy="506.68" r="1.35" fill="#2dc552" fill-opacity="0.9"/>
<circle cx="231.81" cy="503.94" r="1.35" fill="#2dc552" fill-opacity="0.9"/>
<circle cx="232.69" cy="505.27" r="1.35" fill="#2dc552" fill-opacity="0.9"/>
<circle cx="232.59" cy="506.36" r="1.35" fill="#2dc552" fill-opacity="0.9"/>
<circle cx="232.07" cy="505.77" r="1.35" fill="#2dc552" fill-opacity="0.9"/>
<circle cx="231.58" cy="502.03" r="1.35" fill="#2dc552" fill-opacity="0.9"/>
<circle cx="251.00" cy="472.20" r="1.35" fill="#2dc552" fill-opacity="0.9"/>
<circle cx="252.20" cy="475.30" r="1.35" fill="#2dc552" fill-opacity="0.9"/>
<circle cx="251.60" cy="486.80" r="1.35" fill="#2dc552" fill-opacity="0.9"/>
<circle cx="251.60" cy="507.70" r="1.35" fill="#2dc552" fill-opacity="0.9"/>
<circle cx="252.24" cy="499.12" r="1.35" fill="#2dc552" fill-opacity="0.9"/>
<circle cx="251.91" cy="502.22" r="1.35" fill="#2dc552" fill-opacity="0.9"/>
<circle cx="252.52" cy="503.35" r="1.35" fill="#2dc552" fill-opacity="0.9"/>
<circle cx="251.73" cy="493.00" r="1.35" fill="#2dc552" fill-opacity="0.9"/>
<circle cx="251.40" cy="503.05" r="1.35" fill="#2dc552" fill-opacity="0.9"/>
<circle cx="251.51" cy="497.45" r="1.35" fill="#2dc552" fill-opacity="0.9"/>
<circle cx="251.51" cy="494.43" r="1.35" fill="#2dc552" fill-opacity="0.9"/>
<circle cx="251.55" cy="497.02" r="1.35" fill="#2dc552" fill-opacity="0.9"/>
<circle cx="251.53" cy="503.74" r="1.35" fill="#2dc552" fill-opacity="0.9"/>
<circle cx="272.50" cy="477.80" r="1.35" fill="#2dc552" fill-opacity="0.9"/>
<circle cx="271.90" cy="491.00" r="1.35" fill="#2dc552" fill-opacity="0.9"/>
<circle cx="271.50" cy="506.70" r="1.35" fill="#2dc552" fill-opacity="0.9"/>
<circle cx="271.53" cy="499.66" r="1.35" fill="#2dc552" fill-opacity="0.9"/>
<circle cx="272.09" cy="504.38" r="1.35" fill="#2dc552" fill-opacity="0.9"/>
<circle cx="270.67" cy="503.86" r="1.35" fill="#2dc552" fill-opacity="0.9"/>
<circle cx="271.10" cy="498.84" r="1.35" fill="#2dc552" fill-opacity="0.9"/>
<circle cx="272.03" cy="499.06" r="1.35" fill="#2dc552" fill-opacity="0.9"/>
<circle cx="272.39" cy="500.50" r="1.35" fill="#2dc552" fill-opacity="0.9"/>
<circle cx="271.62" cy="501.51" r="1.35" fill="#2dc552" fill-opacity="0.9"/>
<circle cx="271.66" cy="502.70" r="1.35" fill="#2dc552" fill-opacity="0.9"/>
<circle cx="270.81" cy="500.48" r="1.35" fill="#2dc552" fill-opacity="0.9"/>
<circle cx="342.70" cy="71.40" r="1.45" fill="#c4c4c4" fill-opacity="0.72"/>
<circle cx="344.20" cy="78.50" r="1.45" fill="#c4c4c4" fill-opacity="0.72"/>
<circle cx="344.70" cy="83.60" r="1.45" fill="#c4c4c4" fill-opacity="0.72"/>
<circle cx="342.70" cy="89.20" r="1.45" fill="#c4c4c4" fill-opacity="0.72"/>
<circle cx="344.70" cy="90.70" r="1.45" fill="#c4c4c4" fill-opacity="0.72"/>
<circle cx="341.70" cy="126.90" r="1.45" fill="#c4c4c4" fill-opacity="0.72"/>
<circle cx="342.20" cy="139.60" r="1.45" fill="#c4c4c4" fill-opacity="0.72"/>
<circle cx="343.53" cy="107.18" r="1.45" fill="#c4c4c4" fill-opacity="0.72"/>
<circle cx="342.77" cy="104.72" r="1.45" fill="#c4c4c4" fill-opacity="0.72"/>
<circle cx="341.70" cy="107.30" r="1.45" fill="#c4c4c4" fill-opacity="0.72"/>
<circle cx="342.87" cy="102.67" r="1.45" fill="#c4c4c4" fill-opacity="0.72"/>
<circle cx="343.00" cy="119.86" r="1.45" fill="#c4c4c4" fill-opacity="0.72"/>
<circle cx="343.41" cy="113.24" r="1.45" fill="#c4c4c4" fill-opacity="0.72"/>
<circle cx="342.60" cy="115.14" r="1.45" fill="#c4c4c4" fill-opacity="0.72"/>
<circle cx="363.00" cy="25.10" r="1.45" fill="#d070f0" fill-opacity="0.72"/>
<circle cx="362.50" cy="50.00" r="1.45" fill="#d070f0" fill-opacity="0.72"/>
<circle cx="363.00" cy="54.30" r="1.45" fill="#d070f0" fill-opacity="0.72"/>
<circle cx="363.00" cy="75.50" r="1.45" fill="#d070f0" fill-opacity="0.72"/>
<circle cx="363.00" cy="80.60" r="1.45" fill="#d070f0" fill-opacity="0.72"/>
<circle cx="363.00" cy="84.90" r="1.45" fill="#d070f0" fill-opacity="0.72"/>
<circle cx="362.00" cy="95.10" r="1.45" fill="#d070f0" fill-opacity="0.72"/>
<circle cx="362.50" cy="98.90" r="1.45" fill="#d070f0" fill-opacity="0.72"/>
<circle cx="363.80" cy="126.90" r="1.45" fill="#d070f0" fill-opacity="0.72"/>
<circle cx="362.00" cy="132.00" r="1.45" fill="#d070f0" fill-opacity="0.72"/>
<circle cx="363.00" cy="135.80" r="1.45" fill="#d070f0" fill-opacity="0.72"/>
<circle cx="363.80" cy="146.00" r="1.45" fill="#d070f0" fill-opacity="0.72"/>
<circle cx="362.50" cy="129.00" r="1.45" fill="#d070f0" fill-opacity="0.72"/>
<circle cx="363.50" cy="131.00" r="1.45" fill="#d070f0" fill-opacity="0.72"/>
<circle cx="361.77" cy="107.94" r="1.45" fill="#d070f0" fill-opacity="0.72"/>
<circle cx="362.01" cy="110.57" r="1.45" fill="#d070f0" fill-opacity="0.72"/>
<circle cx="361.79" cy="111.90" r="1.45" fill="#d070f0" fill-opacity="0.72"/>
<circle cx="361.86" cy="116.65" r="1.45" fill="#d070f0" fill-opacity="0.72"/>
<circle cx="362.12" cy="115.39" r="1.45" fill="#d070f0" fill-opacity="0.72"/>
<circle cx="361.83" cy="111.78" r="1.45" fill="#d070f0" fill-opacity="0.72"/>
<circle cx="363.71" cy="122.37" r="1.45" fill="#d070f0" fill-opacity="0.72"/>
<circle cx="361.58" cy="115.98" r="1.45" fill="#d070f0" fill-opacity="0.72"/>
<circle cx="362.74" cy="109.79" r="1.45" fill="#d070f0" fill-opacity="0.72"/>
<circle cx="362.44" cy="107.51" r="1.45" fill="#d070f0" fill-opacity="0.72"/>
<circle cx="382.90" cy="66.30" r="1.45" fill="#f060c8" fill-opacity="0.72"/>
<circle cx="382.90" cy="75.50" r="1.45" fill="#f060c8" fill-opacity="0.72"/>
<circle cx="383.40" cy="81.80" r="1.45" fill="#f060c8" fill-opacity="0.72"/>
<circle cx="383.40" cy="84.90" r="1.45" fill="#f060c8" fill-opacity="0.72"/>
<circle cx="382.90" cy="88.70" r="1.45" fill="#f060c8" fill-opacity="0.72"/>
<circle cx="383.40" cy="137.00" r="1.45" fill="#f060c8" fill-opacity="0.72"/>
<circle cx="382.90" cy="152.30" r="1.45" fill="#f060c8" fill-opacity="0.72"/>
<circle cx="383.16" cy="124.52" r="1.45" fill="#f060c8" fill-opacity="0.72"/>
<circle cx="383.84" cy="105.85" r="1.45" fill="#f060c8" fill-opacity="0.72"/>
<circle cx="382.87" cy="111.98" r="1.45" fill="#f060c8" fill-opacity="0.72"/>
<circle cx="382.91" cy="124.25" r="1.45" fill="#f060c8" fill-opacity="0.72"/>
<circle cx="382.15" cy="122.02" r="1.45" fill="#f060c8" fill-opacity="0.72"/>
<circle cx="383.43" cy="120.98" r="1.45" fill="#f060c8" fill-opacity="0.72"/>
<circle cx="381.91" cy="108.98" r="1.45" fill="#f060c8" fill-opacity="0.72"/>
<circle cx="382.27" cy="107.12" r="1.45" fill="#f060c8" fill-opacity="0.72"/>
<circle cx="402.30" cy="70.40" r="1.45" fill="#6a95f0" fill-opacity="0.72"/>
<circle cx="401.50" cy="77.30" r="1.45" fill="#6a95f0" fill-opacity="0.72"/>
<circle cx="402.80" cy="79.80" r="1.45" fill="#6a95f0" fill-opacity="0.72"/>
<circle cx="404.10" cy="82.30" r="1.45" fill="#6a95f0" fill-opacity="0.72"/>
<circle cx="400.80" cy="88.70" r="1.45" fill="#6a95f0" fill-opacity="0.72"/>
<circle cx="404.10" cy="90.70" r="1.45" fill="#6a95f0" fill-opacity="0.72"/>
<circle cx="402.30" cy="98.90" r="1.45" fill="#6a95f0" fill-opacity="0.72"/>
<circle cx="402.80" cy="126.90" r="1.45" fill="#6a95f0" fill-opacity="0.72"/>
<circle cx="403.30" cy="131.20" r="1.45" fill="#6a95f0" fill-opacity="0.72"/>
<circle cx="401.50" cy="135.80" r="1.45" fill="#6a95f0" fill-opacity="0.72"/>
<circle cx="400.80" cy="139.60" r="1.45" fill="#6a95f0" fill-opacity="0.72"/>
<circle cx="404.80" cy="144.20" r="1.45" fill="#6a95f0" fill-opacity="0.72"/>
<circle cx="402.63" cy="114.31" r="1.45" fill="#6a95f0" fill-opacity="0.72"/>
<circle cx="402.76" cy="115.95" r="1.45" fill="#6a95f0" fill-opacity="0.72"/>
<circle cx="401.51" cy="110.65" r="1.45" fill="#6a95f0" fill-opacity="0.72"/>
<circle cx="402.25" cy="108.10" r="1.45" fill="#6a95f0" fill-opacity="0.72"/>
<circle cx="401.72" cy="118.01" r="1.45" fill="#6a95f0" fill-opacity="0.72"/>
<circle cx="401.54" cy="111.57" r="1.45" fill="#6a95f0" fill-opacity="0.72"/>
<circle cx="403.95" cy="117.42" r="1.45" fill="#6a95f0" fill-opacity="0.72"/>
<circle cx="402.21" cy="108.89" r="1.45" fill="#6a95f0" fill-opacity="0.72"/>
<circle cx="422.70" cy="42.90" r="1.45" fill="#14b48c" fill-opacity="0.72"/>
<circle cx="422.70" cy="68.30" r="1.45" fill="#14b48c" fill-opacity="0.72"/>
<circle cx="423.20" cy="88.70" r="1.45" fill="#14b48c" fill-opacity="0.72"/>
<circle cx="422.70" cy="107.80" r="1.45" fill="#14b48c" fill-opacity="0.72"/>
<circle cx="420.60" cy="114.70" r="1.45" fill="#14b48c" fill-opacity="0.72"/>
<circle cx="418.60" cy="131.50" r="1.45" fill="#14b48c" fill-opacity="0.72"/>
<circle cx="422.70" cy="132.00" r="1.45" fill="#14b48c" fill-opacity="0.72"/>
<circle cx="421.10" cy="134.50" r="1.45" fill="#14b48c" fill-opacity="0.72"/>
<circle cx="420.60" cy="139.10" r="1.45" fill="#14b48c" fill-opacity="0.72"/>
<circle cx="424.40" cy="145.20" r="1.45" fill="#14b48c" fill-opacity="0.72"/>
<circle cx="423.59" cy="124.22" r="1.45" fill="#14b48c" fill-opacity="0.72"/>
<circle cx="423.33" cy="112.58" r="1.45" fill="#14b48c" fill-opacity="0.72"/>
<circle cx="423.68" cy="121.53" r="1.45" fill="#14b48c" fill-opacity="0.72"/>
<circle cx="421.50" cy="123.18" r="1.45" fill="#14b48c" fill-opacity="0.72"/>
<circle cx="423.08" cy="119.73" r="1.45" fill="#14b48c" fill-opacity="0.72"/>
<circle cx="423.61" cy="117.13" r="1.45" fill="#14b48c" fill-opacity="0.72"/>
<circle cx="421.65" cy="115.88" r="1.45" fill="#14b48c" fill-opacity="0.72"/>
<circle cx="421.35" cy="114.56" r="1.45" fill="#14b48c" fill-opacity="0.72"/>
<circle cx="342.70" cy="205.70" r="1.45" fill="#c4c4c4" fill-opacity="0.72"/>
<circle cx="342.70" cy="247.20" r="1.45" fill="#c4c4c4" fill-opacity="0.72"/>
<circle cx="342.70" cy="270.80" r="1.45" fill="#c4c4c4" fill-opacity="0.72"/>
<circle cx="342.70" cy="285.30" r="1.45" fill="#c4c4c4" fill-opacity="0.72"/>
<circle cx="342.70" cy="289.70" r="1.45" fill="#c4c4c4" fill-opacity="0.72"/>
<circle cx="342.70" cy="313.30" r="1.45" fill="#c4c4c4" fill-opacity="0.72"/>
<circle cx="342.70" cy="319.70" r="1.45" fill="#c4c4c4" fill-opacity="0.72"/>
<circle cx="342.13" cy="304.47" r="1.45" fill="#c4c4c4" fill-opacity="0.72"/>
<circle cx="343.82" cy="302.07" r="1.45" fill="#c4c4c4" fill-opacity="0.72"/>
<circle cx="343.43" cy="305.92" r="1.45" fill="#c4c4c4" fill-opacity="0.72"/>
<circle cx="343.06" cy="295.81" r="1.45" fill="#c4c4c4" fill-opacity="0.72"/>
<circle cx="342.63" cy="305.25" r="1.45" fill="#c4c4c4" fill-opacity="0.72"/>
<circle cx="343.98" cy="296.70" r="1.45" fill="#c4c4c4" fill-opacity="0.72"/>
<circle cx="342.72" cy="296.16" r="1.45" fill="#c4c4c4" fill-opacity="0.72"/>
<circle cx="363.00" cy="230.10" r="1.45" fill="#d070f0" fill-opacity="0.72"/>
<circle cx="363.80" cy="261.20" r="1.45" fill="#d070f0" fill-opacity="0.72"/>
<circle cx="363.80" cy="275.90" r="1.45" fill="#d070f0" fill-opacity="0.72"/>
<circle cx="363.80" cy="289.70" r="1.45" fill="#d070f0" fill-opacity="0.72"/>
<circle cx="363.80" cy="291.20" r="1.45" fill="#d070f0" fill-opacity="0.72"/>
<circle cx="363.00" cy="296.30" r="1.45" fill="#d070f0" fill-opacity="0.72"/>
<circle cx="363.80" cy="298.80" r="1.45" fill="#d070f0" fill-opacity="0.72"/>
<circle cx="362.00" cy="317.60" r="1.45" fill="#d070f0" fill-opacity="0.72"/>
<circle cx="363.80" cy="321.00" r="1.45" fill="#d070f0" fill-opacity="0.72"/>
<circle cx="363.80" cy="326.10" r="1.45" fill="#d070f0" fill-opacity="0.72"/>
<circle cx="363.30" cy="318.50" r="1.45" fill="#d070f0" fill-opacity="0.72"/>
<circle cx="364.79" cy="312.79" r="1.45" fill="#d070f0" fill-opacity="0.72"/>
<circle cx="363.45" cy="309.88" r="1.45" fill="#d070f0" fill-opacity="0.72"/>
<circle cx="363.86" cy="309.40" r="1.45" fill="#d070f0" fill-opacity="0.72"/>
<circle cx="364.81" cy="310.06" r="1.45" fill="#d070f0" fill-opacity="0.72"/>
<circle cx="364.07" cy="308.82" r="1.45" fill="#d070f0" fill-opacity="0.72"/>
<circle cx="362.75" cy="312.26" r="1.45" fill="#d070f0" fill-opacity="0.72"/>
<circle cx="364.89" cy="310.37" r="1.45" fill="#d070f0" fill-opacity="0.72"/>
<circle cx="364.08" cy="308.29" r="1.45" fill="#d070f0" fill-opacity="0.72"/>
<circle cx="384.90" cy="279.70" r="1.45" fill="#f060c8" fill-opacity="0.72"/>
<circle cx="384.90" cy="283.50" r="1.45" fill="#f060c8" fill-opacity="0.72"/>
<circle cx="384.90" cy="298.10" r="1.45" fill="#f060c8" fill-opacity="0.72"/>
<circle cx="385.40" cy="301.40" r="1.45" fill="#f060c8" fill-opacity="0.72"/>
<circle cx="384.90" cy="326.80" r="1.45" fill="#f060c8" fill-opacity="0.72"/>
<circle cx="384.60" cy="318.00" r="1.45" fill="#f060c8" fill-opacity="0.72"/>
<circle cx="384.36" cy="310.08" r="1.45" fill="#f060c8" fill-opacity="0.72"/>
<circle cx="384.20" cy="308.28" r="1.45" fill="#f060c8" fill-opacity="0.72"/>
<circle cx="385.48" cy="314.31" r="1.45" fill="#f060c8" fill-opacity="0.72"/>
<circle cx="383.64" cy="312.70" r="1.45" fill="#f060c8" fill-opacity="0.72"/>
<circle cx="385.03" cy="311.91" r="1.45" fill="#f060c8" fill-opacity="0.72"/>
<circle cx="385.53" cy="315.22" r="1.45" fill="#f060c8" fill-opacity="0.72"/>
<circle cx="385.83" cy="314.26" r="1.45" fill="#f060c8" fill-opacity="0.72"/>
<circle cx="384.44" cy="308.40" r="1.45" fill="#f060c8" fill-opacity="0.72"/>
<circle cx="405.50" cy="297.80" r="1.45" fill="#6a95f0" fill-opacity="0.72"/>
<circle cx="405.90" cy="302.60" r="1.45" fill="#6a95f0" fill-opacity="0.72"/>
<circle cx="404.90" cy="325.60" r="1.45" fill="#6a95f0" fill-opacity="0.72"/>
<circle cx="405.50" cy="327.10" r="1.45" fill="#6a95f0" fill-opacity="0.72"/>
<circle cx="406.50" cy="324.50" r="1.45" fill="#6a95f0" fill-opacity="0.72"/>
<circle cx="406.38" cy="321.20" r="1.45" fill="#6a95f0" fill-opacity="0.72"/>
<circle cx="406.37" cy="317.22" r="1.45" fill="#6a95f0" fill-opacity="0.72"/>
<circle cx="406.17" cy="321.34" r="1.45" fill="#6a95f0" fill-opacity="0.72"/>
<circle cx="406.30" cy="317.31" r="1.45" fill="#6a95f0" fill-opacity="0.72"/>
<circle cx="405.91" cy="318.82" r="1.45" fill="#6a95f0" fill-opacity="0.72"/>
<circle cx="405.15" cy="321.06" r="1.45" fill="#6a95f0" fill-opacity="0.72"/>
<circle cx="405.40" cy="317.44" r="1.45" fill="#6a95f0" fill-opacity="0.72"/>
<circle cx="404.97" cy="317.88" r="1.45" fill="#6a95f0" fill-opacity="0.72"/>
<circle cx="426.40" cy="287.40" r="1.45" fill="#14b48c" fill-opacity="0.72"/>
<circle cx="426.40" cy="314.10" r="1.45" fill="#14b48c" fill-opacity="0.72"/>
<circle cx="425.80" cy="327.70" r="1.45" fill="#14b48c" fill-opacity="0.72"/>
<circle cx="426.80" cy="329.80" r="1.45" fill="#14b48c" fill-opacity="0.72"/>
<circle cx="426.00" cy="326.00" r="1.45" fill="#14b48c" fill-opacity="0.72"/>
<circle cx="427.04" cy="323.54" r="1.45" fill="#14b48c" fill-opacity="0.72"/>
<circle cx="425.50" cy="321.92" r="1.45" fill="#14b48c" fill-opacity="0.72"/>
<circle cx="427.72" cy="321.00" r="1.45" fill="#14b48c" fill-opacity="0.72"/>
<circle cx="427.87" cy="321.31" r="1.45" fill="#14b48c" fill-opacity="0.72"/>
<circle cx="426.92" cy="323.74" r="1.45" fill="#14b48c" fill-opacity="0.72"/>
<circle cx="427.26" cy="319.77" r="1.45" fill="#14b48c" fill-opacity="0.72"/>
<circle cx="427.85" cy="321.93" r="1.45" fill="#14b48c" fill-opacity="0.72"/>
<circle cx="427.29" cy="321.53" r="1.45" fill="#14b48c" fill-opacity="0.72"/>
<circle cx="343.10" cy="464.80" r="1.45" fill="#c4c4c4" fill-opacity="0.72"/>
<circle cx="343.10" cy="472.90" r="1.45" fill="#c4c4c4" fill-opacity="0.72"/>
<circle cx="343.10" cy="500.00" r="1.45" fill="#c4c4c4" fill-opacity="0.72"/>
<circle cx="344.86" cy="479.89" r="1.45" fill="#c4c4c4" fill-opacity="0.72"/>
<circle cx="343.62" cy="487.10" r="1.45" fill="#c4c4c4" fill-opacity="0.72"/>
<circle cx="342.74" cy="487.61" r="1.45" fill="#c4c4c4" fill-opacity="0.72"/>
<circle cx="345.01" cy="484.51" r="1.45" fill="#c4c4c4" fill-opacity="0.72"/>
<circle cx="344.63" cy="489.82" r="1.45" fill="#c4c4c4" fill-opacity="0.72"/>
<circle cx="342.77" cy="493.18" r="1.45" fill="#c4c4c4" fill-opacity="0.72"/>
<circle cx="364.00" cy="386.10" r="1.45" fill="#d070f0" fill-opacity="0.72"/>
<circle cx="364.00" cy="441.00" r="1.45" fill="#d070f0" fill-opacity="0.72"/>
<circle cx="364.00" cy="462.40" r="1.45" fill="#d070f0" fill-opacity="0.72"/>
<circle cx="364.00" cy="473.40" r="1.45" fill="#d070f0" fill-opacity="0.72"/>
<circle cx="364.50" cy="477.10" r="1.45" fill="#d070f0" fill-opacity="0.72"/>
<circle cx="363.50" cy="480.80" r="1.45" fill="#d070f0" fill-opacity="0.72"/>
<circle cx="364.00" cy="502.90" r="1.45" fill="#d070f0" fill-opacity="0.72"/>
<circle cx="364.00" cy="507.40" r="1.45" fill="#d070f0" fill-opacity="0.72"/>
<circle cx="364.00" cy="510.30" r="1.45" fill="#d070f0" fill-opacity="0.72"/>
<circle cx="364.50" cy="500.50" r="1.45" fill="#d070f0" fill-opacity="0.72"/>
<circle cx="363.16" cy="497.58" r="1.45" fill="#d070f0" fill-opacity="0.72"/>
<circle cx="364.02" cy="497.12" r="1.45" fill="#d070f0" fill-opacity="0.72"/>
<circle cx="364.19" cy="493.92" r="1.45" fill="#d070f0" fill-opacity="0.72"/>
<circle cx="364.55" cy="494.58" r="1.45" fill="#d070f0" fill-opacity="0.72"/>
<circle cx="365.54" cy="492.83" r="1.45" fill="#d070f0" fill-opacity="0.72"/>
<circle cx="364.05" cy="489.70" r="1.45" fill="#d070f0" fill-opacity="0.72"/>
<circle cx="364.05" cy="492.25" r="1.45" fill="#d070f0" fill-opacity="0.72"/>
<circle cx="365.07" cy="496.51" r="1.45" fill="#d070f0" fill-opacity="0.72"/>
<circle cx="384.90" cy="439.50" r="1.45" fill="#f060c8" fill-opacity="0.72"/>
<circle cx="384.90" cy="446.90" r="1.45" fill="#f060c8" fill-opacity="0.72"/>
<circle cx="385.60" cy="452.50" r="1.45" fill="#f060c8" fill-opacity="0.72"/>
<circle cx="385.60" cy="458.20" r="1.45" fill="#f060c8" fill-opacity="0.72"/>
<circle cx="384.90" cy="463.60" r="1.45" fill="#f060c8" fill-opacity="0.72"/>
<circle cx="384.90" cy="467.30" r="1.45" fill="#f060c8" fill-opacity="0.72"/>
<circle cx="385.60" cy="474.70" r="1.45" fill="#f060c8" fill-opacity="0.72"/>
<circle cx="384.90" cy="504.20" r="1.45" fill="#f060c8" fill-opacity="0.72"/>
<circle cx="384.90" cy="507.90" r="1.45" fill="#f060c8" fill-opacity="0.72"/>
<circle cx="384.89" cy="486.98" r="1.45" fill="#f060c8" fill-opacity="0.72"/>
<circle cx="385.46" cy="483.32" r="1.45" fill="#f060c8" fill-opacity="0.72"/>
<circle cx="385.59" cy="486.98" r="1.45" fill="#f060c8" fill-opacity="0.72"/>
<circle cx="383.98" cy="481.97" r="1.45" fill="#f060c8" fill-opacity="0.72"/>
<circle cx="385.68" cy="482.54" r="1.45" fill="#f060c8" fill-opacity="0.72"/>
<circle cx="384.41" cy="487.72" r="1.45" fill="#f060c8" fill-opacity="0.72"/>
<circle cx="386.45" cy="486.44" r="1.45" fill="#f060c8" fill-opacity="0.72"/>
<circle cx="384.34" cy="494.43" r="1.45" fill="#f060c8" fill-opacity="0.72"/>
<circle cx="405.60" cy="439.60" r="1.45" fill="#6a95f0" fill-opacity="0.72"/>
<circle cx="406.40" cy="483.50" r="1.45" fill="#6a95f0" fill-opacity="0.72"/>
<circle cx="406.40" cy="485.40" r="1.45" fill="#6a95f0" fill-opacity="0.72"/>
<circle cx="405.10" cy="503.60" r="1.45" fill="#6a95f0" fill-opacity="0.72"/>
<circle cx="407.00" cy="505.50" r="1.45" fill="#6a95f0" fill-opacity="0.72"/>
<circle cx="406.98" cy="495.71" r="1.45" fill="#6a95f0" fill-opacity="0.72"/>
<circle cx="405.18" cy="492.84" r="1.45" fill="#6a95f0" fill-opacity="0.72"/>
<circle cx="405.15" cy="500.77" r="1.45" fill="#6a95f0" fill-opacity="0.72"/>
<circle cx="404.75" cy="496.47" r="1.45" fill="#6a95f0" fill-opacity="0.72"/>
<circle cx="405.88" cy="497.28" r="1.45" fill="#6a95f0" fill-opacity="0.72"/>
<circle cx="406.12" cy="492.68" r="1.45" fill="#6a95f0" fill-opacity="0.72"/>
<circle cx="404.82" cy="498.62" r="1.45" fill="#6a95f0" fill-opacity="0.72"/>
<circle cx="406.67" cy="493.93" r="1.45" fill="#6a95f0" fill-opacity="0.72"/>
<circle cx="427.40" cy="440.20" r="1.45" fill="#14b48c" fill-opacity="0.72"/>
<circle cx="427.00" cy="487.30" r="1.45" fill="#14b48c" fill-opacity="0.72"/>
<circle cx="427.00" cy="490.20" r="1.45" fill="#14b48c" fill-opacity="0.72"/>
<circle cx="426.10" cy="506.40" r="1.45" fill="#14b48c" fill-opacity="0.72"/>
<circle cx="428.00" cy="505.50" r="1.45" fill="#14b48c" fill-opacity="0.72"/>
<circle cx="427.96" cy="498.75" r="1.45" fill="#14b48c" fill-opacity="0.72"/>
<circle cx="426.47" cy="499.28" r="1.45" fill="#14b48c" fill-opacity="0.72"/>
<circle cx="426.20" cy="498.66" r="1.45" fill="#14b48c" fill-opacity="0.72"/>
<circle cx="427.17" cy="498.37" r="1.45" fill="#14b48c" fill-opacity="0.72"/>
<circle cx="426.56" cy="499.54" r="1.45" fill="#14b48c" fill-opacity="0.72"/>
<circle cx="425.57" cy="496.55" r="1.45" fill="#14b48c" fill-opacity="0.72"/>
<circle cx="425.91" cy="496.75" r="1.45" fill="#14b48c" fill-opacity="0.72"/>
<circle cx="427.36" cy="501.78" r="1.45" fill="#14b48c" fill-opacity="0.72"/>
<polyline points="342.20,18.20 342.20,13.60 393.60,13.60 393.60,18.20" stroke="#2a2a2a" stroke-width="1.1" fill="none" stroke-linejoin="miter"/>
<line x1="362.80" y1="18.20" x2="424.40" y2="18.20" stroke="#2a2a2a" stroke-width="1.1"/>
<line x1="362.80" y1="18.20" x2="362.80" y2="22.70" stroke="#2a2a2a" stroke-width="1.1"/>
<line x1="383.20" y1="18.20" x2="383.20" y2="22.70" stroke="#2a2a2a" stroke-width="1.1"/>
<line x1="403.40" y1="18.20" x2="403.40" y2="22.70" stroke="#2a2a2a" stroke-width="1.1"/>
<line x1="424.40" y1="18.20" x2="424.40" y2="22.70" stroke="#2a2a2a" stroke-width="1.1"/>
<polyline points="373.00,35.50 373.00,30.80 413.90,30.80 413.90,35.50" stroke="#2a2a2a" stroke-width="1.1" fill="none" stroke-linejoin="miter"/>
<polyline points="362.80,40.50 362.80,35.50 383.20,35.50 383.20,40.50" stroke="#2a2a2a" stroke-width="1.1" fill="none" stroke-linejoin="miter" stroke-linecap="butt"/>
<polyline points="403.40,40.50 403.40,35.50 424.40,35.50 424.40,40.50" stroke="#2a2a2a" stroke-width="1.1" fill="none" stroke-linejoin="miter" stroke-linecap="butt"/>
<polyline points="362.80,63.20 362.80,58.60 383.20,58.60 383.20,63.20" stroke="#2a2a2a" stroke-width="1.1" fill="none" stroke-linejoin="miter" stroke-linecap="butt"/>
<polyline points="403.40,63.20 403.40,58.60 424.40,58.60 424.40,63.20" stroke="#2a2a2a" stroke-width="1.1" fill="none" stroke-linejoin="miter" stroke-linecap="butt"/>
<text x="363.80" y="11.50" font-size="10.2" fill="#000" font-style="italic" textLength="9.60" lengthAdjust="spacingAndGlyphs">ns</text>
<text x="388.60" y="28.50" font-size="10.2" fill="#000" font-style="italic" textLength="9.80" lengthAdjust="spacingAndGlyphs">ns</text>
<text x="368.50" y="56.00" font-size="10.2" fill="#000" font-style="italic" textLength="9.60" lengthAdjust="spacingAndGlyphs">ns</text>
<text x="409.00" y="56.00" font-size="10.2" fill="#000" font-style="italic" textLength="10.00" lengthAdjust="spacingAndGlyphs">ns</text>
<polyline points="342.40,199.40 342.40,195.40 395.40,195.40 395.40,199.40" stroke="#2a2a2a" stroke-width="1.1" fill="none" stroke-linejoin="miter"/>
<line x1="363.50" y1="199.40" x2="427.30" y2="199.40" stroke="#2a2a2a" stroke-width="1.1"/>
<line x1="363.50" y1="199.40" x2="363.50" y2="204.30" stroke="#2a2a2a" stroke-width="1.1"/>
<line x1="384.60" y1="199.40" x2="384.60" y2="204.30" stroke="#2a2a2a" stroke-width="1.1"/>
<line x1="405.70" y1="199.40" x2="405.70" y2="204.30" stroke="#2a2a2a" stroke-width="1.1"/>
<line x1="427.30" y1="199.40" x2="427.30" y2="204.30" stroke="#2a2a2a" stroke-width="1.1"/>
<polyline points="374.05,218.50 374.05,213.00 416.50,213.00 416.50,218.50" stroke="#2a2a2a" stroke-width="1.1" fill="none" stroke-linejoin="miter"/>
<polyline points="363.50,222.70 363.50,218.50 384.60,218.50 384.60,222.70" stroke="#2a2a2a" stroke-width="1.1" fill="none" stroke-linejoin="miter" stroke-linecap="butt"/>
<polyline points="405.70,222.70 405.70,218.50 427.30,218.50 427.30,222.70" stroke="#2a2a2a" stroke-width="1.1" fill="none" stroke-linejoin="miter" stroke-linecap="butt"/>
<polyline points="363.50,239.40 363.50,235.40 384.60,235.40 384.60,239.40" stroke="#2a2a2a" stroke-width="1.1" fill="none" stroke-linejoin="miter" stroke-linecap="butt"/>
<polyline points="405.70,239.40 405.70,235.40 427.30,235.40 427.30,239.40" stroke="#2a2a2a" stroke-width="1.1" fill="none" stroke-linejoin="miter" stroke-linecap="butt"/>
<polygon points="363.40,189.00 363.99,190.54 365.63,190.62 364.35,191.66 364.78,193.25 363.40,192.35 362.02,193.25 362.45,191.66 361.17,190.62 362.81,190.54" fill="#111"/>
<polygon points="368.10,189.00 368.69,190.54 370.33,190.62 369.05,191.66 369.48,193.25 368.10,192.35 366.72,193.25 367.15,191.66 365.87,190.62 367.51,190.54" fill="#111"/>
<polygon points="372.80,189.00 373.39,190.54 375.03,190.62 373.75,191.66 374.18,193.25 372.80,192.35 371.42,193.25 371.85,191.66 370.57,190.62 372.21,190.54" fill="#111"/>
<polygon points="389.90,207.90 390.49,209.44 392.13,209.52 390.85,210.56 391.28,212.15 389.90,211.25 388.52,212.15 388.95,210.56 387.67,209.52 389.31,209.44" fill="#111"/>
<polygon points="394.50,207.90 395.09,209.44 396.73,209.52 395.45,210.56 395.88,212.15 394.50,211.25 393.12,212.15 393.55,210.56 392.27,209.52 393.91,209.44" fill="#111"/>
<polygon points="399.10,207.90 399.69,209.44 401.33,209.52 400.05,210.56 400.48,212.15 399.10,211.25 397.72,212.15 398.15,210.56 396.87,209.52 398.51,209.44" fill="#111"/>
<text x="368.50" y="232.00" font-size="10.2" fill="#000" font-style="italic" textLength="10.40" lengthAdjust="spacingAndGlyphs">ns</text>
<text x="410.70" y="232.00" font-size="10.2" fill="#000" font-style="italic" textLength="10.00" lengthAdjust="spacingAndGlyphs">ns</text>
<polyline points="343.70,373.70 343.70,369.90 396.45,369.90 396.45,373.70" stroke="#2a2a2a" stroke-width="1.1" fill="none" stroke-linejoin="miter"/>
<line x1="364.80" y1="373.70" x2="428.10" y2="373.70" stroke="#2a2a2a" stroke-width="1.1"/>
<line x1="364.80" y1="373.70" x2="364.80" y2="378.60" stroke="#2a2a2a" stroke-width="1.1"/>
<line x1="385.90" y1="373.70" x2="385.90" y2="378.60" stroke="#2a2a2a" stroke-width="1.1"/>
<line x1="406.50" y1="373.70" x2="406.50" y2="378.60" stroke="#2a2a2a" stroke-width="1.1"/>
<line x1="428.10" y1="373.70" x2="428.10" y2="378.60" stroke="#2a2a2a" stroke-width="1.1"/>
<polyline points="375.35,392.80 375.35,387.80 417.30,387.80 417.30,392.80" stroke="#2a2a2a" stroke-width="1.1" fill="none" stroke-linejoin="miter"/>
<polyline points="364.80,397.20 364.80,392.80 385.90,392.80 385.90,397.20" stroke="#2a2a2a" stroke-width="1.1" fill="none" stroke-linejoin="miter" stroke-linecap="butt"/>
<polyline points="406.50,397.20 406.50,392.80 428.10,392.80 428.10,397.20" stroke="#2a2a2a" stroke-width="1.1" fill="none" stroke-linejoin="miter" stroke-linecap="butt"/>
<polyline points="364.80,413.40 364.80,409.70 385.90,409.70 385.90,413.40" stroke="#2a2a2a" stroke-width="1.1" fill="none" stroke-linejoin="miter" stroke-linecap="butt"/>
<polyline points="406.50,413.40 406.50,409.70 428.10,409.70 428.10,413.40" stroke="#2a2a2a" stroke-width="1.1" fill="none" stroke-linejoin="miter" stroke-linecap="butt"/>
<polygon points="367.60,362.70 368.19,364.24 369.83,364.32 368.55,365.36 368.98,366.95 367.60,366.05 366.22,366.95 366.65,365.36 365.37,364.32 367.01,364.24" fill="#111"/>
<polygon points="396.20,381.70 396.79,383.24 398.43,383.32 397.15,384.36 397.58,385.95 396.20,385.05 394.82,385.95 395.25,384.36 393.97,383.32 395.61,383.24" fill="#111"/>
<text x="369.70" y="405.90" font-size="10.2" fill="#000" font-style="italic" textLength="10.40" lengthAdjust="spacingAndGlyphs">ns</text>
<text x="411.50" y="405.90" font-size="10.2" fill="#000" font-style="italic" textLength="10.20" lengthAdjust="spacingAndGlyphs">ns</text>
</svg>
</body></html>
